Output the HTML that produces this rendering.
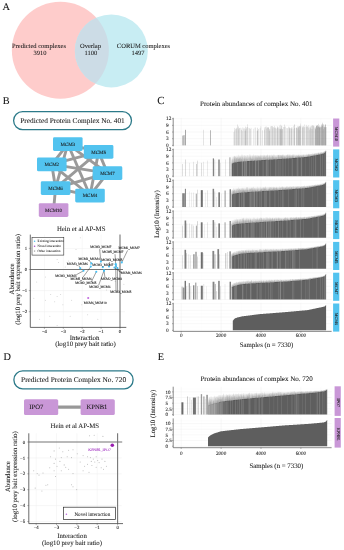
<!DOCTYPE html>
<html><head><meta charset="utf-8"><title>Figure</title>
<style>
html,body{margin:0;padding:0;background:#fff;}
body{width:344px;height:550px;overflow:hidden;position:relative;font-family:"Liberation Serif","Times New Roman",serif;color:#222;}
svg{position:absolute;left:0;top:0;}
text{font-family:"Liberation Serif","Times New Roman",serif;fill:#1c1c1c;stroke:#1c1c1c;stroke-width:0.07px;text-rendering:geometricPrecision;}
.pl{font-size:10.3px;fill:#111;}
.ax{font-size:6.8px;}
.tk{font-size:5.4px;fill:#2a2a2a;stroke:#2a2a2a;stroke-width:0.1px;}
.tt{font-size:7px;}
.nd{font-size:4.95px;fill:#1a1a1a;stroke:#1a1a1a;stroke-width:0.1px;}
.sl{font-size:3.3px;fill:#222;stroke:#222;stroke-width:0.1px;}
.st{font-size:4.2px;fill:#222;stroke:#222;stroke-width:0.1px;}
.lg{font-size:3.35px;stroke:#222;stroke-width:0.06px;}
.vn{font-size:6.5px;fill:#1a1a1a;}
</style></head><body>
<svg width="344" height="550" viewBox="0 0 344 550">
<rect width="344" height="550" fill="#ffffff"/>

<g id="venn">
<circle cx="60.35" cy="50.2" r="48.5" fill="#fecccb"/>
<circle cx="111.35" cy="50.9" r="36.5" fill="#c8edf3"/>
<clipPath id="cpA"><circle cx="60.35" cy="50.2" r="48.5"/></clipPath>
<circle cx="111.35" cy="50.9" r="36.5" fill="#ccdce6" clip-path="url(#cpA)"/>
<text class="pl" x="2.6" y="10.2">A</text>
<text class="vn" x="39" y="48.0" text-anchor="middle">Predicted complexes</text>
<text class="vn" x="40" y="54.7" text-anchor="middle">3910</text>
<text class="vn" x="90.5" y="48.0" text-anchor="middle">Overlap</text>
<text class="vn" x="90.8" y="54.7" text-anchor="middle">1100</text>
<text class="vn" x="143.5" y="48.0" text-anchor="middle">CORUM complexes</text>
<text class="vn" x="137.9" y="54.7" text-anchor="middle">1497</text>
</g>
<g id="panelB">
<text class="pl" x="2.7" y="103.8">B</text>
<rect x="13.6" y="111.6" width="117.9" height="18" rx="9" ry="9" fill="#fff" stroke="#2c7a89" stroke-width="1.3"/>
<text x="72.5" y="123" text-anchor="middle" style="font-size:7.3px">Predicted Protein Complex No. 401</text>
<g stroke="#9a9a9a" stroke-width="2.9" stroke-linecap="round">
<line x1="51.8" y1="164.4" x2="67.8" y2="144.05"/>
<line x1="51.8" y1="164.4" x2="90" y2="195.5"/>
<line x1="51.8" y1="164.4" x2="98.6" y2="151.85"/>
<line x1="51.8" y1="164.4" x2="55.55" y2="188.2"/>
<line x1="51.8" y1="164.4" x2="107.45" y2="173.15"/>
<line x1="67.8" y1="144.05" x2="90" y2="195.5"/>
<line x1="67.8" y1="144.05" x2="98.6" y2="151.85"/>
<line x1="67.8" y1="144.05" x2="55.55" y2="188.2"/>
<line x1="67.8" y1="144.05" x2="107.45" y2="173.15"/>
<line x1="90" y1="195.5" x2="98.6" y2="151.85"/>
<line x1="90" y1="195.5" x2="55.55" y2="188.2"/>
<line x1="90" y1="195.5" x2="107.45" y2="173.15"/>
<line x1="98.6" y1="151.85" x2="55.55" y2="188.2"/>
<line x1="98.6" y1="151.85" x2="107.45" y2="173.15"/>
<line x1="55.55" y1="188.2" x2="107.45" y2="173.15"/>
<line x1="55.55" y1="188.2" x2="53.55" y2="210.05"/>
</g>
<rect x="53.0" y="137.2" width="29.6" height="13.7" rx="1.4" fill="#52c3ef"/>
<text class="nd" x="67.8" y="145.8" text-anchor="middle">MCM3</text>
<rect x="83.8" y="145.0" width="29.6" height="13.7" rx="1.4" fill="#52c3ef"/>
<text class="nd" x="98.6" y="153.5" text-anchor="middle">MCM5</text>
<rect x="37.0" y="157.6" width="29.6" height="13.7" rx="1.4" fill="#52c3ef"/>
<text class="nd" x="51.8" y="166.1" text-anchor="middle">MCM2</text>
<rect x="92.7" y="166.3" width="29.6" height="13.7" rx="1.4" fill="#52c3ef"/>
<text class="nd" x="107.45" y="174.8" text-anchor="middle">MCM7</text>
<rect x="40.8" y="181.3" width="29.6" height="13.7" rx="1.4" fill="#52c3ef"/>
<text class="nd" x="55.55" y="189.9" text-anchor="middle">MCM6</text>
<rect x="75.2" y="188.7" width="29.6" height="13.7" rx="1.4" fill="#52c3ef"/>
<text class="nd" x="90" y="197.2" text-anchor="middle">MCM4</text>
<rect x="38.8" y="203.2" width="29.6" height="13.7" rx="1.4" fill="#c997d7"/>
<text class="nd" x="53.55" y="211.8" text-anchor="middle">MCM10</text>
<text class="tt" x="81.2" y="231" text-anchor="middle" style="font-size:6.8px">Hein et al AP-MS</text>
<rect x="30.3" y="234.6" width="94.7" height="92.79999999999998" fill="#fff"/>
<g stroke="#eeeeee" stroke-width="0.5">
<line x1="44.4" y1="234.6" x2="44.4" y2="327.4"/>
<line x1="63.3" y1="234.6" x2="63.3" y2="327.4"/>
<line x1="82.2" y1="234.6" x2="82.2" y2="327.4"/>
<line x1="101.1" y1="234.6" x2="101.1" y2="327.4"/>
<line x1="30.3" y1="248.4" x2="125" y2="248.4"/>
<line x1="30.3" y1="290.6" x2="125" y2="290.6"/>
<line x1="30.3" y1="311.7" x2="125" y2="311.7"/>
</g>
<g fill="#cfcfcf">
<circle cx="80.3" cy="237.8" r="0.5"/>
<circle cx="57.1" cy="259.6" r="0.5"/>
<circle cx="58.5" cy="262.5" r="0.5"/>
<circle cx="68.7" cy="261.1" r="0.5"/>
<circle cx="65.2" cy="266.9" r="0.5"/>
<circle cx="45.4" cy="277.1" r="0.5"/>
<circle cx="36.7" cy="282.0" r="0.5"/>
<circle cx="50.7" cy="294.5" r="0.5"/>
<circle cx="57.1" cy="296.5" r="0.5"/>
<circle cx="60.6" cy="294.5" r="0.5"/>
<circle cx="45.4" cy="300.3" r="0.5"/>
<circle cx="54.7" cy="301.8" r="0.5"/>
<circle cx="71.6" cy="300.3" r="0.5"/>
<circle cx="62.9" cy="304.7" r="0.5"/>
<circle cx="87.6" cy="314.8" r="0.5"/>
<circle cx="70.2" cy="316.3" r="0.5"/>
<circle cx="57.1" cy="325.6" r="0.5"/>
<circle cx="97.8" cy="319.2" r="0.5"/>
<circle cx="115.2" cy="281.4" r="0.5"/>
<circle cx="123.9" cy="284.3" r="0.5"/>
<circle cx="90.5" cy="264.6" r="0.5"/>
<circle cx="100.7" cy="250.0" r="0.5"/>
<circle cx="33.8" cy="298.3" r="0.5"/>
<circle cx="106.5" cy="290.1" r="0.5"/>
<circle cx="86.1" cy="282.9" r="0.5"/>
<circle cx="76.0" cy="249.4" r="0.5"/>
<circle cx="49.8" cy="316.3" r="0.5"/>
<circle cx="39.6" cy="319.2" r="0.5"/>
<circle cx="81.8" cy="304.7" r="0.5"/>
<circle cx="94.9" cy="301.8" r="0.5"/>
</g>
<line x1="30.3" y1="269.5" x2="123" y2="269.5" stroke="#757575" stroke-width="1.1"/>
<line x1="120.0" y1="234.6" x2="120.0" y2="327.4" stroke="#757575" stroke-width="1.1"/>
<path d="M30.3 234.6 L30.3 327.4 L126.3 327.4" fill="none" stroke="#444" stroke-width="0.8"/>
<g stroke="#444" stroke-width="0.4">
<line x1="44.4" y1="327.4" x2="44.4" y2="328.9"/>
<line x1="63.3" y1="327.4" x2="63.3" y2="328.9"/>
<line x1="82.2" y1="327.4" x2="82.2" y2="328.9"/>
<line x1="101.1" y1="327.4" x2="101.1" y2="328.9"/>
<line x1="120.0" y1="327.4" x2="120.0" y2="328.9"/>
<line x1="28.8" y1="248.4" x2="30.3" y2="248.4"/>
<line x1="28.8" y1="269.5" x2="30.3" y2="269.5"/>
<line x1="28.8" y1="290.6" x2="30.3" y2="290.6"/>
<line x1="28.8" y1="311.7" x2="30.3" y2="311.7"/>
</g>
<text class="tk" x="44.4" y="333.3" text-anchor="middle" style="font-size:4.7px">−4</text>
<text class="tk" x="63.3" y="333.3" text-anchor="middle" style="font-size:4.7px">−3</text>
<text class="tk" x="82.2" y="333.3" text-anchor="middle" style="font-size:4.7px">−2</text>
<text class="tk" x="101.1" y="333.3" text-anchor="middle" style="font-size:4.7px">−1</text>
<text class="tk" x="120.0" y="333.3" text-anchor="middle" style="font-size:4.7px">0</text>
<text class="tk" x="27.2" y="250.0" text-anchor="end" style="font-size:4.7px">1</text>
<text class="tk" x="27.2" y="271.1" text-anchor="end" style="font-size:4.7px">0</text>
<text class="tk" x="27.2" y="292.2" text-anchor="end" style="font-size:4.7px">−1</text>
<text class="tk" x="27.2" y="313.2" text-anchor="end" style="font-size:4.7px">−2</text>
<text class="ax" x="84.6" y="340.2" text-anchor="middle" style="font-size:6.9px">Interaction</text>
<text class="ax" x="85.5" y="346.2" text-anchor="middle" style="font-size:6.9px">(log10 prey bait ratio)</text>
<text class="ax" transform="translate(14.1,279.0) rotate(-90)" text-anchor="middle">Abundance</text>
<text class="ax" transform="translate(20.4,279.4) rotate(-90)" text-anchor="middle">(log10 prey bait expression ratio)</text>
<rect x="32" y="237.5" width="31.8" height="17.6" fill="#fff" stroke="#333" stroke-width="0.6"/>
<circle cx="34.6" cy="241.3" r="0.8" fill="#52c3ef"/>
<text class="lg" x="37.6" y="242.4">Existing interaction</text>
<circle cx="34.6" cy="246.2" r="0.8" fill="#a64ac9"/>
<text class="lg" x="37.6" y="247.3">Novel interaction</text>
<circle cx="34.6" cy="251.1" r="0.8" fill="#b0b0b0"/>
<text class="lg" x="37.6" y="252.2">Other interaction</text>
<g stroke="#2a2a2a" stroke-width="0.45">
<line x1="100.9" y1="261.6" x2="99.6" y2="249.2"/>
<line x1="121.8" y1="262.4" x2="127.6" y2="250.4"/>
<line x1="115.7" y1="264.3" x2="115.0" y2="254.2"/>
<line x1="91.3" y1="263.4" x2="89.5" y2="260.8"/>
<line x1="109.0" y1="266.5" x2="109.5" y2="262.0"/>
<line x1="80.3" y1="268.3" x2="78.9" y2="265.6"/>
<line x1="102.8" y1="267.2" x2="102.8" y2="266.6"/>
<line x1="114.5" y1="267.6" x2="120.6" y2="272.4"/>
<line x1="83.5" y1="270.8" x2="76.2" y2="274.8"/>
<line x1="90.8" y1="266.6" x2="82.5" y2="277.9"/>
<line x1="104.0" y1="270.6" x2="105.0" y2="278.0"/>
<line x1="96.3" y1="271.7" x2="91.2" y2="282.2"/>
<line x1="104.0" y1="270.6" x2="98.6" y2="285.4"/>
<line x1="115.7" y1="264.3" x2="116.0" y2="291.0"/>
<line x1="117.4" y1="268.0" x2="117.6" y2="291.0"/>
<line x1="116.0" y1="266.0" x2="120.6" y2="272.4"/>
</g>
<circle cx="100.9" cy="261.6" r="1.05" fill="#45c0f5"/>
<circle cx="121.8" cy="262.4" r="1.05" fill="#45c0f5"/>
<circle cx="115.7" cy="264.3" r="1.05" fill="#45c0f5"/>
<circle cx="91.3" cy="263.4" r="1.05" fill="#45c0f5"/>
<circle cx="109.0" cy="266.5" r="1.05" fill="#45c0f5"/>
<circle cx="80.3" cy="268.3" r="1.05" fill="#45c0f5"/>
<circle cx="102.8" cy="267.2" r="1.05" fill="#45c0f5"/>
<circle cx="114.5" cy="267.6" r="1.05" fill="#45c0f5"/>
<circle cx="83.5" cy="270.8" r="1.05" fill="#45c0f5"/>
<circle cx="90.8" cy="266.6" r="1.05" fill="#45c0f5"/>
<circle cx="104.0" cy="270.6" r="1.05" fill="#45c0f5"/>
<circle cx="96.3" cy="271.7" r="1.05" fill="#45c0f5"/>
<circle cx="104.0" cy="270.6" r="1.05" fill="#45c0f5"/>
<circle cx="115.7" cy="264.3" r="1.05" fill="#45c0f5"/>
<circle cx="117.4" cy="268.0" r="1.05" fill="#45c0f5"/>
<circle cx="116.0" cy="266.0" r="1.05" fill="#45c0f5"/>
<text class="sl" x="100.8" y="248.1" text-anchor="middle">MCM3_MCM7</text>
<text class="sl" x="129.1" y="249.4" text-anchor="middle">MCM6_MCM7</text>
<text class="sl" x="112.8" y="253.3" text-anchor="middle">MCM5_MCM7</text>
<text class="sl" x="89.1" y="260.0" text-anchor="middle">MCM3_MCM4</text>
<text class="sl" x="111.9" y="261.1" text-anchor="middle">MCM3_MCM5</text>
<text class="sl" x="77.4" y="264.8" text-anchor="middle">MCM3_MCM6</text>
<text class="sl" x="102.9" y="266.1" text-anchor="middle">MCM2_MCM7</text>
<text class="sl" x="131.3" y="274.1" text-anchor="middle">MCM4_MCM6</text>
<text class="sl" x="65.9" y="276.7" text-anchor="middle">MCM2_MCM3</text>
<text class="sl" x="81.1" y="280.1" text-anchor="middle">MCM5_MCM6</text>
<text class="sl" x="111.5" y="280.3" text-anchor="middle">MCM2_MCM4</text>
<text class="sl" x="85.8" y="284.4" text-anchor="middle">MCM2_MCM5</text>
<text class="sl" x="99.8" y="287.6" text-anchor="middle">MCM2_MCM6</text>
<text class="sl" x="120.9" y="293.4" text-anchor="middle">MCM4_MCM5</text>
<circle cx="88.2" cy="298" r="1.05" fill="#c36be0"/>
<text class="sl" x="95.2" y="303.6" text-anchor="middle">MCM6_MCM10</text>
</g>
<g id="panelC">
<text class="pl" x="157.3" y="104.3" style="font-size:11px">C</text>
<text class="tt" x="256.3" y="105.8" text-anchor="middle">Protein abundances of complex No. 401</text>
<rect x="173.2" y="117.8" width="158.40000000000003" height="28.5" fill="#fff"/>
<g stroke="#f8f8f8" stroke-width="0.3">
<line x1="173.2" y1="142.02" x2="331.6" y2="142.02"/>
<line x1="173.2" y1="135.36" x2="331.6" y2="135.36"/>
<line x1="173.2" y1="128.70" x2="331.6" y2="128.70"/>
<line x1="173.2" y1="122.04" x2="331.6" y2="122.04"/>
<line x1="201.15" y1="117.8" x2="201.15" y2="146.3"/>
<line x1="241.05" y1="117.8" x2="241.05" y2="146.3"/>
<line x1="280.95" y1="117.8" x2="280.95" y2="146.3"/>
<line x1="320.85" y1="117.8" x2="320.85" y2="146.3"/>
</g>
<g stroke="#f0f0f0" stroke-width="0.45">
<line x1="173.2" y1="145.35" x2="331.6" y2="145.35"/>
<line x1="173.2" y1="138.69" x2="331.6" y2="138.69"/>
<line x1="173.2" y1="132.03" x2="331.6" y2="132.03"/>
<line x1="173.2" y1="125.37" x2="331.6" y2="125.37"/>
<line x1="173.2" y1="118.71" x2="331.6" y2="118.71"/>
<line x1="181.20" y1="117.8" x2="181.20" y2="146.3"/>
<line x1="221.10" y1="117.8" x2="221.10" y2="146.3"/>
<line x1="261.00" y1="117.8" x2="261.00" y2="146.3"/>
<line x1="300.90" y1="117.8" x2="300.90" y2="146.3"/>
</g>
<g fill="#595959">
<rect x="182.40" y="135.58" width="1.00" height="9.77" opacity="0.55"/>
<rect x="183.60" y="135.14" width="0.90" height="10.21" opacity="0.60"/>
<rect x="185.00" y="129.81" width="0.70" height="15.54" opacity="0.75"/>
<rect x="203.10" y="129.81" width="0.40" height="15.54" opacity="0.40"/>
<rect x="210.00" y="130.25" width="0.60" height="15.10" opacity="0.70"/>
<rect x="233.80" y="132.03" width="0.30" height="13.32" opacity="0.46"/>
<rect x="234.40" y="127.89" width="0.30" height="17.46" opacity="0.42"/>
<rect x="234.70" y="130.44" width="0.30" height="14.91" opacity="0.30"/>
<rect x="235.00" y="129.13" width="0.30" height="16.22" opacity="0.37"/>
<rect x="235.90" y="128.36" width="0.30" height="16.99" opacity="0.45"/>
<rect x="236.20" y="129.34" width="0.30" height="16.01" opacity="0.30"/>
<rect x="236.80" y="127.68" width="0.30" height="17.67" opacity="0.52"/>
<rect x="237.10" y="124.55" width="0.30" height="20.80" opacity="0.54"/>
<rect x="238.00" y="126.47" width="0.30" height="18.88" opacity="0.54"/>
<rect x="238.60" y="129.31" width="0.30" height="16.04" opacity="0.39"/>
<rect x="238.90" y="128.18" width="0.30" height="17.17" opacity="0.38"/>
<rect x="239.50" y="128.07" width="0.30" height="17.28" opacity="0.47"/>
<rect x="240.10" y="127.78" width="0.30" height="17.57" opacity="0.38"/>
<rect x="241.00" y="129.95" width="0.30" height="15.40" opacity="0.54"/>
<rect x="241.30" y="128.44" width="0.30" height="16.91" opacity="0.30"/>
<rect x="242.50" y="131.19" width="0.30" height="14.16" opacity="0.31"/>
<rect x="242.80" y="127.48" width="0.30" height="17.87" opacity="0.49"/>
<rect x="243.70" y="128.63" width="0.30" height="16.72" opacity="0.39"/>
<rect x="244.60" y="128.37" width="0.30" height="16.98" opacity="0.51"/>
<rect x="244.90" y="130.91" width="0.30" height="14.44" opacity="0.54"/>
<rect x="245.20" y="129.40" width="0.30" height="15.95" opacity="0.53"/>
<rect x="245.50" y="126.65" width="0.30" height="18.70" opacity="0.53"/>
<rect x="246.10" y="128.67" width="0.30" height="16.68" opacity="0.32"/>
<rect x="246.40" y="127.47" width="0.30" height="17.88" opacity="0.47"/>
<rect x="247.00" y="124.23" width="0.30" height="21.12" opacity="0.43"/>
<rect x="247.60" y="126.98" width="0.30" height="18.37" opacity="0.45"/>
<rect x="248.80" y="127.90" width="0.30" height="17.45" opacity="0.42"/>
<rect x="249.40" y="128.40" width="0.30" height="16.95" opacity="0.48"/>
<rect x="250.60" y="128.93" width="0.30" height="16.42" opacity="0.51"/>
<rect x="250.90" y="127.84" width="0.30" height="17.51" opacity="0.41"/>
<rect x="253.30" y="128.77" width="0.30" height="16.58" opacity="0.39"/>
<rect x="254.80" y="127.59" width="0.30" height="17.76" opacity="0.32"/>
<rect x="255.10" y="127.47" width="0.30" height="17.88" opacity="0.39"/>
<rect x="256.90" y="130.84" width="0.30" height="14.51" opacity="0.48"/>
<rect x="257.20" y="130.45" width="0.30" height="14.90" opacity="0.47"/>
<rect x="257.50" y="127.76" width="0.30" height="17.59" opacity="0.54"/>
<rect x="258.40" y="129.00" width="0.30" height="16.35" opacity="0.47"/>
<rect x="259.90" y="128.23" width="0.30" height="17.12" opacity="0.46"/>
<rect x="260.80" y="126.28" width="0.30" height="19.07" opacity="0.47"/>
<rect x="262.30" y="130.28" width="0.30" height="15.07" opacity="0.51"/>
<rect x="264.10" y="127.43" width="0.30" height="17.92" opacity="0.47"/>
<rect x="264.40" y="129.65" width="0.30" height="15.70" opacity="0.46"/>
<rect x="265.60" y="126.92" width="0.30" height="18.43" opacity="0.46"/>
<rect x="265.90" y="126.43" width="0.30" height="18.92" opacity="0.47"/>
<rect x="266.50" y="128.74" width="0.30" height="16.61" opacity="0.31"/>
<rect x="266.80" y="127.53" width="0.30" height="17.82" opacity="0.38"/>
<rect x="267.10" y="127.57" width="0.30" height="17.78" opacity="0.42"/>
<rect x="267.40" y="127.33" width="0.30" height="18.02" opacity="0.45"/>
<rect x="268.00" y="127.64" width="0.30" height="17.71" opacity="0.40"/>
<rect x="268.30" y="127.70" width="0.30" height="17.65" opacity="0.40"/>
<rect x="268.60" y="126.98" width="0.30" height="18.37" opacity="0.31"/>
<rect x="269.20" y="128.87" width="0.30" height="16.48" opacity="0.44"/>
<rect x="269.50" y="130.82" width="0.30" height="14.53" opacity="0.50"/>
<rect x="269.80" y="129.40" width="0.30" height="15.95" opacity="0.50"/>
<rect x="270.40" y="126.40" width="0.30" height="18.95" opacity="0.44"/>
<rect x="271.60" y="126.07" width="0.30" height="19.28" opacity="0.52"/>
<rect x="271.90" y="126.12" width="0.30" height="19.23" opacity="0.45"/>
<rect x="272.20" y="126.39" width="0.30" height="18.96" opacity="0.46"/>
<rect x="272.80" y="128.49" width="0.30" height="16.86" opacity="0.37"/>
<rect x="273.40" y="127.10" width="0.30" height="18.25" opacity="0.54"/>
<rect x="274.30" y="125.83" width="0.30" height="19.52" opacity="0.40"/>
<rect x="274.60" y="127.70" width="0.30" height="17.65" opacity="0.55"/>
<rect x="275.20" y="128.21" width="0.30" height="17.14" opacity="0.46"/>
<rect x="275.50" y="127.36" width="0.30" height="17.99" opacity="0.37"/>
<rect x="276.40" y="128.57" width="0.30" height="16.78" opacity="0.53"/>
<rect x="277.00" y="127.66" width="0.30" height="17.69" opacity="0.37"/>
<rect x="277.30" y="126.22" width="0.30" height="19.13" opacity="0.45"/>
<rect x="277.60" y="127.49" width="0.30" height="17.86" opacity="0.46"/>
<rect x="278.50" y="127.31" width="0.30" height="18.04" opacity="0.43"/>
<rect x="278.80" y="128.59" width="0.30" height="16.76" opacity="0.37"/>
<rect x="279.40" y="128.89" width="0.30" height="16.46" opacity="0.45"/>
<rect x="279.70" y="125.52" width="0.30" height="19.83" opacity="0.36"/>
<rect x="280.00" y="124.73" width="0.30" height="20.62" opacity="0.44"/>
<rect x="280.30" y="128.85" width="0.30" height="16.50" opacity="0.49"/>
<rect x="280.60" y="129.34" width="0.30" height="16.01" opacity="0.46"/>
<rect x="280.90" y="128.35" width="0.30" height="17.00" opacity="0.53"/>
<rect x="281.20" y="129.50" width="0.30" height="15.85" opacity="0.35"/>
<rect x="281.50" y="125.53" width="0.30" height="19.82" opacity="0.51"/>
<rect x="281.80" y="126.14" width="0.30" height="19.21" opacity="0.41"/>
<rect x="282.10" y="129.19" width="0.30" height="16.16" opacity="0.50"/>
<rect x="282.70" y="129.07" width="0.30" height="16.28" opacity="0.42"/>
<rect x="283.00" y="127.01" width="0.30" height="18.34" opacity="0.34"/>
<rect x="283.90" y="126.90" width="0.30" height="18.45" opacity="0.50"/>
<rect x="284.50" y="124.57" width="0.30" height="20.78" opacity="0.48"/>
<rect x="285.70" y="126.63" width="0.30" height="18.72" opacity="0.46"/>
<rect x="286.60" y="128.01" width="0.30" height="17.34" opacity="0.37"/>
<rect x="287.20" y="128.28" width="0.30" height="17.07" opacity="0.34"/>
<rect x="287.80" y="128.08" width="0.30" height="17.27" opacity="0.33"/>
<rect x="288.10" y="126.67" width="0.30" height="18.68" opacity="0.44"/>
<rect x="289.00" y="126.87" width="0.30" height="18.48" opacity="0.41"/>
<rect x="289.30" y="128.43" width="0.30" height="16.92" opacity="0.53"/>
<rect x="289.60" y="128.06" width="0.30" height="17.29" opacity="0.31"/>
<rect x="290.20" y="128.22" width="0.30" height="17.13" opacity="0.53"/>
<rect x="291.10" y="128.29" width="0.30" height="17.06" opacity="0.44"/>
<rect x="291.40" y="127.01" width="0.30" height="18.34" opacity="0.33"/>
<rect x="291.70" y="128.75" width="0.30" height="16.60" opacity="0.39"/>
<rect x="292.30" y="127.48" width="0.30" height="17.87" opacity="0.32"/>
<rect x="292.90" y="129.03" width="0.30" height="16.32" opacity="0.33"/>
<rect x="293.50" y="125.78" width="0.30" height="19.57" opacity="0.38"/>
<rect x="294.10" y="128.10" width="0.30" height="17.25" opacity="0.48"/>
<rect x="294.40" y="124.86" width="0.30" height="20.49" opacity="0.47"/>
<rect x="294.70" y="124.04" width="0.30" height="21.31" opacity="0.33"/>
<rect x="295.90" y="127.85" width="0.30" height="17.50" opacity="0.36"/>
<rect x="296.20" y="127.84" width="0.30" height="17.51" opacity="0.45"/>
<rect x="296.50" y="127.46" width="0.30" height="17.89" opacity="0.51"/>
<rect x="297.40" y="126.34" width="0.30" height="19.01" opacity="0.51"/>
<rect x="297.70" y="128.42" width="0.30" height="16.93" opacity="0.49"/>
<rect x="298.00" y="127.87" width="0.30" height="17.48" opacity="0.32"/>
<rect x="298.30" y="126.70" width="0.30" height="18.65" opacity="0.52"/>
<rect x="298.60" y="126.43" width="0.30" height="18.92" opacity="0.49"/>
<rect x="298.90" y="129.79" width="0.30" height="15.56" opacity="0.45"/>
<rect x="299.20" y="126.24" width="0.30" height="19.11" opacity="0.42"/>
<rect x="299.50" y="126.31" width="0.30" height="19.04" opacity="0.39"/>
<rect x="299.80" y="126.08" width="0.30" height="19.27" opacity="0.52"/>
<rect x="300.10" y="126.80" width="0.30" height="18.55" opacity="0.34"/>
<rect x="300.40" y="125.60" width="0.30" height="19.75" opacity="0.36"/>
<rect x="300.70" y="123.54" width="0.30" height="21.81" opacity="0.39"/>
<rect x="301.90" y="126.07" width="0.30" height="19.28" opacity="0.54"/>
<rect x="302.20" y="127.30" width="0.30" height="18.05" opacity="0.47"/>
<rect x="302.80" y="127.74" width="0.30" height="17.61" opacity="0.35"/>
<rect x="303.10" y="126.62" width="0.30" height="18.73" opacity="0.40"/>
<rect x="303.70" y="126.09" width="0.30" height="19.26" opacity="0.38"/>
<rect x="304.00" y="127.15" width="0.30" height="18.20" opacity="0.48"/>
<rect x="304.30" y="124.36" width="0.30" height="20.99" opacity="0.36"/>
<rect x="305.50" y="126.46" width="0.30" height="18.89" opacity="0.32"/>
<rect x="306.10" y="126.63" width="0.30" height="18.72" opacity="0.31"/>
<rect x="306.40" y="124.85" width="0.30" height="20.50" opacity="0.39"/>
<rect x="306.70" y="126.70" width="0.30" height="18.65" opacity="0.32"/>
<rect x="307.30" y="126.13" width="0.30" height="19.22" opacity="0.36"/>
<rect x="307.60" y="126.75" width="0.30" height="18.60" opacity="0.40"/>
<rect x="307.90" y="126.60" width="0.30" height="18.75" opacity="0.38"/>
<rect x="308.20" y="125.07" width="0.30" height="20.28" opacity="0.31"/>
<rect x="308.80" y="127.99" width="0.30" height="17.36" opacity="0.43"/>
<rect x="309.10" y="126.60" width="0.30" height="18.75" opacity="0.38"/>
<rect x="309.40" y="129.65" width="0.30" height="15.70" opacity="0.45"/>
<rect x="310.00" y="127.34" width="0.30" height="18.01" opacity="0.30"/>
<rect x="310.30" y="128.36" width="0.30" height="16.99" opacity="0.39"/>
<rect x="310.60" y="126.32" width="0.30" height="19.03" opacity="0.48"/>
<rect x="311.20" y="129.02" width="0.30" height="16.33" opacity="0.36"/>
<rect x="311.50" y="125.60" width="0.30" height="19.75" opacity="0.38"/>
<rect x="311.80" y="126.07" width="0.30" height="19.28" opacity="0.38"/>
<rect x="312.10" y="129.08" width="0.30" height="16.27" opacity="0.32"/>
<rect x="312.40" y="125.11" width="0.30" height="20.24" opacity="0.44"/>
<rect x="312.70" y="125.65" width="0.30" height="19.70" opacity="0.32"/>
<rect x="313.30" y="126.03" width="0.30" height="19.32" opacity="0.39"/>
<rect x="313.60" y="125.27" width="0.30" height="20.08" opacity="0.41"/>
<rect x="313.90" y="126.36" width="0.30" height="18.99" opacity="0.52"/>
<rect x="314.80" y="128.20" width="0.30" height="17.15" opacity="0.41"/>
<rect x="315.10" y="128.36" width="0.30" height="16.99" opacity="0.68"/>
<rect x="315.40" y="129.32" width="0.30" height="16.03" opacity="0.57"/>
<rect x="315.70" y="126.90" width="0.30" height="18.45" opacity="0.52"/>
<rect x="316.00" y="125.81" width="0.30" height="19.54" opacity="0.57"/>
<rect x="316.30" y="126.43" width="0.30" height="18.92" opacity="0.69"/>
<rect x="316.60" y="125.80" width="0.30" height="19.55" opacity="0.51"/>
<rect x="316.90" y="125.37" width="0.30" height="19.98" opacity="0.71"/>
<rect x="317.20" y="125.30" width="0.30" height="20.05" opacity="0.65"/>
<rect x="317.50" y="127.52" width="0.30" height="17.83" opacity="0.58"/>
<rect x="317.80" y="125.68" width="0.30" height="19.67" opacity="0.65"/>
<rect x="318.10" y="126.36" width="0.30" height="18.99" opacity="0.63"/>
<rect x="318.40" y="126.90" width="0.30" height="18.45" opacity="0.68"/>
<rect x="318.70" y="123.87" width="0.30" height="21.48" opacity="0.53"/>
<rect x="319.00" y="127.21" width="0.30" height="18.14" opacity="0.73"/>
<rect x="319.30" y="127.66" width="0.30" height="17.69" opacity="0.69"/>
<rect x="319.60" y="125.60" width="0.30" height="19.75" opacity="0.63"/>
<rect x="319.90" y="126.77" width="0.30" height="18.58" opacity="0.70"/>
<rect x="320.20" y="126.59" width="0.30" height="18.76" opacity="0.51"/>
<rect x="320.80" y="127.65" width="0.30" height="17.70" opacity="0.72"/>
<rect x="321.10" y="126.95" width="0.30" height="18.40" opacity="0.55"/>
<rect x="321.40" y="125.61" width="0.30" height="19.74" opacity="0.59"/>
<rect x="321.70" y="124.39" width="0.30" height="20.96" opacity="0.56"/>
<rect x="322.00" y="126.11" width="0.30" height="19.24" opacity="0.71"/>
<rect x="322.30" y="122.71" width="0.30" height="22.64" opacity="0.65"/>
<rect x="322.60" y="124.44" width="0.30" height="20.91" opacity="0.62"/>
<rect x="322.90" y="124.00" width="0.30" height="21.35" opacity="0.54"/>
<rect x="323.20" y="126.75" width="0.30" height="18.60" opacity="0.55"/>
<rect x="323.50" y="129.15" width="0.30" height="16.20" opacity="0.58"/>
<rect x="323.80" y="124.79" width="0.30" height="20.56" opacity="0.70"/>
<rect x="324.10" y="127.62" width="0.30" height="17.73" opacity="0.50"/>
<rect x="324.40" y="126.88" width="0.30" height="18.47" opacity="0.60"/>
<rect x="324.70" y="126.56" width="0.30" height="18.79" opacity="0.51"/>
<rect x="325.00" y="127.29" width="0.30" height="18.06" opacity="0.68"/>
<rect x="325.30" y="124.96" width="0.30" height="20.39" opacity="0.75"/>
<rect x="325.60" y="124.08" width="0.30" height="21.27" opacity="0.67"/>
<rect x="325.90" y="127.06" width="0.30" height="18.29" opacity="0.70"/>
</g>
<line x1="173.2" y1="117.8" x2="173.2" y2="146.3" stroke="#3a3a3a" stroke-width="0.6"/>
<g stroke="#333" stroke-width="0.35">
<line x1="172.0" y1="145.35" x2="173.2" y2="145.35"/>
<line x1="172.0" y1="138.69" x2="173.2" y2="138.69"/>
<line x1="172.0" y1="132.03" x2="173.2" y2="132.03"/>
<line x1="172.0" y1="125.37" x2="173.2" y2="125.37"/>
<line x1="172.0" y1="118.71" x2="173.2" y2="118.71"/>
</g>
<text class="tk" x="166.1" y="147.10" style="font-size:5.3px">0</text>
<text class="tk" x="166.1" y="140.44" style="font-size:5.3px">3</text>
<text class="tk" x="166.1" y="133.78" style="font-size:5.3px">6</text>
<text class="tk" x="166.1" y="127.12" style="font-size:5.3px">9</text>
<text class="tk" x="166.1" y="120.46" style="font-size:5.3px">12</text>
<rect x="333.1" y="118.5" width="6.2" height="28.1" fill="#c997d7"/>
<text class="st" transform="translate(334.85,133.9) rotate(90)" text-anchor="middle">MCM10</text>
<rect x="173.2" y="148.7" width="158.40000000000003" height="28.5" fill="#fff"/>
<g stroke="#f8f8f8" stroke-width="0.3">
<line x1="173.2" y1="172.85" x2="331.6" y2="172.85"/>
<line x1="173.2" y1="166.19" x2="331.6" y2="166.19"/>
<line x1="173.2" y1="159.53" x2="331.6" y2="159.53"/>
<line x1="173.2" y1="152.87" x2="331.6" y2="152.87"/>
<line x1="201.15" y1="148.7" x2="201.15" y2="177.2"/>
<line x1="241.05" y1="148.7" x2="241.05" y2="177.2"/>
<line x1="280.95" y1="148.7" x2="280.95" y2="177.2"/>
<line x1="320.85" y1="148.7" x2="320.85" y2="177.2"/>
</g>
<g stroke="#f0f0f0" stroke-width="0.45">
<line x1="173.2" y1="176.18" x2="331.6" y2="176.18"/>
<line x1="173.2" y1="169.52" x2="331.6" y2="169.52"/>
<line x1="173.2" y1="162.86" x2="331.6" y2="162.86"/>
<line x1="173.2" y1="156.20" x2="331.6" y2="156.20"/>
<line x1="173.2" y1="149.54" x2="331.6" y2="149.54"/>
<line x1="181.20" y1="148.7" x2="181.20" y2="177.2"/>
<line x1="221.10" y1="148.7" x2="221.10" y2="177.2"/>
<line x1="261.00" y1="148.7" x2="261.00" y2="177.2"/>
<line x1="300.90" y1="148.7" x2="300.90" y2="177.2"/>
</g>
<g fill="#595959">
<rect x="182.30" y="163.97" width="0.50" height="12.21" opacity="0.38"/>
<rect x="185.20" y="159.53" width="0.50" height="16.65" opacity="0.45"/>
<rect x="189.50" y="162.86" width="0.40" height="13.32" opacity="0.30"/>
<rect x="193.00" y="161.75" width="0.40" height="14.43" opacity="0.34"/>
<rect x="196.00" y="163.97" width="0.60" height="12.21" opacity="0.45"/>
<rect x="197.30" y="160.64" width="0.50" height="15.54" opacity="0.38"/>
<rect x="201.30" y="162.86" width="0.50" height="13.32" opacity="0.38"/>
<rect x="203.50" y="161.75" width="0.40" height="14.43" opacity="0.30"/>
<rect x="207.30" y="160.64" width="0.40" height="15.54" opacity="0.30"/>
<rect x="212.80" y="158.42" width="1.20" height="17.76" opacity="0.74"/>
<rect x="214.60" y="159.53" width="0.50" height="16.65" opacity="0.38"/>
<rect x="218.30" y="159.53" width="1.40" height="16.65" opacity="0.78"/>
<rect x="220.50" y="162.86" width="0.40" height="13.32" opacity="0.30"/>
<rect x="225.00" y="159.53" width="0.40" height="16.65" opacity="0.38"/>
<rect x="229.60" y="157.31" width="0.70" height="18.87" opacity="0.83"/>
</g>
<path d="M231.60 176.18 L231.60 163.75 L232.10 163.51 L232.60 163.28 L233.10 163.04 L233.60 162.81 L234.10 162.57 L234.60 162.39 L235.10 162.33 L235.60 162.26 L236.10 162.19 L236.60 162.13 L237.10 162.06 L237.60 161.99 L238.10 161.92 L238.60 161.86 L239.10 161.79 L239.60 161.72 L240.10 161.66 L240.60 161.59 L241.10 161.52 L241.60 161.49 L242.10 161.45 L242.60 161.42 L243.10 161.38 L243.60 161.35 L244.10 161.31 L244.60 161.28 L245.10 161.24 L245.60 161.21 L246.10 161.17 L246.60 161.14 L247.10 161.10 L247.60 161.07 L248.10 161.03 L248.60 161.00 L249.10 160.96 L249.60 160.93 L250.10 160.89 L250.60 160.85 L251.10 160.82 L251.60 160.78 L252.10 160.75 L252.60 160.71 L253.10 160.68 L253.60 160.64 L254.10 160.61 L254.60 160.57 L255.10 160.54 L255.60 160.50 L256.10 160.47 L256.60 160.43 L257.10 160.40 L257.60 160.36 L258.10 160.33 L258.60 160.29 L259.10 160.26 L259.60 160.22 L260.10 160.19 L260.60 160.16 L261.10 160.13 L261.60 160.10 L262.10 160.07 L262.60 160.03 L263.10 160.00 L263.60 159.97 L264.10 159.94 L264.60 159.91 L265.10 159.88 L265.60 159.85 L266.10 159.82 L266.60 159.79 L267.10 159.76 L267.60 159.73 L268.10 159.70 L268.60 159.67 L269.10 159.64 L269.60 159.61 L270.10 159.58 L270.60 159.55 L271.10 159.52 L271.60 159.49 L272.10 159.46 L272.60 159.43 L273.10 159.40 L273.60 159.36 L274.10 159.33 L274.60 159.30 L275.10 159.27 L275.60 159.24 L276.10 159.21 L276.60 159.18 L277.10 159.15 L277.60 159.12 L278.10 159.09 L278.60 159.06 L279.10 159.03 L279.60 159.00 L280.10 158.97 L280.60 158.94 L281.10 158.91 L281.60 158.88 L282.10 158.85 L282.60 158.82 L283.10 158.79 L283.60 158.76 L284.10 158.73 L284.60 158.69 L285.10 158.66 L285.60 158.63 L286.10 158.59 L286.60 158.55 L287.10 158.51 L287.60 158.47 L288.10 158.43 L288.60 158.39 L289.10 158.34 L289.60 158.30 L290.10 158.26 L290.60 158.22 L291.10 158.18 L291.60 158.14 L292.10 158.10 L292.60 158.06 L293.10 158.02 L293.60 157.98 L294.10 157.94 L294.60 157.90 L295.10 157.85 L295.60 157.81 L296.10 157.77 L296.60 157.73 L297.10 157.69 L297.60 157.65 L298.10 157.61 L298.60 157.57 L299.10 157.53 L299.60 157.49 L300.10 157.45 L300.60 157.41 L301.10 157.36 L301.60 157.32 L302.10 157.28 L302.60 157.24 L303.10 157.20 L303.60 157.16 L304.10 157.12 L304.60 157.08 L305.10 157.04 L305.60 157.00 L306.10 156.96 L306.60 156.92 L307.10 156.87 L307.60 156.79 L308.10 156.69 L308.60 156.60 L309.10 156.50 L309.60 156.41 L310.10 156.31 L310.60 156.22 L311.10 156.12 L311.60 156.03 L312.10 155.93 L312.60 155.84 L313.10 155.74 L313.60 155.64 L314.10 155.55 L314.60 155.45 L315.10 155.36 L315.60 155.26 L316.10 155.17 L316.60 155.07 L317.10 154.98 L317.60 154.88 L318.10 154.79 L318.60 154.69 L319.10 154.59 L319.60 154.50 L320.10 154.40 L320.60 154.31 L321.10 154.21 L321.60 154.12 L322.10 154.02 L322.60 153.87 L323.10 153.69 L323.60 153.50 L324.10 153.31 L324.60 153.12 L325.10 152.50 L325.60 151.80 L326.10 151.09 L326.10 176.18 Z" fill="#616161"/>
<path d="M233.61 176.18v-14.04h0.20v14.04zM237.12 176.18v-14.79h0.25v14.79zM241.87 176.18v-15.36h0.20v15.36zM242.22 176.18v-15.39h0.40v15.39zM242.71 176.18v-15.43h0.40v15.43zM244.22 176.18v-15.53h0.30v15.53zM244.67 176.18v-15.57h0.30v15.57zM245.19 176.18v-15.60h0.30v15.60zM245.87 176.18v-15.64h0.20v15.64zM246.33 176.18v-15.67h0.40v15.67zM246.77 176.18v-15.71h0.20v15.71zM249.26 176.18v-15.89h0.40v15.89zM252.14 176.18v-16.10h0.20v16.10zM255.32 176.18v-16.31h0.30v16.31zM255.64 176.18v-16.34h0.40v16.34zM256.86 176.18v-16.41h0.25v16.41zM258.35 176.18v-16.52h0.40v16.52zM258.63 176.18v-16.55h0.25v16.55zM262.71 176.18v-16.81h0.20v16.81zM263.71 176.18v-16.87h0.30v16.87zM265.88 176.18v-16.99h0.40v16.99zM266.64 176.18v-17.06h0.30v17.06zM267.39 176.18v-17.09h0.40v17.09zM268.10 176.18v-17.15h0.30v17.15zM270.21 176.18v-17.27h0.30v17.27zM275.40 176.18v-17.57h0.40v17.57zM276.77 176.18v-17.66h0.20v17.66zM277.86 176.18v-17.72h0.40v17.72zM279.10 176.18v-17.82h0.20v17.82zM280.77 176.18v-17.91h0.30v17.91zM282.16 176.18v-18.00h0.25v18.00zM283.39 176.18v-18.06h0.20v18.06zM285.22 176.18v-18.18h0.25v18.18zM288.73 176.18v-18.46h0.20v18.46zM291.87 176.18v-18.71h0.25v18.71zM292.23 176.18v-18.75h0.25v18.75zM296.83 176.18v-19.11h0.25v19.11zM297.11 176.18v-19.15h0.40v19.15zM298.32 176.18v-19.24h0.20v19.24zM300.88 176.18v-19.44h0.30v19.44zM301.34 176.18v-19.48h0.25v19.48zM301.83 176.18v-19.52h0.25v19.52zM305.13 176.18v-19.81h0.20v19.81zM309.82 176.18v-20.44h0.20v20.44zM311.73 176.18v-20.82h0.25v20.82zM313.61 176.18v-21.20h0.25v21.20zM315.23 176.18v-21.49h0.30v21.49zM315.88 176.18v-21.58h0.20v21.58zM320.62 176.18v-22.54h0.40v22.54zM322.35 176.18v-22.82h0.30v22.82zM324.27 176.18v-23.54h0.20v23.54zM325.64 176.18v-25.05h0.20v25.05z" fill="#fff" opacity="0.32"/>
<path d="M231.6 164.0 L231.6 157.1 L232.1 156.9 L232.6 156.7 L233.1 156.5 L233.6 156.3 L234.1 156.0 L234.6 155.9 L235.1 155.9 L237.6 155.6 L240.6 155.4 L243.6 155.3 L246.6 155.3 L249.6 155.2 L252.6 155.2 L255.6 155.1 L258.6 155.1 L261.6 155.0 L264.6 155.0 L267.6 155.0 L270.6 154.9 L273.6 154.9 L276.6 154.9 L279.6 154.9 L282.6 154.9 L285.6 154.8 L288.6 154.7 L291.6 154.7 L294.6 154.6 L297.6 154.5 L300.6 154.4 L303.6 154.3 L306.6 154.2 L309.6 153.9 L312.6 153.5 L315.6 153.0 L318.6 152.6 L321.6 152.2 L323.1 151.9 L323.6 151.7 L324.1 151.5 L324.6 151.4 L325.1 150.8 L325.6 150.1 L326.1 149.4 L326.1 151.4 L325.6 152.1 L325.1 152.8 L324.6 153.4 L324.1 153.6 L323.6 153.8 L323.1 154.0 L321.6 154.4 L318.6 155.0 L315.6 155.6 L312.6 156.1 L309.6 156.7 L306.6 157.2 L303.6 157.5 L300.6 157.7 L297.6 158.0 L294.6 158.2 L291.6 158.4 L288.6 158.7 L285.6 158.9 L282.6 159.1 L279.6 159.3 L276.6 159.5 L273.6 159.7 L270.6 159.8 L267.6 160.0 L264.6 160.2 L261.6 160.4 L258.6 160.6 L255.6 160.8 L252.6 161.0 L249.6 161.2 L246.6 161.4 L243.6 161.6 L240.6 161.9 L237.6 162.3 L235.1 162.6 L234.6 162.7 L234.1 162.9 L233.6 163.1 L233.1 163.3 L232.6 163.6 L232.1 163.8 L231.6 164.0Z" fill="#616161" opacity="0.075"/>
<path d="M231.6 164.0 L231.6 158.2 L232.1 158.0 L232.6 157.8 L233.1 157.6 L233.6 157.3 L234.1 157.1 L234.6 157.0 L235.1 156.9 L237.6 156.7 L240.6 156.4 L243.6 156.3 L246.6 156.2 L249.6 156.2 L252.6 156.1 L255.6 156.0 L258.6 155.9 L261.6 155.9 L264.6 155.8 L267.6 155.8 L270.6 155.7 L273.6 155.7 L276.6 155.6 L279.6 155.6 L282.6 155.5 L285.6 155.5 L288.6 155.3 L291.6 155.2 L294.6 155.1 L297.6 155.0 L300.6 154.9 L303.6 154.8 L306.6 154.7 L309.6 154.3 L312.6 153.9 L315.6 153.4 L318.6 153.0 L321.6 152.5 L323.1 152.2 L323.6 152.0 L324.1 151.8 L324.6 151.7 L325.1 151.1 L325.6 150.4 L326.1 149.7 L326.1 151.4 L325.6 152.1 L325.1 152.8 L324.6 153.4 L324.1 153.6 L323.6 153.8 L323.1 154.0 L321.6 154.4 L318.6 155.0 L315.6 155.6 L312.6 156.1 L309.6 156.7 L306.6 157.2 L303.6 157.5 L300.6 157.7 L297.6 158.0 L294.6 158.2 L291.6 158.4 L288.6 158.7 L285.6 158.9 L282.6 159.1 L279.6 159.3 L276.6 159.5 L273.6 159.7 L270.6 159.8 L267.6 160.0 L264.6 160.2 L261.6 160.4 L258.6 160.6 L255.6 160.8 L252.6 161.0 L249.6 161.2 L246.6 161.4 L243.6 161.6 L240.6 161.9 L237.6 162.3 L235.1 162.6 L234.6 162.7 L234.1 162.9 L233.6 163.1 L233.1 163.3 L232.6 163.6 L232.1 163.8 L231.6 164.0Z" fill="#616161" opacity="0.075"/>
<path d="M231.6 164.0 L231.6 159.3 L232.1 159.1 L232.6 158.9 L233.1 158.7 L233.6 158.4 L234.1 158.2 L234.6 158.1 L235.1 158.0 L237.6 157.8 L240.6 157.5 L243.6 157.3 L246.6 157.2 L249.6 157.1 L252.6 157.0 L255.6 156.9 L258.6 156.8 L261.6 156.7 L264.6 156.6 L267.6 156.6 L270.6 156.5 L273.6 156.4 L276.6 156.3 L279.6 156.3 L282.6 156.2 L285.6 156.1 L288.6 156.0 L291.6 155.8 L294.6 155.7 L297.6 155.5 L300.6 155.4 L303.6 155.3 L306.6 155.1 L309.6 154.7 L312.6 154.2 L315.6 153.8 L318.6 153.3 L321.6 152.8 L323.1 152.5 L323.6 152.3 L324.1 152.1 L324.6 152.0 L325.1 151.4 L325.6 150.7 L326.1 150.0 L326.1 151.4 L325.6 152.1 L325.1 152.8 L324.6 153.4 L324.1 153.6 L323.6 153.8 L323.1 154.0 L321.6 154.4 L318.6 155.0 L315.6 155.6 L312.6 156.1 L309.6 156.7 L306.6 157.2 L303.6 157.5 L300.6 157.7 L297.6 158.0 L294.6 158.2 L291.6 158.4 L288.6 158.7 L285.6 158.9 L282.6 159.1 L279.6 159.3 L276.6 159.5 L273.6 159.7 L270.6 159.8 L267.6 160.0 L264.6 160.2 L261.6 160.4 L258.6 160.6 L255.6 160.8 L252.6 161.0 L249.6 161.2 L246.6 161.4 L243.6 161.6 L240.6 161.9 L237.6 162.3 L235.1 162.6 L234.6 162.7 L234.1 162.9 L233.6 163.1 L233.1 163.3 L232.6 163.6 L232.1 163.8 L231.6 164.0Z" fill="#616161" opacity="0.075"/>
<path d="M231.6 164.0 L231.6 160.4 L232.1 160.2 L232.6 160.0 L233.1 159.8 L233.6 159.5 L234.1 159.3 L234.6 159.1 L235.1 159.1 L237.6 158.8 L240.6 158.5 L243.6 158.3 L246.6 158.2 L249.6 158.1 L252.6 157.9 L255.6 157.8 L258.6 157.7 L261.6 157.6 L264.6 157.5 L267.6 157.4 L270.6 157.2 L273.6 157.1 L276.6 157.0 L279.6 156.9 L282.6 156.8 L285.6 156.7 L288.6 156.6 L291.6 156.4 L294.6 156.2 L297.6 156.1 L300.6 155.9 L303.6 155.7 L306.6 155.6 L309.6 155.1 L312.6 154.6 L315.6 154.2 L318.6 153.7 L321.6 153.2 L323.1 152.8 L323.6 152.6 L324.1 152.4 L324.6 152.3 L325.1 151.6 L325.6 151.0 L326.1 150.3 L326.1 151.4 L325.6 152.1 L325.1 152.8 L324.6 153.4 L324.1 153.6 L323.6 153.8 L323.1 154.0 L321.6 154.4 L318.6 155.0 L315.6 155.6 L312.6 156.1 L309.6 156.7 L306.6 157.2 L303.6 157.5 L300.6 157.7 L297.6 158.0 L294.6 158.2 L291.6 158.4 L288.6 158.7 L285.6 158.9 L282.6 159.1 L279.6 159.3 L276.6 159.5 L273.6 159.7 L270.6 159.8 L267.6 160.0 L264.6 160.2 L261.6 160.4 L258.6 160.6 L255.6 160.8 L252.6 161.0 L249.6 161.2 L246.6 161.4 L243.6 161.6 L240.6 161.9 L237.6 162.3 L235.1 162.6 L234.6 162.7 L234.1 162.9 L233.6 163.1 L233.1 163.3 L232.6 163.6 L232.1 163.8 L231.6 164.0Z" fill="#616161" opacity="0.075"/>
<path d="M231.6 164.0 L231.6 161.5 L232.1 161.3 L232.6 161.1 L233.1 160.8 L233.6 160.6 L234.1 160.4 L234.6 160.2 L235.1 160.2 L237.6 159.9 L240.6 159.5 L243.6 159.3 L246.6 159.2 L249.6 159.0 L252.6 158.9 L255.6 158.7 L258.6 158.5 L261.6 158.4 L264.6 158.3 L267.6 158.1 L270.6 158.0 L273.6 157.9 L276.6 157.8 L279.6 157.6 L282.6 157.5 L285.6 157.4 L288.6 157.2 L291.6 157.0 L294.6 156.8 L297.6 156.6 L300.6 156.4 L303.6 156.2 L306.6 156.0 L309.6 155.6 L312.6 155.0 L315.6 154.5 L318.6 154.0 L321.6 153.5 L323.1 153.1 L323.6 152.9 L324.1 152.7 L324.6 152.5 L325.1 151.9 L325.6 151.2 L326.1 150.5 L326.1 151.4 L325.6 152.1 L325.1 152.8 L324.6 153.4 L324.1 153.6 L323.6 153.8 L323.1 154.0 L321.6 154.4 L318.6 155.0 L315.6 155.6 L312.6 156.1 L309.6 156.7 L306.6 157.2 L303.6 157.5 L300.6 157.7 L297.6 158.0 L294.6 158.2 L291.6 158.4 L288.6 158.7 L285.6 158.9 L282.6 159.1 L279.6 159.3 L276.6 159.5 L273.6 159.7 L270.6 159.8 L267.6 160.0 L264.6 160.2 L261.6 160.4 L258.6 160.6 L255.6 160.8 L252.6 161.0 L249.6 161.2 L246.6 161.4 L243.6 161.6 L240.6 161.9 L237.6 162.3 L235.1 162.6 L234.6 162.7 L234.1 162.9 L233.6 163.1 L233.1 163.3 L232.6 163.6 L232.1 163.8 L231.6 164.0Z" fill="#616161" opacity="0.075"/>
<path d="M231.6 164.0 L231.6 162.6 L232.1 162.4 L232.6 162.2 L233.1 161.9 L233.6 161.7 L234.1 161.5 L234.6 161.3 L235.1 161.2 L237.6 160.9 L240.6 160.6 L243.6 160.3 L246.6 160.2 L249.6 160.0 L252.6 159.8 L255.6 159.6 L258.6 159.4 L261.6 159.2 L264.6 159.1 L267.6 158.9 L270.6 158.8 L273.6 158.6 L276.6 158.5 L279.6 158.3 L282.6 158.2 L285.6 158.0 L288.6 157.8 L291.6 157.6 L294.6 157.3 L297.6 157.1 L300.6 156.9 L303.6 156.7 L306.6 156.5 L309.6 156.0 L312.6 155.4 L315.6 154.9 L318.6 154.3 L321.6 153.8 L323.1 153.4 L323.6 153.2 L324.1 153.0 L324.6 152.8 L325.1 152.2 L325.6 151.5 L326.1 150.8 L326.1 151.4 L325.6 152.1 L325.1 152.8 L324.6 153.4 L324.1 153.6 L323.6 153.8 L323.1 154.0 L321.6 154.4 L318.6 155.0 L315.6 155.6 L312.6 156.1 L309.6 156.7 L306.6 157.2 L303.6 157.5 L300.6 157.7 L297.6 158.0 L294.6 158.2 L291.6 158.4 L288.6 158.7 L285.6 158.9 L282.6 159.1 L279.6 159.3 L276.6 159.5 L273.6 159.7 L270.6 159.8 L267.6 160.0 L264.6 160.2 L261.6 160.4 L258.6 160.6 L255.6 160.8 L252.6 161.0 L249.6 161.2 L246.6 161.4 L243.6 161.6 L240.6 161.9 L237.6 162.3 L235.1 162.6 L234.6 162.7 L234.1 162.9 L233.6 163.1 L233.1 163.3 L232.6 163.6 L232.1 163.8 L231.6 164.0Z" fill="#616161" opacity="0.075"/>
<path d="M231.60 163.95v-3.87h0.25v3.87zM232.10 163.71v-4.51h0.25v4.51zM233.85 163.01v-5.89h0.25v5.89zM234.10 162.77v-7.10h0.25v7.10zM234.35 162.77v-6.82h0.25v6.82zM234.60 162.59v-4.94h0.25v4.94zM234.85 162.59v-3.67h0.25v3.67zM235.35 162.53v-5.77h0.25v5.77zM235.60 162.46v-5.61h0.25v5.61zM235.85 162.46v-2.19h0.25v2.19zM236.10 162.39v-3.96h0.25v3.96zM236.35 162.39v-4.13h0.25v4.13zM236.60 162.33v-4.68h0.25v4.68zM236.85 162.33v-5.78h0.25v5.78zM237.10 162.26v-5.01h0.25v5.01zM237.60 162.19v-3.32h0.25v3.32zM237.85 162.19v-4.67h0.25v4.67zM238.10 162.12v-7.46h0.25v7.46zM238.35 162.12v-3.15h0.25v3.15zM238.60 162.06v-3.30h0.25v3.30zM238.85 162.06v-3.27h0.25v3.27zM239.10 161.99v-3.38h0.25v3.38zM239.35 161.99v-4.36h0.25v4.36zM239.60 161.92v-5.32h0.25v5.32zM239.85 161.92v-3.32h0.25v3.32zM240.10 161.86v-4.09h0.25v4.09zM240.60 161.79v-5.17h0.25v5.17zM240.85 161.79v-4.42h0.25v4.42zM241.10 161.72v-2.72h0.25v2.72zM241.35 161.72v-2.60h0.25v2.60zM241.60 161.69v-7.10h0.25v7.10zM242.35 161.65v-4.64h0.25v4.64zM242.60 161.62v-7.15h0.25v7.15zM243.60 161.55v-2.91h0.25v2.91zM244.10 161.51v-2.65h0.25v2.65zM244.35 161.51v-6.34h0.25v6.34zM244.60 161.48v-4.10h0.25v4.10zM244.85 161.48v-2.21h0.25v2.21zM245.10 161.44v-5.29h0.25v5.29zM245.85 161.41v-3.02h0.25v3.02zM246.10 161.37v-2.53h0.25v2.53zM246.35 161.37v-4.37h0.25v4.37zM247.10 161.30v-2.22h0.25v2.22zM247.35 161.30v-6.42h0.25v6.42zM248.35 161.23v-3.56h0.25v3.56zM249.60 161.13v-6.77h0.25v6.77zM249.85 161.13v-3.79h0.25v3.79zM250.35 161.09v-6.62h0.25v6.62zM250.60 161.05v-4.81h0.25v4.81zM250.85 161.05v-3.07h0.25v3.07zM251.10 161.02v-2.07h0.25v2.07zM251.35 161.02v-2.40h0.25v2.40zM251.85 160.98v-2.12h0.25v2.12zM252.10 160.95v-4.82h0.25v4.82zM252.35 160.95v-2.17h0.25v2.17zM252.85 160.91v-5.73h0.25v5.73zM253.35 160.88v-6.71h0.25v6.71zM253.85 160.84v-2.38h0.25v2.38zM254.35 160.81v-5.00h0.25v5.00zM255.10 160.74v-4.56h0.25v4.56zM255.60 160.70v-5.44h0.25v5.44zM255.85 160.70v-2.64h0.25v2.64zM256.35 160.67v-3.55h0.25v3.55zM256.60 160.63v-4.88h0.25v4.88zM257.10 160.60v-3.52h0.25v3.52zM257.35 160.60v-5.19h0.25v5.19zM257.60 160.56v-2.51h0.25v2.51zM258.10 160.53v-4.86h0.25v4.86zM258.60 160.49v-4.61h0.25v4.61zM258.85 160.49v-3.59h0.25v3.59zM259.35 160.46v-4.32h0.25v4.32zM259.60 160.42v-3.86h0.25v3.86zM259.85 160.42v-2.35h0.25v2.35zM260.35 160.39v-3.54h0.25v3.54zM260.60 160.36v-5.62h0.25v5.62zM260.85 160.36v-4.13h0.25v4.13zM261.10 160.33v-1.84h0.25v1.84zM261.60 160.30v-2.65h0.25v2.65zM261.85 160.30v-4.99h0.25v4.99zM262.60 160.23v-1.76h0.25v1.76zM262.85 160.23v-2.12h0.25v2.12zM263.10 160.20v-3.14h0.25v3.14zM263.60 160.17v-3.95h0.25v3.95zM263.85 160.17v-5.67h0.25v5.67zM264.10 160.14v-2.73h0.25v2.73zM264.35 160.14v-4.95h0.25v4.95zM264.85 160.11v-4.21h0.25v4.21zM265.10 160.08v-3.37h0.25v3.37zM265.35 160.08v-2.89h0.25v2.89zM266.10 160.02v-4.58h0.25v4.58zM266.85 159.99v-4.19h0.25v4.19zM267.10 159.96v-1.86h0.25v1.86zM267.35 159.96v-5.19h0.25v5.19zM267.60 159.93v-5.47h0.25v5.47zM268.60 159.87v-2.79h0.25v2.79zM268.85 159.87v-2.21h0.25v2.21zM269.35 159.84v-3.54h0.25v3.54zM269.60 159.81v-4.65h0.25v4.65zM269.85 159.81v-5.20h0.25v5.20zM270.10 159.78v-1.59h0.25v1.59zM270.35 159.78v-3.12h0.25v3.12zM271.35 159.72v-5.15h0.25v5.15zM271.60 159.69v-2.38h0.25v2.38zM272.10 159.66v-4.11h0.25v4.11zM272.35 159.66v-3.06h0.25v3.06zM272.60 159.63v-3.65h0.25v3.65zM272.85 159.63v-4.83h0.25v4.83zM273.35 159.60v-2.94h0.25v2.94zM273.60 159.56v-5.36h0.25v5.36zM273.85 159.56v-2.03h0.25v2.03zM274.10 159.53v-4.93h0.25v4.93zM274.60 159.50v-1.56h0.25v1.56zM275.35 159.47v-2.67h0.25v2.67zM275.60 159.44v-1.73h0.25v1.73zM275.85 159.44v-1.94h0.25v1.94zM276.35 159.41v-1.81h0.25v1.81zM276.60 159.38v-2.20h0.25v2.20zM276.85 159.38v-1.96h0.25v1.96zM277.10 159.35v-4.52h0.25v4.52zM278.10 159.29v-4.35h0.25v4.35zM278.35 159.29v-4.76h0.25v4.76zM278.60 159.26v-4.38h0.25v4.38zM278.85 159.26v-3.96h0.25v3.96zM279.35 159.23v-3.86h0.25v3.86zM279.60 159.20v-1.50h0.25v1.50zM279.85 159.20v-5.00h0.25v5.00zM280.35 159.17v-3.78h0.25v3.78zM280.60 159.14v-4.23h0.25v4.23zM280.85 159.14v-1.82h0.25v1.82zM281.10 159.11v-3.73h0.25v3.73zM281.35 159.11v-3.89h0.25v3.89zM281.60 159.08v-2.75h0.25v2.75zM281.85 159.08v-4.55h0.25v4.55zM282.10 159.05v-4.46h0.25v4.46zM282.35 159.05v-2.38h0.25v2.38zM282.60 159.02v-3.73h0.25v3.73zM282.85 159.02v-4.44h0.25v4.44zM283.35 158.99v-4.41h0.25v4.41zM283.85 158.96v-2.49h0.25v2.49zM284.10 158.93v-3.01h0.25v3.01zM284.35 158.93v-1.38h0.25v1.38zM284.60 158.89v-1.55h0.25v1.55zM284.85 158.89v-3.86h0.25v3.86zM285.10 158.86v-1.49h0.25v1.49zM285.35 158.86v-2.11h0.25v2.11zM286.35 158.79v-3.75h0.25v3.75zM286.85 158.75v-3.77h0.25v3.77zM287.10 158.71v-4.20h0.25v4.20zM287.35 158.71v-4.12h0.25v4.12zM287.60 158.67v-1.45h0.25v1.45zM287.85 158.67v-4.13h0.25v4.13zM288.60 158.59v-3.04h0.25v3.04zM288.85 158.59v-4.45h0.25v4.45zM289.10 158.54v-4.05h0.25v4.05zM289.35 158.54v-2.93h0.25v2.93zM289.85 158.50v-2.31h0.25v2.31zM290.35 158.46v-2.32h0.25v2.32zM290.60 158.42v-3.93h0.25v3.93zM290.85 158.42v-1.43h0.25v1.43zM291.35 158.38v-2.53h0.25v2.53zM291.85 158.34v-3.22h0.25v3.22zM292.10 158.30v-2.82h0.25v2.82zM292.35 158.30v-1.92h0.25v1.92zM292.60 158.26v-3.89h0.25v3.89zM292.85 158.26v-2.53h0.25v2.53zM293.35 158.22v-3.83h0.25v3.83zM293.60 158.18v-1.58h0.25v1.58zM293.85 158.18v-4.00h0.25v4.00zM295.10 158.05v-2.16h0.25v2.16zM295.35 158.05v-1.36h0.25v1.36zM296.35 157.97v-2.65h0.25v2.65zM296.60 157.93v-1.22h0.25v1.22zM296.85 157.93v-1.76h0.25v1.76zM297.35 157.89v-1.59h0.25v1.59zM297.60 157.85v-1.74h0.25v1.74zM297.85 157.85v-2.40h0.25v2.40zM298.10 157.81v-2.49h0.25v2.49zM298.35 157.81v-2.19h0.25v2.19zM298.60 157.77v-1.18h0.25v1.18zM298.85 157.77v-3.93h0.25v3.93zM299.10 157.73v-1.25h0.25v1.25zM299.35 157.73v-1.64h0.25v1.64zM299.60 157.69v-1.80h0.25v1.80zM299.85 157.69v-1.29h0.25v1.29zM300.10 157.65v-2.08h0.25v2.08zM300.85 157.61v-2.33h0.25v2.33zM301.10 157.56v-1.39h0.25v1.39zM301.35 157.56v-1.10h0.25v1.10zM301.60 157.52v-1.68h0.25v1.68zM302.35 157.48v-2.20h0.25v2.20zM302.85 157.44v-1.38h0.25v1.38zM303.35 157.40v-2.67h0.25v2.67zM303.60 157.36v-2.58h0.25v2.58zM304.35 157.32v-1.17h0.25v1.17zM305.10 157.24v-1.04h0.25v1.04zM305.85 157.20v-1.34h0.25v1.34zM306.10 157.16v-3.44h0.25v3.44zM306.85 157.12v-1.02h0.25v1.02zM307.10 157.07v-2.68h0.25v2.68zM307.60 156.99v-1.14h0.25v1.14zM307.85 156.99v-2.31h0.25v2.31zM308.10 156.89v-3.02h0.25v3.02zM308.35 156.89v-3.10h0.25v3.10zM308.60 156.80v-1.54h0.25v1.54zM308.85 156.80v-2.66h0.25v2.66zM309.35 156.70v-1.33h0.25v1.33zM309.60 156.61v-2.78h0.25v2.78zM309.85 156.61v-1.82h0.25v1.82zM310.60 156.42v-2.50h0.25v2.50zM310.85 156.42v-1.25h0.25v1.25zM311.10 156.32v-1.04h0.25v1.04zM311.35 156.32v-2.30h0.25v2.30zM312.10 156.13v-2.88h0.25v2.88zM312.85 156.04v-0.92h0.25v0.92zM313.10 155.94v-0.91h0.25v0.91zM313.35 155.94v-1.81h0.25v1.81zM313.60 155.84v-1.28h0.25v1.28zM314.10 155.75v-1.92h0.25v1.92zM314.35 155.75v-2.16h0.25v2.16zM314.60 155.65v-1.13h0.25v1.13zM314.85 155.65v-1.85h0.25v1.85zM315.60 155.46v-2.00h0.25v2.00zM316.10 155.37v-1.01h0.25v1.01zM316.35 155.37v-1.05h0.25v1.05zM316.60 155.27v-1.89h0.25v1.89zM316.85 155.27v-1.85h0.25v1.85zM317.35 155.18v-1.26h0.25v1.26zM317.85 155.08v-1.79h0.25v1.79zM318.10 154.99v-1.90h0.25v1.90zM318.35 154.99v-1.88h0.25v1.88zM318.60 154.89v-2.54h0.25v2.54zM318.85 154.89v-0.83h0.25v0.83zM319.85 154.70v-1.31h0.25v1.31zM320.10 154.60v-2.24h0.25v2.24zM320.35 154.60v-1.23h0.25v1.23zM320.85 154.51v-1.75h0.25v1.75zM321.10 154.41v-1.69h0.25v1.69zM321.35 154.41v-2.32h0.25v2.32zM321.85 154.32v-0.98h0.25v0.98zM322.10 154.22v-1.08h0.25v1.08zM322.35 154.22v-1.07h0.25v1.07zM322.60 154.07v-1.12h0.25v1.12zM323.35 153.89v-2.27h0.25v2.27zM323.60 153.70v-1.20h0.25v1.20zM323.85 153.70v-0.79h0.25v0.79zM324.10 153.51v-2.28h0.25v2.28zM324.35 153.51v-2.10h0.25v2.10zM324.60 153.32v-2.17h0.25v2.17zM325.10 152.70v-1.18h0.25v1.18zM325.35 152.70v-0.91h0.25v0.91zM325.60 152.00v-0.97h0.25v0.97zM325.85 152.00v-0.87h0.25v0.87z" fill="#616161" opacity="0.26"/>
<line x1="173.2" y1="148.7" x2="173.2" y2="177.2" stroke="#3a3a3a" stroke-width="0.6"/>
<g stroke="#333" stroke-width="0.35">
<line x1="172.0" y1="176.18" x2="173.2" y2="176.18"/>
<line x1="172.0" y1="169.52" x2="173.2" y2="169.52"/>
<line x1="172.0" y1="162.86" x2="173.2" y2="162.86"/>
<line x1="172.0" y1="156.20" x2="173.2" y2="156.20"/>
<line x1="172.0" y1="149.54" x2="173.2" y2="149.54"/>
</g>
<text class="tk" x="166.1" y="177.93" style="font-size:5.3px">0</text>
<text class="tk" x="166.1" y="171.27" style="font-size:5.3px">3</text>
<text class="tk" x="166.1" y="164.61" style="font-size:5.3px">6</text>
<text class="tk" x="166.1" y="157.95" style="font-size:5.3px">9</text>
<text class="tk" x="166.1" y="151.29" style="font-size:5.3px">12</text>
<rect x="333.1" y="149.4" width="6.2" height="28.1" fill="#52c3ef"/>
<text class="st" transform="translate(334.85,164.7) rotate(90)" text-anchor="middle">MCM2</text>
<rect x="173.2" y="179.5" width="158.40000000000003" height="28.5" fill="#fff"/>
<g stroke="#f8f8f8" stroke-width="0.3">
<line x1="173.2" y1="203.68" x2="331.6" y2="203.68"/>
<line x1="173.2" y1="197.02" x2="331.6" y2="197.02"/>
<line x1="173.2" y1="190.36" x2="331.6" y2="190.36"/>
<line x1="173.2" y1="183.70" x2="331.6" y2="183.70"/>
<line x1="201.15" y1="179.5" x2="201.15" y2="208.0"/>
<line x1="241.05" y1="179.5" x2="241.05" y2="208.0"/>
<line x1="280.95" y1="179.5" x2="280.95" y2="208.0"/>
<line x1="320.85" y1="179.5" x2="320.85" y2="208.0"/>
</g>
<g stroke="#f0f0f0" stroke-width="0.45">
<line x1="173.2" y1="207.01" x2="331.6" y2="207.01"/>
<line x1="173.2" y1="200.35" x2="331.6" y2="200.35"/>
<line x1="173.2" y1="193.69" x2="331.6" y2="193.69"/>
<line x1="173.2" y1="187.03" x2="331.6" y2="187.03"/>
<line x1="173.2" y1="180.37" x2="331.6" y2="180.37"/>
<line x1="181.20" y1="179.5" x2="181.20" y2="208.0"/>
<line x1="221.10" y1="179.5" x2="221.10" y2="208.0"/>
<line x1="261.00" y1="179.5" x2="261.00" y2="208.0"/>
<line x1="300.90" y1="179.5" x2="300.90" y2="208.0"/>
</g>
<g fill="#595959">
<rect x="182.20" y="193.25" width="2.60" height="13.76" opacity="0.74"/>
<rect x="184.90" y="188.81" width="1.00" height="18.20" opacity="0.78"/>
<rect x="189.00" y="191.47" width="0.40" height="15.54" opacity="0.26"/>
<rect x="191.00" y="192.58" width="0.40" height="14.43" opacity="0.26"/>
<rect x="193.00" y="192.58" width="0.40" height="14.43" opacity="0.30"/>
<rect x="195.80" y="193.69" width="1.00" height="13.32" opacity="0.55"/>
<rect x="197.20" y="189.69" width="0.50" height="17.32" opacity="0.38"/>
<rect x="200.80" y="190.14" width="2.00" height="16.87" opacity="0.87"/>
<rect x="205.00" y="192.58" width="0.40" height="14.43" opacity="0.22"/>
<rect x="207.20" y="190.36" width="0.50" height="16.65" opacity="0.30"/>
<rect x="212.60" y="188.81" width="1.50" height="18.20" opacity="0.74"/>
<rect x="214.60" y="191.47" width="0.50" height="15.54" opacity="0.38"/>
<rect x="216.40" y="197.02" width="0.40" height="9.99" opacity="0.30"/>
<rect x="218.30" y="192.36" width="1.70" height="14.65" opacity="0.78"/>
<rect x="221.50" y="193.69" width="0.40" height="13.32" opacity="0.22"/>
<rect x="224.60" y="190.58" width="1.00" height="16.43" opacity="0.64"/>
<rect x="229.60" y="189.25" width="1.30" height="17.76" opacity="0.83"/>
</g>
<path d="M231.60 207.01 L231.60 194.80 L232.10 194.57 L232.60 194.33 L233.10 194.10 L233.60 193.86 L234.10 193.63 L234.60 193.45 L235.10 193.38 L235.60 193.31 L236.10 193.24 L236.60 193.18 L237.10 193.11 L237.60 193.04 L238.10 192.98 L238.60 192.91 L239.10 192.84 L239.60 192.77 L240.10 192.71 L240.60 192.64 L241.10 192.58 L241.60 192.54 L242.10 192.51 L242.60 192.47 L243.10 192.44 L243.60 192.40 L244.10 192.37 L244.60 192.33 L245.10 192.29 L245.60 192.26 L246.10 192.22 L246.60 192.19 L247.10 192.15 L247.60 192.12 L248.10 192.08 L248.60 192.05 L249.10 192.01 L249.60 191.98 L250.10 191.94 L250.60 191.91 L251.10 191.87 L251.60 191.84 L252.10 191.80 L252.60 191.77 L253.10 191.73 L253.60 191.70 L254.10 191.66 L254.60 191.63 L255.10 191.59 L255.60 191.55 L256.10 191.52 L256.60 191.48 L257.10 191.45 L257.60 191.41 L258.10 191.38 L258.60 191.34 L259.10 191.31 L259.60 191.27 L260.10 191.24 L260.60 191.21 L261.10 191.18 L261.60 191.15 L262.10 191.12 L262.60 191.09 L263.10 191.06 L263.60 191.03 L264.10 191.00 L264.60 190.96 L265.10 190.93 L265.60 190.90 L266.10 190.87 L266.60 190.84 L267.10 190.81 L267.60 190.78 L268.10 190.75 L268.60 190.72 L269.10 190.69 L269.60 190.66 L270.10 190.63 L270.60 190.60 L271.10 190.57 L271.60 190.54 L272.10 190.51 L272.60 190.48 L273.10 190.45 L273.60 190.42 L274.10 190.39 L274.60 190.36 L275.10 190.33 L275.60 190.29 L276.10 190.26 L276.60 190.23 L277.10 190.20 L277.60 190.17 L278.10 190.14 L278.60 190.11 L279.10 190.08 L279.60 190.05 L280.10 190.02 L280.60 189.99 L281.10 189.96 L281.60 189.93 L282.10 189.90 L282.60 189.87 L283.10 189.84 L283.60 189.81 L284.10 189.78 L284.60 189.75 L285.10 189.72 L285.60 189.68 L286.10 189.64 L286.60 189.60 L287.10 189.56 L287.60 189.52 L288.10 189.48 L288.60 189.44 L289.10 189.40 L289.60 189.36 L290.10 189.32 L290.60 189.27 L291.10 189.23 L291.60 189.19 L292.10 189.15 L292.60 189.11 L293.10 189.07 L293.60 189.03 L294.10 188.99 L294.60 188.95 L295.10 188.91 L295.60 188.87 L296.10 188.82 L296.60 188.78 L297.10 188.74 L297.60 188.70 L298.10 188.66 L298.60 188.62 L299.10 188.58 L299.60 188.54 L300.10 188.50 L300.60 188.46 L301.10 188.42 L301.60 188.38 L302.10 188.33 L302.60 188.29 L303.10 188.25 L303.60 188.21 L304.10 188.17 L304.60 188.13 L305.10 188.09 L305.60 188.05 L306.10 188.01 L306.60 187.97 L307.10 187.93 L307.60 187.84 L308.10 187.75 L308.60 187.65 L309.10 187.56 L309.60 187.46 L310.10 187.36 L310.60 187.27 L311.10 187.17 L311.60 187.08 L312.10 186.98 L312.60 186.89 L313.10 186.79 L313.60 186.70 L314.10 186.60 L314.60 186.51 L315.10 186.41 L315.60 186.31 L316.10 186.22 L316.60 186.12 L317.10 186.03 L317.60 185.93 L318.10 185.84 L318.60 185.74 L319.10 185.65 L319.60 185.55 L320.10 185.46 L320.60 185.36 L321.10 185.26 L321.60 185.17 L322.10 185.07 L322.60 184.93 L323.10 184.74 L323.60 184.55 L324.10 184.36 L324.60 184.18 L325.10 183.56 L325.60 182.85 L326.10 182.15 L326.10 207.01 Z" fill="#616161"/>
<path d="M231.88 207.01v-12.88h0.25v12.88zM233.68 207.01v-13.82h0.20v13.82zM234.76 207.01v-14.23h0.40v14.23zM238.89 207.01v-14.77h0.25v14.77zM239.30 207.01v-14.83h0.40v14.83zM241.31 207.01v-15.10h0.40v15.10zM242.34 207.01v-15.17h0.20v15.17zM243.23 207.01v-15.24h0.40v15.24zM243.83 207.01v-15.28h0.20v15.28zM244.26 207.01v-15.31h0.40v15.31zM249.10 207.01v-15.66h0.30v15.66zM250.18 207.01v-15.73h0.30v15.73zM250.73 207.01v-15.77h0.25v15.77zM251.37 207.01v-15.80h0.40v15.80zM252.16 207.01v-15.87h0.30v15.87zM253.17 207.01v-15.95h0.25v15.95zM253.88 207.01v-15.98h0.25v15.98zM254.40 207.01v-16.02h0.25v16.02zM254.68 207.01v-16.05h0.40v16.05zM256.13 207.01v-16.16h0.20v16.16zM256.76 207.01v-16.19h0.25v16.19zM257.61 207.01v-16.26h0.25v16.26zM259.35 207.01v-16.37h0.30v16.37zM260.60 207.01v-16.47h0.20v16.47zM261.14 207.01v-16.50h0.40v16.50zM264.23 207.01v-16.68h0.40v16.68zM265.63 207.01v-16.77h0.40v16.77zM266.63 207.01v-16.83h0.40v16.83zM269.26 207.01v-16.99h0.40v16.99zM270.11 207.01v-17.05h0.20v17.05zM274.36 207.01v-17.29h0.25v17.29zM275.28 207.01v-17.35h0.20v17.35zM278.62 207.01v-17.56h0.25v17.56zM280.81 207.01v-17.69h0.25v17.69zM282.27 207.01v-17.78h0.40v17.78zM283.74 207.01v-17.87h0.30v17.87zM288.30 207.01v-18.20h0.30v18.20zM294.83 207.01v-18.73h0.25v18.73zM295.63 207.01v-18.81h0.20v18.81zM296.33 207.01v-18.85h0.40v18.85zM298.72 207.01v-19.06h0.25v19.06zM301.18 207.01v-19.26h0.30v19.26zM302.83 207.01v-19.38h0.20v19.38zM303.71 207.01v-19.46h0.40v19.46zM312.81 207.01v-20.79h0.20v20.79zM317.80 207.01v-21.74h0.25v21.74zM325.80 207.01v-24.83h0.30v24.83z" fill="#fff" opacity="0.32"/>
<path d="M231.6 195.1 L231.6 189.7 L232.1 189.5 L232.6 189.3 L233.1 189.1 L233.6 188.8 L234.1 188.6 L234.6 188.5 L235.1 188.4 L237.6 188.2 L240.6 187.9 L243.6 187.8 L246.6 187.7 L249.6 187.6 L252.6 187.5 L255.6 187.4 L258.6 187.3 L261.6 187.3 L264.6 187.2 L267.6 187.1 L270.6 187.1 L273.6 187.0 L276.6 187.0 L279.6 186.9 L282.6 186.8 L285.6 186.8 L288.6 186.6 L291.6 186.5 L294.6 186.4 L297.6 186.3 L300.6 186.1 L303.6 186.0 L306.6 185.9 L309.6 185.5 L312.6 185.1 L315.6 184.6 L318.6 184.2 L321.6 183.7 L323.1 183.3 L323.6 183.2 L324.1 183.0 L324.6 182.8 L325.1 182.2 L325.6 181.6 L326.1 180.9 L326.1 182.4 L325.6 183.2 L325.1 183.9 L324.6 184.5 L324.1 184.7 L323.6 184.9 L323.1 185.0 L321.6 185.5 L318.6 186.0 L315.6 186.6 L312.6 187.2 L309.6 187.8 L306.6 188.3 L303.6 188.5 L300.6 188.8 L297.6 189.0 L294.6 189.2 L291.6 189.5 L288.6 189.7 L285.6 190.0 L282.6 190.2 L279.6 190.4 L276.6 190.5 L273.6 190.7 L270.6 190.9 L267.6 191.1 L264.6 191.3 L261.6 191.4 L258.6 191.6 L255.6 191.9 L252.6 192.1 L249.6 192.3 L246.6 192.5 L243.6 192.7 L240.6 192.9 L237.6 193.3 L235.1 193.7 L234.6 193.7 L234.1 193.9 L233.6 194.2 L233.1 194.4 L232.6 194.6 L232.1 194.9 L231.6 195.1Z" fill="#616161" opacity="0.075"/>
<path d="M231.6 195.1 L231.6 190.5 L232.1 190.3 L232.6 190.1 L233.1 189.9 L233.6 189.7 L234.1 189.5 L234.6 189.3 L235.1 189.2 L237.6 189.0 L240.6 188.7 L243.6 188.6 L246.6 188.4 L249.6 188.3 L252.6 188.2 L255.6 188.1 L258.6 188.0 L261.6 187.9 L264.6 187.8 L267.6 187.7 L270.6 187.7 L273.6 187.6 L276.6 187.5 L279.6 187.4 L282.6 187.3 L285.6 187.3 L288.6 187.1 L291.6 187.0 L294.6 186.8 L297.6 186.7 L300.6 186.5 L303.6 186.4 L306.6 186.2 L309.6 185.8 L312.6 185.4 L315.6 184.9 L318.6 184.4 L321.6 184.0 L323.1 183.6 L323.6 183.4 L324.1 183.2 L324.6 183.1 L325.1 182.5 L325.6 181.8 L326.1 181.1 L326.1 182.4 L325.6 183.2 L325.1 183.9 L324.6 184.5 L324.1 184.7 L323.6 184.9 L323.1 185.0 L321.6 185.5 L318.6 186.0 L315.6 186.6 L312.6 187.2 L309.6 187.8 L306.6 188.3 L303.6 188.5 L300.6 188.8 L297.6 189.0 L294.6 189.2 L291.6 189.5 L288.6 189.7 L285.6 190.0 L282.6 190.2 L279.6 190.4 L276.6 190.5 L273.6 190.7 L270.6 190.9 L267.6 191.1 L264.6 191.3 L261.6 191.4 L258.6 191.6 L255.6 191.9 L252.6 192.1 L249.6 192.3 L246.6 192.5 L243.6 192.7 L240.6 192.9 L237.6 193.3 L235.1 193.7 L234.6 193.7 L234.1 193.9 L233.6 194.2 L233.1 194.4 L232.6 194.6 L232.1 194.9 L231.6 195.1Z" fill="#616161" opacity="0.075"/>
<path d="M231.6 195.1 L231.6 191.4 L232.1 191.2 L232.6 191.0 L233.1 190.7 L233.6 190.5 L234.1 190.3 L234.6 190.1 L235.1 190.1 L237.6 189.8 L240.6 189.5 L243.6 189.3 L246.6 189.2 L249.6 189.1 L252.6 188.9 L255.6 188.8 L258.6 188.7 L261.6 188.6 L264.6 188.5 L267.6 188.4 L270.6 188.2 L273.6 188.1 L276.6 188.0 L279.6 187.9 L282.6 187.8 L285.6 187.7 L288.6 187.6 L291.6 187.4 L294.6 187.2 L297.6 187.1 L300.6 186.9 L303.6 186.8 L306.6 186.6 L309.6 186.2 L312.6 185.7 L315.6 185.2 L318.6 184.7 L321.6 184.2 L323.1 183.8 L323.6 183.6 L324.1 183.5 L324.6 183.3 L325.1 182.7 L325.6 182.0 L326.1 181.3 L326.1 182.4 L325.6 183.2 L325.1 183.9 L324.6 184.5 L324.1 184.7 L323.6 184.9 L323.1 185.0 L321.6 185.5 L318.6 186.0 L315.6 186.6 L312.6 187.2 L309.6 187.8 L306.6 188.3 L303.6 188.5 L300.6 188.8 L297.6 189.0 L294.6 189.2 L291.6 189.5 L288.6 189.7 L285.6 190.0 L282.6 190.2 L279.6 190.4 L276.6 190.5 L273.6 190.7 L270.6 190.9 L267.6 191.1 L264.6 191.3 L261.6 191.4 L258.6 191.6 L255.6 191.9 L252.6 192.1 L249.6 192.3 L246.6 192.5 L243.6 192.7 L240.6 192.9 L237.6 193.3 L235.1 193.7 L234.6 193.7 L234.1 193.9 L233.6 194.2 L233.1 194.4 L232.6 194.6 L232.1 194.9 L231.6 195.1Z" fill="#616161" opacity="0.075"/>
<path d="M231.6 195.1 L231.6 192.2 L232.1 192.0 L232.6 191.8 L233.1 191.6 L233.6 191.3 L234.1 191.1 L234.6 191.0 L235.1 190.9 L237.6 190.6 L240.6 190.3 L243.6 190.1 L246.6 189.9 L249.6 189.8 L252.6 189.6 L255.6 189.5 L258.6 189.3 L261.6 189.2 L264.6 189.1 L267.6 189.0 L270.6 188.8 L273.6 188.7 L276.6 188.6 L279.6 188.5 L282.6 188.3 L285.6 188.2 L288.6 188.0 L291.6 187.9 L294.6 187.7 L297.6 187.5 L300.6 187.3 L303.6 187.1 L306.6 186.9 L309.6 186.5 L312.6 186.0 L315.6 185.5 L318.6 185.0 L321.6 184.4 L323.1 184.0 L323.6 183.9 L324.1 183.7 L324.6 183.5 L325.1 182.9 L325.6 182.2 L326.1 181.5 L326.1 182.4 L325.6 183.2 L325.1 183.9 L324.6 184.5 L324.1 184.7 L323.6 184.9 L323.1 185.0 L321.6 185.5 L318.6 186.0 L315.6 186.6 L312.6 187.2 L309.6 187.8 L306.6 188.3 L303.6 188.5 L300.6 188.8 L297.6 189.0 L294.6 189.2 L291.6 189.5 L288.6 189.7 L285.6 190.0 L282.6 190.2 L279.6 190.4 L276.6 190.5 L273.6 190.7 L270.6 190.9 L267.6 191.1 L264.6 191.3 L261.6 191.4 L258.6 191.6 L255.6 191.9 L252.6 192.1 L249.6 192.3 L246.6 192.5 L243.6 192.7 L240.6 192.9 L237.6 193.3 L235.1 193.7 L234.6 193.7 L234.1 193.9 L233.6 194.2 L233.1 194.4 L232.6 194.6 L232.1 194.9 L231.6 195.1Z" fill="#616161" opacity="0.075"/>
<path d="M231.6 195.1 L231.6 193.1 L232.1 192.9 L232.6 192.6 L233.1 192.4 L233.6 192.2 L234.1 192.0 L234.6 191.8 L235.1 191.7 L237.6 191.4 L240.6 191.1 L243.6 190.9 L246.6 190.7 L249.6 190.5 L252.6 190.3 L255.6 190.2 L258.6 190.0 L261.6 189.9 L264.6 189.7 L267.6 189.6 L270.6 189.4 L273.6 189.3 L276.6 189.1 L279.6 189.0 L282.6 188.9 L285.6 188.7 L288.6 188.5 L291.6 188.3 L294.6 188.1 L297.6 187.9 L300.6 187.7 L303.6 187.5 L306.6 187.3 L309.6 186.8 L312.6 186.3 L315.6 185.7 L318.6 185.2 L321.6 184.7 L323.1 184.3 L323.6 184.1 L324.1 183.9 L324.6 183.7 L325.1 183.1 L325.6 182.4 L326.1 181.7 L326.1 182.4 L325.6 183.2 L325.1 183.9 L324.6 184.5 L324.1 184.7 L323.6 184.9 L323.1 185.0 L321.6 185.5 L318.6 186.0 L315.6 186.6 L312.6 187.2 L309.6 187.8 L306.6 188.3 L303.6 188.5 L300.6 188.8 L297.6 189.0 L294.6 189.2 L291.6 189.5 L288.6 189.7 L285.6 190.0 L282.6 190.2 L279.6 190.4 L276.6 190.5 L273.6 190.7 L270.6 190.9 L267.6 191.1 L264.6 191.3 L261.6 191.4 L258.6 191.6 L255.6 191.9 L252.6 192.1 L249.6 192.3 L246.6 192.5 L243.6 192.7 L240.6 192.9 L237.6 193.3 L235.1 193.7 L234.6 193.7 L234.1 193.9 L233.6 194.2 L233.1 194.4 L232.6 194.6 L232.1 194.9 L231.6 195.1Z" fill="#616161" opacity="0.075"/>
<path d="M231.6 195.1 L231.6 193.9 L232.1 193.7 L232.6 193.5 L233.1 193.3 L233.6 193.0 L234.1 192.8 L234.6 192.6 L235.1 192.6 L237.6 192.2 L240.6 191.9 L243.6 191.6 L246.6 191.4 L249.6 191.2 L252.6 191.1 L255.6 190.9 L258.6 190.7 L261.6 190.5 L264.6 190.3 L267.6 190.2 L270.6 190.0 L273.6 189.8 L276.6 189.7 L279.6 189.5 L282.6 189.4 L285.6 189.2 L288.6 189.0 L291.6 188.7 L294.6 188.5 L297.6 188.3 L300.6 188.1 L303.6 187.8 L306.6 187.6 L309.6 187.1 L312.6 186.6 L315.6 186.0 L318.6 185.5 L321.6 184.9 L323.1 184.5 L323.6 184.3 L324.1 184.1 L324.6 184.0 L325.1 183.3 L325.6 182.6 L326.1 181.9 L326.1 182.4 L325.6 183.2 L325.1 183.9 L324.6 184.5 L324.1 184.7 L323.6 184.9 L323.1 185.0 L321.6 185.5 L318.6 186.0 L315.6 186.6 L312.6 187.2 L309.6 187.8 L306.6 188.3 L303.6 188.5 L300.6 188.8 L297.6 189.0 L294.6 189.2 L291.6 189.5 L288.6 189.7 L285.6 190.0 L282.6 190.2 L279.6 190.4 L276.6 190.5 L273.6 190.7 L270.6 190.9 L267.6 191.1 L264.6 191.3 L261.6 191.4 L258.6 191.6 L255.6 191.9 L252.6 192.1 L249.6 192.3 L246.6 192.5 L243.6 192.7 L240.6 192.9 L237.6 193.3 L235.1 193.7 L234.6 193.7 L234.1 193.9 L233.6 194.2 L233.1 194.4 L232.6 194.6 L232.1 194.9 L231.6 195.1Z" fill="#616161" opacity="0.075"/>
<path d="M231.60 195.00v-3.90h0.25v3.90zM231.85 195.00v-2.54h0.25v2.54zM232.60 194.53v-4.06h0.25v4.06zM232.85 194.53v-4.17h0.25v4.17zM233.10 194.30v-6.18h0.25v6.18zM233.35 194.30v-3.19h0.25v3.19zM233.60 194.06v-2.96h0.25v2.96zM233.85 194.06v-3.91h0.25v3.91zM234.35 193.83v-3.66h0.25v3.66zM234.60 193.65v-3.74h0.25v3.74zM234.85 193.65v-3.89h0.25v3.89zM235.60 193.51v-2.82h0.25v2.82zM236.10 193.44v-4.71h0.25v4.71zM236.35 193.44v-2.97h0.25v2.97zM236.85 193.38v-2.27h0.25v2.27zM237.10 193.31v-4.41h0.25v4.41zM237.85 193.24v-4.88h0.25v4.88zM238.10 193.18v-5.92h0.25v5.92zM238.60 193.11v-3.12h0.25v3.12zM238.85 193.11v-2.56h0.25v2.56zM239.35 193.04v-3.90h0.25v3.90zM239.60 192.97v-3.87h0.25v3.87zM239.85 192.97v-4.10h0.25v4.10zM240.10 192.91v-2.96h0.25v2.96zM240.60 192.84v-2.86h0.25v2.86zM241.35 192.78v-4.22h0.25v4.22zM241.60 192.74v-3.28h0.25v3.28zM241.85 192.74v-2.60h0.25v2.60zM242.10 192.71v-4.51h0.25v4.51zM242.35 192.71v-2.99h0.25v2.99zM242.60 192.67v-1.64h0.25v1.64zM242.85 192.67v-5.04h0.25v5.04zM243.10 192.64v-2.08h0.25v2.08zM243.35 192.64v-3.44h0.25v3.44zM243.60 192.60v-2.56h0.25v2.56zM243.85 192.60v-3.92h0.25v3.92zM244.10 192.57v-2.59h0.25v2.59zM244.35 192.57v-1.86h0.25v1.86zM244.60 192.53v-1.70h0.25v1.70zM244.85 192.53v-1.91h0.25v1.91zM245.35 192.49v-3.23h0.25v3.23zM245.60 192.46v-2.59h0.25v2.59zM246.10 192.42v-5.53h0.25v5.53zM246.60 192.39v-4.99h0.25v4.99zM246.85 192.39v-2.27h0.25v2.27zM247.10 192.35v-5.08h0.25v5.08zM247.35 192.35v-2.11h0.25v2.11zM247.60 192.32v-5.32h0.25v5.32zM247.85 192.32v-1.88h0.25v1.88zM248.35 192.28v-1.61h0.25v1.61zM248.85 192.25v-2.21h0.25v2.21zM249.10 192.21v-1.65h0.25v1.65zM249.35 192.21v-3.90h0.25v3.90zM249.85 192.18v-3.23h0.25v3.23zM250.10 192.14v-3.42h0.25v3.42zM250.35 192.14v-3.37h0.25v3.37zM250.60 192.11v-1.69h0.25v1.69zM251.10 192.07v-4.56h0.25v4.56zM251.60 192.04v-3.52h0.25v3.52zM251.85 192.04v-3.93h0.25v3.93zM252.10 192.00v-1.71h0.25v1.71zM252.35 192.00v-3.95h0.25v3.95zM252.60 191.97v-2.18h0.25v2.18zM252.85 191.97v-4.99h0.25v4.99zM253.10 191.93v-1.97h0.25v1.97zM253.35 191.93v-5.17h0.25v5.17zM254.10 191.86v-2.56h0.25v2.56zM254.35 191.86v-3.76h0.25v3.76zM254.85 191.83v-1.93h0.25v1.93zM255.35 191.79v-2.69h0.25v2.69zM255.60 191.75v-1.74h0.25v1.74zM255.85 191.75v-2.09h0.25v2.09zM256.85 191.68v-2.41h0.25v2.41zM257.10 191.65v-4.98h0.25v4.98zM257.35 191.65v-1.83h0.25v1.83zM257.60 191.61v-1.77h0.25v1.77zM258.60 191.54v-2.96h0.25v2.96zM259.85 191.47v-1.51h0.25v1.51zM260.10 191.44v-1.99h0.25v1.99zM260.35 191.44v-2.02h0.25v2.02zM260.60 191.41v-4.67h0.25v4.67zM260.85 191.41v-1.90h0.25v1.90zM261.10 191.38v-2.70h0.25v2.70zM261.35 191.38v-2.67h0.25v2.67zM261.60 191.35v-1.97h0.25v1.97zM261.85 191.35v-2.32h0.25v2.32zM262.10 191.32v-3.58h0.25v3.58zM262.35 191.32v-1.40h0.25v1.40zM262.85 191.29v-2.31h0.25v2.31zM263.10 191.26v-1.35h0.25v1.35zM263.35 191.26v-4.32h0.25v4.32zM263.60 191.23v-3.45h0.25v3.45zM263.85 191.23v-3.12h0.25v3.12zM264.10 191.20v-3.85h0.25v3.85zM264.35 191.20v-2.71h0.25v2.71zM264.60 191.16v-2.90h0.25v2.90zM264.85 191.16v-2.06h0.25v2.06zM265.10 191.13v-2.65h0.25v2.65zM265.35 191.13v-4.70h0.25v4.70zM265.60 191.10v-4.46h0.25v4.46zM266.60 191.04v-2.86h0.25v2.86zM268.10 190.95v-1.67h0.25v1.67zM268.60 190.92v-1.51h0.25v1.51zM268.85 190.92v-3.14h0.25v3.14zM269.10 190.89v-3.40h0.25v3.40zM269.35 190.89v-1.86h0.25v1.86zM269.60 190.86v-2.18h0.25v2.18zM269.85 190.86v-4.12h0.25v4.12zM270.10 190.83v-3.65h0.25v3.65zM270.35 190.83v-1.39h0.25v1.39zM270.85 190.80v-3.59h0.25v3.59zM271.60 190.74v-2.39h0.25v2.39zM271.85 190.74v-4.08h0.25v4.08zM272.10 190.71v-1.83h0.25v1.83zM272.60 190.68v-1.52h0.25v1.52zM272.85 190.68v-1.32h0.25v1.32zM273.10 190.65v-3.79h0.25v3.79zM273.35 190.65v-2.80h0.25v2.80zM273.60 190.62v-2.66h0.25v2.66zM273.85 190.62v-1.54h0.25v1.54zM274.10 190.59v-2.44h0.25v2.44zM274.60 190.56v-3.61h0.25v3.61zM274.85 190.56v-1.92h0.25v1.92zM275.35 190.53v-2.60h0.25v2.60zM275.85 190.49v-2.13h0.25v2.13zM276.10 190.46v-3.70h0.25v3.70zM276.35 190.46v-2.52h0.25v2.52zM276.60 190.43v-2.93h0.25v2.93zM277.35 190.40v-1.42h0.25v1.42zM277.60 190.37v-1.68h0.25v1.68zM277.85 190.37v-2.21h0.25v2.21zM278.60 190.31v-1.20h0.25v1.20zM279.10 190.28v-1.94h0.25v1.94zM279.60 190.25v-3.93h0.25v3.93zM280.10 190.22v-1.99h0.25v1.99zM280.35 190.22v-2.59h0.25v2.59zM280.60 190.19v-2.78h0.25v2.78zM281.10 190.16v-2.90h0.25v2.90zM281.85 190.13v-3.62h0.25v3.62zM282.10 190.10v-1.19h0.25v1.19zM282.35 190.10v-3.83h0.25v3.83zM282.60 190.07v-2.88h0.25v2.88zM282.85 190.07v-2.62h0.25v2.62zM283.10 190.04v-2.21h0.25v2.21zM283.85 190.01v-2.83h0.25v2.83zM284.10 189.98v-1.32h0.25v1.32zM284.60 189.95v-1.97h0.25v1.97zM284.85 189.95v-1.49h0.25v1.49zM285.10 189.92v-3.00h0.25v3.00zM285.35 189.92v-1.96h0.25v1.96zM285.60 189.88v-1.86h0.25v1.86zM285.85 189.88v-1.69h0.25v1.69zM286.10 189.84v-3.55h0.25v3.55zM286.35 189.84v-1.26h0.25v1.26zM286.60 189.80v-3.06h0.25v3.06zM287.10 189.76v-3.43h0.25v3.43zM287.60 189.72v-1.78h0.25v1.78zM287.85 189.72v-2.22h0.25v2.22zM288.10 189.68v-2.44h0.25v2.44zM288.35 189.68v-1.46h0.25v1.46zM288.60 189.64v-1.78h0.25v1.78zM289.10 189.60v-2.26h0.25v2.26zM289.60 189.56v-2.01h0.25v2.01zM289.85 189.56v-3.46h0.25v3.46zM290.35 189.52v-2.14h0.25v2.14zM290.85 189.47v-3.35h0.25v3.35zM291.10 189.43v-1.44h0.25v1.44zM291.35 189.43v-2.30h0.25v2.30zM291.60 189.39v-2.44h0.25v2.44zM291.85 189.39v-2.75h0.25v2.75zM292.10 189.35v-2.85h0.25v2.85zM293.35 189.27v-3.32h0.25v3.32zM293.60 189.23v-1.34h0.25v1.34zM293.85 189.23v-2.87h0.25v2.87zM294.60 189.15v-1.13h0.25v1.13zM295.10 189.11v-1.10h0.25v1.10zM295.60 189.07v-1.43h0.25v1.43zM295.85 189.07v-3.10h0.25v3.10zM296.10 189.02v-1.37h0.25v1.37zM296.35 189.02v-1.50h0.25v1.50zM296.60 188.98v-1.67h0.25v1.67zM296.85 188.98v-2.47h0.25v2.47zM297.10 188.94v-2.46h0.25v2.46zM297.85 188.90v-3.00h0.25v3.00zM298.85 188.82v-2.71h0.25v2.71zM300.10 188.70v-1.65h0.25v1.65zM300.35 188.70v-1.78h0.25v1.78zM300.60 188.66v-1.54h0.25v1.54zM301.10 188.62v-2.26h0.25v2.26zM301.85 188.58v-1.73h0.25v1.73zM302.10 188.53v-2.27h0.25v2.27zM302.60 188.49v-1.12h0.25v1.12zM303.10 188.45v-2.39h0.25v2.39zM303.60 188.41v-2.17h0.25v2.17zM304.10 188.37v-2.78h0.25v2.78zM304.60 188.33v-2.50h0.25v2.50zM304.85 188.33v-1.16h0.25v1.16zM305.35 188.29v-1.03h0.25v1.03zM305.60 188.25v-1.75h0.25v1.75zM305.85 188.25v-1.59h0.25v1.59zM306.10 188.21v-2.60h0.25v2.60zM306.85 188.17v-1.76h0.25v1.76zM307.10 188.13v-2.64h0.25v2.64zM307.35 188.13v-1.78h0.25v1.78zM307.60 188.04v-1.61h0.25v1.61zM308.35 187.95v-1.59h0.25v1.59zM308.85 187.85v-2.57h0.25v2.57zM309.10 187.76v-1.49h0.25v1.49zM309.35 187.76v-1.76h0.25v1.76zM309.60 187.66v-1.47h0.25v1.47zM309.85 187.66v-2.28h0.25v2.28zM310.10 187.56v-1.92h0.25v1.92zM310.35 187.56v-0.99h0.25v0.99zM310.60 187.47v-1.08h0.25v1.08zM311.10 187.37v-1.02h0.25v1.02zM311.35 187.37v-2.10h0.25v2.10zM311.60 187.28v-0.77h0.25v0.77zM312.10 187.18v-1.82h0.25v1.82zM312.35 187.18v-1.61h0.25v1.61zM312.85 187.09v-1.94h0.25v1.94zM313.10 186.99v-1.51h0.25v1.51zM313.35 186.99v-0.74h0.25v0.74zM313.85 186.90v-0.79h0.25v0.79zM314.35 186.80v-1.70h0.25v1.70zM314.60 186.71v-1.69h0.25v1.69zM314.85 186.71v-1.59h0.25v1.59zM315.10 186.61v-1.18h0.25v1.18zM315.35 186.61v-2.17h0.25v2.17zM315.85 186.51v-1.57h0.25v1.57zM316.35 186.42v-0.99h0.25v0.99zM316.60 186.32v-1.40h0.25v1.40zM316.85 186.32v-0.73h0.25v0.73zM317.10 186.23v-2.09h0.25v2.09zM317.35 186.23v-0.99h0.25v0.99zM317.60 186.13v-0.78h0.25v0.78zM317.85 186.13v-1.05h0.25v1.05zM318.10 186.04v-0.97h0.25v0.97zM318.60 185.94v-0.89h0.25v0.89zM319.85 185.75v-0.69h0.25v0.69zM320.10 185.66v-1.10h0.25v1.10zM320.60 185.56v-1.21h0.25v1.21zM321.10 185.46v-0.65h0.25v0.65zM321.60 185.37v-1.69h0.25v1.69zM322.10 185.27v-1.84h0.25v1.84zM323.10 184.94v-0.93h0.25v0.93zM323.35 184.94v-1.78h0.25v1.78zM323.60 184.75v-0.76h0.25v0.76zM323.85 184.75v-0.90h0.25v0.90zM324.10 184.56v-1.26h0.25v1.26zM324.35 184.56v-1.36h0.25v1.36zM324.60 184.38v-1.52h0.25v1.52zM324.85 184.38v-0.74h0.25v0.74zM325.10 183.76v-0.81h0.25v0.81zM325.60 183.05v-1.04h0.25v1.04z" fill="#616161" opacity="0.26"/>
<line x1="173.2" y1="179.5" x2="173.2" y2="208.0" stroke="#3a3a3a" stroke-width="0.6"/>
<g stroke="#333" stroke-width="0.35">
<line x1="172.0" y1="207.01" x2="173.2" y2="207.01"/>
<line x1="172.0" y1="200.35" x2="173.2" y2="200.35"/>
<line x1="172.0" y1="193.69" x2="173.2" y2="193.69"/>
<line x1="172.0" y1="187.03" x2="173.2" y2="187.03"/>
<line x1="172.0" y1="180.37" x2="173.2" y2="180.37"/>
</g>
<text class="tk" x="166.1" y="208.76" style="font-size:5.3px">0</text>
<text class="tk" x="166.1" y="202.10" style="font-size:5.3px">3</text>
<text class="tk" x="166.1" y="195.44" style="font-size:5.3px">6</text>
<text class="tk" x="166.1" y="188.78" style="font-size:5.3px">9</text>
<text class="tk" x="166.1" y="182.12" style="font-size:5.3px">12</text>
<rect x="333.1" y="180.2" width="6.2" height="28.1" fill="#52c3ef"/>
<text class="st" transform="translate(334.85,195.6) rotate(90)" text-anchor="middle">MCM3</text>
<rect x="173.2" y="210.3" width="158.40000000000003" height="28.5" fill="#fff"/>
<g stroke="#f8f8f8" stroke-width="0.3">
<line x1="173.2" y1="234.51" x2="331.6" y2="234.51"/>
<line x1="173.2" y1="227.85" x2="331.6" y2="227.85"/>
<line x1="173.2" y1="221.19" x2="331.6" y2="221.19"/>
<line x1="173.2" y1="214.53" x2="331.6" y2="214.53"/>
<line x1="201.15" y1="210.3" x2="201.15" y2="238.8"/>
<line x1="241.05" y1="210.3" x2="241.05" y2="238.8"/>
<line x1="280.95" y1="210.3" x2="280.95" y2="238.8"/>
<line x1="320.85" y1="210.3" x2="320.85" y2="238.8"/>
</g>
<g stroke="#f0f0f0" stroke-width="0.45">
<line x1="173.2" y1="237.84" x2="331.6" y2="237.84"/>
<line x1="173.2" y1="231.18" x2="331.6" y2="231.18"/>
<line x1="173.2" y1="224.52" x2="331.6" y2="224.52"/>
<line x1="173.2" y1="217.86" x2="331.6" y2="217.86"/>
<line x1="173.2" y1="211.20" x2="331.6" y2="211.20"/>
<line x1="181.20" y1="210.3" x2="181.20" y2="238.8"/>
<line x1="221.10" y1="210.3" x2="221.10" y2="238.8"/>
<line x1="261.00" y1="210.3" x2="261.00" y2="238.8"/>
<line x1="300.90" y1="210.3" x2="300.90" y2="238.8"/>
</g>
<g fill="#595959">
<rect x="182.30" y="225.63" width="0.60" height="12.21" opacity="0.38"/>
<rect x="184.60" y="220.52" width="1.60" height="17.32" opacity="0.78"/>
<rect x="186.60" y="223.41" width="0.50" height="14.43" opacity="0.38"/>
<rect x="189.20" y="223.41" width="0.50" height="14.43" opacity="0.30"/>
<rect x="191.60" y="224.52" width="0.60" height="13.32" opacity="0.38"/>
<rect x="193.20" y="225.63" width="0.50" height="12.21" opacity="0.34"/>
<rect x="195.90" y="225.63" width="1.00" height="12.21" opacity="0.55"/>
<rect x="197.30" y="221.19" width="0.60" height="16.65" opacity="0.41"/>
<rect x="200.80" y="222.30" width="1.80" height="15.54" opacity="0.83"/>
<rect x="204.50" y="224.52" width="0.40" height="13.32" opacity="0.22"/>
<rect x="207.30" y="222.30" width="0.50" height="15.54" opacity="0.30"/>
<rect x="212.60" y="220.08" width="1.50" height="17.76" opacity="0.74"/>
<rect x="214.60" y="222.30" width="0.60" height="15.54" opacity="0.41"/>
<rect x="216.20" y="226.74" width="0.40" height="11.10" opacity="0.30"/>
<rect x="218.30" y="223.41" width="1.70" height="14.43" opacity="0.78"/>
<rect x="224.60" y="222.30" width="0.90" height="15.54" opacity="0.64"/>
<rect x="229.60" y="220.97" width="1.20" height="16.87" opacity="0.83"/>
</g>
<path d="M231.60 237.84 L231.60 225.63 L232.10 225.40 L232.60 225.16 L233.10 224.93 L233.60 224.69 L234.10 224.46 L234.60 224.28 L235.10 224.21 L235.60 224.14 L236.10 224.07 L236.60 224.01 L237.10 223.94 L237.60 223.87 L238.10 223.81 L238.60 223.74 L239.10 223.67 L239.60 223.60 L240.10 223.54 L240.60 223.47 L241.10 223.41 L241.60 223.37 L242.10 223.34 L242.60 223.30 L243.10 223.27 L243.60 223.23 L244.10 223.20 L244.60 223.16 L245.10 223.12 L245.60 223.09 L246.10 223.05 L246.60 223.02 L247.10 222.98 L247.60 222.95 L248.10 222.91 L248.60 222.88 L249.10 222.84 L249.60 222.81 L250.10 222.77 L250.60 222.74 L251.10 222.70 L251.60 222.67 L252.10 222.63 L252.60 222.60 L253.10 222.56 L253.60 222.53 L254.10 222.49 L254.60 222.46 L255.10 222.42 L255.60 222.38 L256.10 222.35 L256.60 222.31 L257.10 222.28 L257.60 222.24 L258.10 222.21 L258.60 222.17 L259.10 222.14 L259.60 222.10 L260.10 222.07 L260.60 222.04 L261.10 222.01 L261.60 221.98 L262.10 221.95 L262.60 221.92 L263.10 221.89 L263.60 221.86 L264.10 221.83 L264.60 221.79 L265.10 221.76 L265.60 221.73 L266.10 221.70 L266.60 221.67 L267.10 221.64 L267.60 221.61 L268.10 221.58 L268.60 221.55 L269.10 221.52 L269.60 221.49 L270.10 221.46 L270.60 221.43 L271.10 221.40 L271.60 221.37 L272.10 221.34 L272.60 221.31 L273.10 221.28 L273.60 221.25 L274.10 221.22 L274.60 221.19 L275.10 221.16 L275.60 221.12 L276.10 221.09 L276.60 221.06 L277.10 221.03 L277.60 221.00 L278.10 220.97 L278.60 220.94 L279.10 220.91 L279.60 220.88 L280.10 220.85 L280.60 220.82 L281.10 220.79 L281.60 220.76 L282.10 220.73 L282.60 220.70 L283.10 220.67 L283.60 220.64 L284.10 220.61 L284.60 220.58 L285.10 220.55 L285.60 220.51 L286.10 220.47 L286.60 220.43 L287.10 220.39 L287.60 220.35 L288.10 220.31 L288.60 220.27 L289.10 220.23 L289.60 220.19 L290.10 220.15 L290.60 220.10 L291.10 220.06 L291.60 220.02 L292.10 219.98 L292.60 219.94 L293.10 219.90 L293.60 219.86 L294.10 219.82 L294.60 219.78 L295.10 219.74 L295.60 219.70 L296.10 219.65 L296.60 219.61 L297.10 219.57 L297.60 219.53 L298.10 219.49 L298.60 219.45 L299.10 219.41 L299.60 219.37 L300.10 219.33 L300.60 219.29 L301.10 219.25 L301.60 219.21 L302.10 219.16 L302.60 219.12 L303.10 219.08 L303.60 219.04 L304.10 219.00 L304.60 218.96 L305.10 218.92 L305.60 218.88 L306.10 218.84 L306.60 218.80 L307.10 218.76 L307.60 218.67 L308.10 218.58 L308.60 218.48 L309.10 218.39 L309.60 218.29 L310.10 218.19 L310.60 218.10 L311.10 218.00 L311.60 217.91 L312.10 217.81 L312.60 217.72 L313.10 217.62 L313.60 217.53 L314.10 217.43 L314.60 217.34 L315.10 217.24 L315.60 217.14 L316.10 217.05 L316.60 216.95 L317.10 216.86 L317.60 216.76 L318.10 216.67 L318.60 216.57 L319.10 216.48 L319.60 216.38 L320.10 216.29 L320.60 216.19 L321.10 216.09 L321.60 216.00 L322.10 215.90 L322.60 215.76 L323.10 215.57 L323.60 215.38 L324.10 215.19 L324.60 215.01 L325.10 214.39 L325.60 213.68 L326.10 212.98 L326.10 237.84 Z" fill="#616161"/>
<path d="M231.71 237.84v-12.88h0.40v12.88zM233.76 237.84v-13.82h0.30v13.82zM235.31 237.84v-14.30h0.25v14.30zM236.14 237.84v-14.43h0.20v14.43zM239.83 237.84v-14.90h0.25v14.90zM241.24 237.84v-15.10h0.25v15.10zM241.71 237.84v-15.13h0.25v15.13zM243.86 237.84v-15.28h0.40v15.28zM244.27 237.84v-15.31h0.20v15.31zM245.12 237.84v-15.38h0.40v15.38zM246.85 237.84v-15.49h0.30v15.49zM248.15 237.84v-15.59h0.40v15.59zM250.75 237.84v-15.77h0.40v15.77zM251.11 237.84v-15.80h0.20v15.80zM251.83 237.84v-15.84h0.40v15.84zM252.81 237.84v-15.91h0.25v15.91zM253.38 237.84v-15.95h0.30v15.95zM253.90 237.84v-15.98h0.40v15.98zM256.85 237.84v-16.19h0.20v16.19zM259.73 237.84v-16.40h0.30v16.40zM260.83 237.84v-16.47h0.40v16.47zM261.28 237.84v-16.50h0.20v16.50zM262.27 237.84v-16.56h0.25v16.56zM263.82 237.84v-16.65h0.20v16.65zM264.40 237.84v-16.68h0.30v16.68zM266.13 237.84v-16.80h0.40v16.80zM266.69 237.84v-16.83h0.30v16.83zM267.88 237.84v-16.89h0.20v16.89zM268.65 237.84v-16.95h0.30v16.95zM269.18 237.84v-16.99h0.30v16.99zM270.37 237.84v-17.05h0.40v17.05zM270.74 237.84v-17.08h0.20v17.08zM271.23 237.84v-17.11h0.20v17.11zM272.85 237.84v-17.20h0.20v17.20zM273.21 237.84v-17.23h0.20v17.23zM275.19 237.84v-17.35h0.25v17.35zM278.38 237.84v-17.53h0.30v17.53zM278.62 237.84v-17.56h0.30v17.56zM280.14 237.84v-17.66h0.20v17.66zM282.68 237.84v-17.81h0.40v17.81zM286.14 237.84v-18.03h0.25v18.03zM287.19 237.84v-18.12h0.25v18.12zM289.89 237.84v-18.32h0.40v18.32zM293.67 237.84v-18.65h0.20v18.65zM294.76 237.84v-18.73h0.30v18.73zM295.26 237.84v-18.77h0.25v18.77zM295.72 237.84v-18.81h0.20v18.81zM296.16 237.84v-18.85h0.20v18.85zM300.35 237.84v-19.18h0.40v19.18zM303.67 237.84v-19.46h0.25v19.46zM312.85 237.84v-20.79h0.20v20.79zM317.23 237.84v-21.65h0.20v21.65zM318.30 237.84v-21.84h0.40v21.84z" fill="#fff" opacity="0.32"/>
<path d="M231.6 225.9 L231.6 220.5 L232.1 220.3 L232.6 220.1 L233.1 219.9 L233.6 219.7 L234.1 219.5 L234.6 219.3 L235.1 219.2 L237.6 219.0 L240.6 218.7 L243.6 218.6 L246.6 218.5 L249.6 218.4 L252.6 218.3 L255.6 218.3 L258.6 218.2 L261.6 218.1 L264.6 218.0 L267.6 218.0 L270.6 217.9 L273.6 217.8 L276.6 217.8 L279.6 217.7 L282.6 217.7 L285.6 217.6 L288.6 217.5 L291.6 217.3 L294.6 217.2 L297.6 217.1 L300.6 217.0 L303.6 216.9 L306.6 216.7 L309.6 216.3 L312.6 215.9 L315.6 215.4 L318.6 215.0 L321.6 214.5 L323.1 214.2 L323.6 214.0 L324.1 213.8 L324.6 213.7 L325.1 213.1 L325.6 212.4 L326.1 211.7 L326.1 213.3 L325.6 214.0 L325.1 214.7 L324.6 215.3 L324.1 215.5 L323.6 215.7 L323.1 215.9 L321.6 216.3 L318.6 216.9 L315.6 217.4 L312.6 218.0 L309.6 218.6 L306.6 219.1 L303.6 219.3 L300.6 219.6 L297.6 219.8 L294.6 220.1 L291.6 220.3 L288.6 220.6 L285.6 220.8 L282.6 221.0 L279.6 221.2 L276.6 221.4 L273.6 221.5 L270.6 221.7 L267.6 221.9 L264.6 222.1 L261.6 222.3 L258.6 222.5 L255.6 222.7 L252.6 222.9 L249.6 223.1 L246.6 223.3 L243.6 223.5 L240.6 223.8 L237.6 224.2 L235.1 224.5 L234.6 224.6 L234.1 224.8 L233.6 225.0 L233.1 225.2 L232.6 225.5 L232.1 225.7 L231.6 225.9Z" fill="#616161" opacity="0.075"/>
<path d="M231.6 225.9 L231.6 221.4 L232.1 221.2 L232.6 220.9 L233.1 220.7 L233.6 220.5 L234.1 220.3 L234.6 220.1 L235.1 220.1 L237.6 219.8 L240.6 219.5 L243.6 219.4 L246.6 219.3 L249.6 219.2 L252.6 219.1 L255.6 218.9 L258.6 218.8 L261.6 218.7 L264.6 218.7 L267.6 218.6 L270.6 218.5 L273.6 218.4 L276.6 218.3 L279.6 218.2 L282.6 218.2 L285.6 218.1 L288.6 217.9 L291.6 217.8 L294.6 217.7 L297.6 217.5 L300.6 217.4 L303.6 217.2 L306.6 217.1 L309.6 216.7 L312.6 216.2 L315.6 215.7 L318.6 215.3 L321.6 214.8 L323.1 214.4 L323.6 214.2 L324.1 214.1 L324.6 213.9 L325.1 213.3 L325.6 212.6 L326.1 211.9 L326.1 213.3 L325.6 214.0 L325.1 214.7 L324.6 215.3 L324.1 215.5 L323.6 215.7 L323.1 215.9 L321.6 216.3 L318.6 216.9 L315.6 217.4 L312.6 218.0 L309.6 218.6 L306.6 219.1 L303.6 219.3 L300.6 219.6 L297.6 219.8 L294.6 220.1 L291.6 220.3 L288.6 220.6 L285.6 220.8 L282.6 221.0 L279.6 221.2 L276.6 221.4 L273.6 221.5 L270.6 221.7 L267.6 221.9 L264.6 222.1 L261.6 222.3 L258.6 222.5 L255.6 222.7 L252.6 222.9 L249.6 223.1 L246.6 223.3 L243.6 223.5 L240.6 223.8 L237.6 224.2 L235.1 224.5 L234.6 224.6 L234.1 224.8 L233.6 225.0 L233.1 225.2 L232.6 225.5 L232.1 225.7 L231.6 225.9Z" fill="#616161" opacity="0.075"/>
<path d="M231.6 225.9 L231.6 222.2 L232.1 222.0 L232.6 221.8 L233.1 221.6 L233.6 221.3 L234.1 221.1 L234.6 221.0 L235.1 220.9 L237.6 220.6 L240.6 220.3 L243.6 220.2 L246.6 220.0 L249.6 219.9 L252.6 219.8 L255.6 219.6 L258.6 219.5 L261.6 219.4 L264.6 219.3 L267.6 219.2 L270.6 219.1 L273.6 219.0 L276.6 218.9 L279.6 218.8 L282.6 218.7 L285.6 218.6 L288.6 218.4 L291.6 218.2 L294.6 218.1 L297.6 217.9 L300.6 217.7 L303.6 217.6 L306.6 217.4 L309.6 217.0 L312.6 216.5 L315.6 216.0 L318.6 215.5 L321.6 215.0 L323.1 214.6 L323.6 214.5 L324.1 214.3 L324.6 214.1 L325.1 213.5 L325.6 212.8 L326.1 212.1 L326.1 213.3 L325.6 214.0 L325.1 214.7 L324.6 215.3 L324.1 215.5 L323.6 215.7 L323.1 215.9 L321.6 216.3 L318.6 216.9 L315.6 217.4 L312.6 218.0 L309.6 218.6 L306.6 219.1 L303.6 219.3 L300.6 219.6 L297.6 219.8 L294.6 220.1 L291.6 220.3 L288.6 220.6 L285.6 220.8 L282.6 221.0 L279.6 221.2 L276.6 221.4 L273.6 221.5 L270.6 221.7 L267.6 221.9 L264.6 222.1 L261.6 222.3 L258.6 222.5 L255.6 222.7 L252.6 222.9 L249.6 223.1 L246.6 223.3 L243.6 223.5 L240.6 223.8 L237.6 224.2 L235.1 224.5 L234.6 224.6 L234.1 224.8 L233.6 225.0 L233.1 225.2 L232.6 225.5 L232.1 225.7 L231.6 225.9Z" fill="#616161" opacity="0.075"/>
<path d="M231.6 225.9 L231.6 223.1 L232.1 222.9 L232.6 222.6 L233.1 222.4 L233.6 222.2 L234.1 222.0 L234.6 221.8 L235.1 221.7 L237.6 221.4 L240.6 221.1 L243.6 220.9 L246.6 220.8 L249.6 220.6 L252.6 220.5 L255.6 220.3 L258.6 220.2 L261.6 220.0 L264.6 219.9 L267.6 219.8 L270.6 219.7 L273.6 219.5 L276.6 219.4 L279.6 219.3 L282.6 219.2 L285.6 219.1 L288.6 218.9 L291.6 218.7 L294.6 218.5 L297.6 218.3 L300.6 218.1 L303.6 217.9 L306.6 217.8 L309.6 217.3 L312.6 216.8 L315.6 216.3 L318.6 215.8 L321.6 215.3 L323.1 214.9 L323.6 214.7 L324.1 214.5 L324.6 214.3 L325.1 213.7 L325.6 213.0 L326.1 212.3 L326.1 213.3 L325.6 214.0 L325.1 214.7 L324.6 215.3 L324.1 215.5 L323.6 215.7 L323.1 215.9 L321.6 216.3 L318.6 216.9 L315.6 217.4 L312.6 218.0 L309.6 218.6 L306.6 219.1 L303.6 219.3 L300.6 219.6 L297.6 219.8 L294.6 220.1 L291.6 220.3 L288.6 220.6 L285.6 220.8 L282.6 221.0 L279.6 221.2 L276.6 221.4 L273.6 221.5 L270.6 221.7 L267.6 221.9 L264.6 222.1 L261.6 222.3 L258.6 222.5 L255.6 222.7 L252.6 222.9 L249.6 223.1 L246.6 223.3 L243.6 223.5 L240.6 223.8 L237.6 224.2 L235.1 224.5 L234.6 224.6 L234.1 224.8 L233.6 225.0 L233.1 225.2 L232.6 225.5 L232.1 225.7 L231.6 225.9Z" fill="#616161" opacity="0.075"/>
<path d="M231.6 225.9 L231.6 223.9 L232.1 223.7 L232.6 223.5 L233.1 223.2 L233.6 223.0 L234.1 222.8 L234.6 222.6 L235.1 222.6 L237.6 222.3 L240.6 221.9 L243.6 221.7 L246.6 221.5 L249.6 221.3 L252.6 221.2 L255.6 221.0 L258.6 220.8 L261.6 220.7 L264.6 220.5 L267.6 220.4 L270.6 220.3 L273.6 220.1 L276.6 220.0 L279.6 219.8 L282.6 219.7 L285.6 219.5 L288.6 219.3 L291.6 219.1 L294.6 218.9 L297.6 218.7 L300.6 218.5 L303.6 218.3 L306.6 218.1 L309.6 217.6 L312.6 217.1 L315.6 216.6 L318.6 216.0 L321.6 215.5 L323.1 215.1 L323.6 214.9 L324.1 214.7 L324.6 214.6 L325.1 213.9 L325.6 213.2 L326.1 212.6 L326.1 213.3 L325.6 214.0 L325.1 214.7 L324.6 215.3 L324.1 215.5 L323.6 215.7 L323.1 215.9 L321.6 216.3 L318.6 216.9 L315.6 217.4 L312.6 218.0 L309.6 218.6 L306.6 219.1 L303.6 219.3 L300.6 219.6 L297.6 219.8 L294.6 220.1 L291.6 220.3 L288.6 220.6 L285.6 220.8 L282.6 221.0 L279.6 221.2 L276.6 221.4 L273.6 221.5 L270.6 221.7 L267.6 221.9 L264.6 222.1 L261.6 222.3 L258.6 222.5 L255.6 222.7 L252.6 222.9 L249.6 223.1 L246.6 223.3 L243.6 223.5 L240.6 223.8 L237.6 224.2 L235.1 224.5 L234.6 224.6 L234.1 224.8 L233.6 225.0 L233.1 225.2 L232.6 225.5 L232.1 225.7 L231.6 225.9Z" fill="#616161" opacity="0.075"/>
<path d="M231.6 225.9 L231.6 224.8 L232.1 224.5 L232.6 224.3 L233.1 224.1 L233.6 223.9 L234.1 223.6 L234.6 223.4 L235.1 223.4 L237.6 223.1 L240.6 222.7 L243.6 222.5 L246.6 222.3 L249.6 222.1 L252.6 221.9 L255.6 221.7 L258.6 221.5 L261.6 221.3 L264.6 221.2 L267.6 221.0 L270.6 220.8 L273.6 220.7 L276.6 220.5 L279.6 220.4 L282.6 220.2 L285.6 220.0 L288.6 219.8 L291.6 219.6 L294.6 219.4 L297.6 219.1 L300.6 218.9 L303.6 218.7 L306.6 218.5 L309.6 218.0 L312.6 217.4 L315.6 216.9 L318.6 216.3 L321.6 215.8 L323.1 215.3 L323.6 215.2 L324.1 215.0 L324.6 214.8 L325.1 214.2 L325.6 213.5 L326.1 212.8 L326.1 213.3 L325.6 214.0 L325.1 214.7 L324.6 215.3 L324.1 215.5 L323.6 215.7 L323.1 215.9 L321.6 216.3 L318.6 216.9 L315.6 217.4 L312.6 218.0 L309.6 218.6 L306.6 219.1 L303.6 219.3 L300.6 219.6 L297.6 219.8 L294.6 220.1 L291.6 220.3 L288.6 220.6 L285.6 220.8 L282.6 221.0 L279.6 221.2 L276.6 221.4 L273.6 221.5 L270.6 221.7 L267.6 221.9 L264.6 222.1 L261.6 222.3 L258.6 222.5 L255.6 222.7 L252.6 222.9 L249.6 223.1 L246.6 223.3 L243.6 223.5 L240.6 223.8 L237.6 224.2 L235.1 224.5 L234.6 224.6 L234.1 224.8 L233.6 225.0 L233.1 225.2 L232.6 225.5 L232.1 225.7 L231.6 225.9Z" fill="#616161" opacity="0.075"/>
<path d="M231.60 225.83v-2.11h0.25v2.11zM231.85 225.83v-2.11h0.25v2.11zM232.60 225.36v-1.76h0.25v1.76zM233.10 225.13v-2.48h0.25v2.48zM233.35 225.13v-2.32h0.25v2.32zM234.35 224.66v-3.33h0.25v3.33zM235.10 224.41v-2.69h0.25v2.69zM235.60 224.34v-4.54h0.25v4.54zM236.10 224.27v-2.18h0.25v2.18zM236.35 224.27v-1.75h0.25v1.75zM236.60 224.21v-5.68h0.25v5.68zM236.85 224.21v-3.34h0.25v3.34zM237.10 224.14v-4.68h0.25v4.68zM237.35 224.14v-4.48h0.25v4.48zM237.60 224.07v-2.99h0.25v2.99zM237.85 224.07v-2.13h0.25v2.13zM238.85 223.94v-2.60h0.25v2.60zM239.10 223.87v-1.73h0.25v1.73zM239.35 223.87v-3.25h0.25v3.25zM239.60 223.80v-1.87h0.25v1.87zM239.85 223.80v-4.92h0.25v4.92zM240.60 223.67v-4.66h0.25v4.66zM240.85 223.67v-1.74h0.25v1.74zM241.35 223.61v-2.46h0.25v2.46zM241.85 223.57v-4.88h0.25v4.88zM242.10 223.54v-4.24h0.25v4.24zM242.35 223.54v-4.95h0.25v4.95zM242.85 223.50v-5.38h0.25v5.38zM243.10 223.47v-3.39h0.25v3.39zM243.35 223.47v-5.66h0.25v5.66zM243.60 223.43v-4.72h0.25v4.72zM243.85 223.43v-5.18h0.25v5.18zM244.10 223.40v-3.28h0.25v3.28zM244.60 223.36v-1.88h0.25v1.88zM245.10 223.32v-3.24h0.25v3.24zM245.35 223.32v-4.74h0.25v4.74zM245.60 223.29v-2.45h0.25v2.45zM245.85 223.29v-2.50h0.25v2.50zM246.35 223.25v-5.49h0.25v5.49zM246.60 223.22v-4.56h0.25v4.56zM246.85 223.22v-2.45h0.25v2.45zM247.10 223.18v-5.25h0.25v5.25zM247.85 223.15v-3.45h0.25v3.45zM248.10 223.11v-4.49h0.25v4.49zM248.35 223.11v-1.84h0.25v1.84zM248.60 223.08v-4.31h0.25v4.31zM248.85 223.08v-3.12h0.25v3.12zM249.35 223.04v-1.66h0.25v1.66zM249.85 223.01v-5.14h0.25v5.14zM250.10 222.97v-2.63h0.25v2.63zM250.35 222.97v-3.83h0.25v3.83zM250.60 222.94v-4.35h0.25v4.35zM250.85 222.94v-3.24h0.25v3.24zM251.35 222.90v-1.71h0.25v1.71zM251.85 222.87v-1.56h0.25v1.56zM252.10 222.83v-1.94h0.25v1.94zM252.35 222.83v-2.15h0.25v2.15zM252.60 222.80v-3.52h0.25v3.52zM253.10 222.76v-5.15h0.25v5.15zM254.60 222.66v-5.03h0.25v5.03zM255.10 222.62v-3.28h0.25v3.28zM255.60 222.58v-1.67h0.25v1.67zM255.85 222.58v-3.66h0.25v3.66zM256.10 222.55v-2.00h0.25v2.00zM256.60 222.51v-2.18h0.25v2.18zM256.85 222.51v-3.92h0.25v3.92zM257.35 222.48v-4.99h0.25v4.99zM257.60 222.44v-3.19h0.25v3.19zM258.10 222.41v-1.92h0.25v1.92zM258.60 222.37v-2.66h0.25v2.66zM258.85 222.37v-1.86h0.25v1.86zM259.10 222.34v-2.99h0.25v2.99zM259.35 222.34v-3.86h0.25v3.86zM259.85 222.30v-4.22h0.25v4.22zM260.35 222.27v-1.44h0.25v1.44zM260.60 222.24v-4.80h0.25v4.80zM260.85 222.24v-4.82h0.25v4.82zM261.10 222.21v-4.30h0.25v4.30zM261.35 222.21v-4.56h0.25v4.56zM261.60 222.18v-2.82h0.25v2.82zM262.10 222.15v-1.51h0.25v1.51zM262.35 222.15v-3.16h0.25v3.16zM262.85 222.12v-2.08h0.25v2.08zM263.35 222.09v-2.33h0.25v2.33zM263.60 222.06v-3.50h0.25v3.50zM263.85 222.06v-4.21h0.25v4.21zM264.35 222.03v-3.45h0.25v3.45zM264.60 221.99v-1.59h0.25v1.59zM265.10 221.96v-2.08h0.25v2.08zM265.35 221.96v-2.40h0.25v2.40zM265.60 221.93v-1.42h0.25v1.42zM265.85 221.93v-4.56h0.25v4.56zM266.10 221.90v-2.14h0.25v2.14zM266.35 221.90v-4.58h0.25v4.58zM267.10 221.84v-4.55h0.25v4.55zM267.60 221.81v-3.21h0.25v3.21zM267.85 221.81v-1.56h0.25v1.56zM268.10 221.78v-2.61h0.25v2.61zM268.60 221.75v-3.48h0.25v3.48zM269.10 221.72v-2.93h0.25v2.93zM269.35 221.72v-4.43h0.25v4.43zM269.60 221.69v-1.34h0.25v1.34zM269.85 221.69v-1.55h0.25v1.55zM270.10 221.66v-1.39h0.25v1.39zM270.35 221.66v-2.96h0.25v2.96zM270.60 221.63v-4.21h0.25v4.21zM270.85 221.63v-3.37h0.25v3.37zM271.10 221.60v-2.69h0.25v2.69zM271.35 221.60v-1.28h0.25v1.28zM271.85 221.57v-2.24h0.25v2.24zM272.10 221.54v-3.75h0.25v3.75zM272.35 221.54v-3.30h0.25v3.30zM272.60 221.51v-3.67h0.25v3.67zM273.10 221.48v-2.37h0.25v2.37zM273.35 221.48v-1.35h0.25v1.35zM274.10 221.42v-3.43h0.25v3.43zM274.35 221.42v-2.80h0.25v2.80zM274.60 221.39v-2.56h0.25v2.56zM275.35 221.36v-3.77h0.25v3.77zM276.10 221.29v-2.22h0.25v2.22zM276.35 221.29v-2.73h0.25v2.73zM276.60 221.26v-3.78h0.25v3.78zM277.10 221.23v-1.69h0.25v1.69zM277.85 221.20v-3.36h0.25v3.36zM278.10 221.17v-3.95h0.25v3.95zM278.60 221.14v-2.56h0.25v2.56zM278.85 221.14v-2.96h0.25v2.96zM279.10 221.11v-1.30h0.25v1.30zM279.35 221.11v-3.28h0.25v3.28zM279.85 221.08v-1.15h0.25v1.15zM280.10 221.05v-2.67h0.25v2.67zM281.10 220.99v-2.36h0.25v2.36zM281.35 220.99v-1.41h0.25v1.41zM281.60 220.96v-1.71h0.25v1.71zM283.10 220.87v-1.83h0.25v1.83zM283.35 220.87v-1.99h0.25v1.99zM283.60 220.84v-1.55h0.25v1.55zM283.85 220.84v-1.46h0.25v1.46zM284.10 220.81v-3.03h0.25v3.03zM284.35 220.81v-1.22h0.25v1.22zM284.60 220.78v-2.62h0.25v2.62zM284.85 220.78v-2.36h0.25v2.36zM285.10 220.75v-3.57h0.25v3.57zM285.35 220.75v-3.56h0.25v3.56zM285.85 220.71v-2.73h0.25v2.73zM286.35 220.67v-2.87h0.25v2.87zM287.10 220.59v-3.24h0.25v3.24zM287.35 220.59v-1.54h0.25v1.54zM287.60 220.55v-2.33h0.25v2.33zM287.85 220.55v-1.45h0.25v1.45zM288.60 220.47v-1.20h0.25v1.20zM290.10 220.35v-1.83h0.25v1.83zM290.35 220.35v-2.13h0.25v2.13zM290.60 220.30v-2.92h0.25v2.92zM290.85 220.30v-3.06h0.25v3.06zM291.10 220.26v-3.05h0.25v3.05zM291.60 220.22v-1.57h0.25v1.57zM291.85 220.22v-1.44h0.25v1.44zM292.10 220.18v-1.36h0.25v1.36zM292.60 220.14v-2.14h0.25v2.14zM293.35 220.10v-1.29h0.25v1.29zM293.60 220.06v-2.83h0.25v2.83zM293.85 220.06v-1.87h0.25v1.87zM294.35 220.02v-2.17h0.25v2.17zM294.60 219.98v-1.65h0.25v1.65zM294.85 219.98v-1.62h0.25v1.62zM295.35 219.94v-2.56h0.25v2.56zM295.60 219.90v-1.91h0.25v1.91zM295.85 219.90v-3.02h0.25v3.02zM296.10 219.85v-3.12h0.25v3.12zM296.60 219.81v-2.47h0.25v2.47zM296.85 219.81v-2.07h0.25v2.07zM297.85 219.73v-1.59h0.25v1.59zM298.10 219.69v-1.68h0.25v1.68zM298.35 219.69v-2.38h0.25v2.38zM298.60 219.65v-2.12h0.25v2.12zM299.10 219.61v-1.11h0.25v1.11zM299.35 219.61v-1.86h0.25v1.86zM299.85 219.57v-1.16h0.25v1.16zM300.10 219.53v-1.26h0.25v1.26zM300.60 219.49v-2.68h0.25v2.68zM300.85 219.49v-2.14h0.25v2.14zM301.10 219.45v-1.07h0.25v1.07zM301.35 219.45v-1.37h0.25v1.37zM301.60 219.41v-0.90h0.25v0.90zM302.10 219.36v-1.64h0.25v1.64zM302.35 219.36v-1.46h0.25v1.46zM302.85 219.32v-1.39h0.25v1.39zM303.35 219.28v-2.04h0.25v2.04zM303.60 219.24v-1.49h0.25v1.49zM304.10 219.20v-1.85h0.25v1.85zM304.35 219.20v-2.73h0.25v2.73zM304.60 219.16v-1.68h0.25v1.68zM306.35 219.04v-1.77h0.25v1.77zM306.60 219.00v-1.70h0.25v1.70zM307.10 218.96v-2.05h0.25v2.05zM307.35 218.96v-0.83h0.25v0.83zM308.10 218.78v-0.82h0.25v0.82zM308.35 218.78v-1.57h0.25v1.57zM308.60 218.68v-1.17h0.25v1.17zM308.85 218.68v-2.48h0.25v2.48zM309.10 218.59v-1.58h0.25v1.58zM309.35 218.59v-1.91h0.25v1.91zM310.60 218.30v-1.67h0.25v1.67zM311.60 218.11v-2.18h0.25v2.18zM311.85 218.11v-2.06h0.25v2.06zM312.35 218.01v-1.07h0.25v1.07zM312.60 217.92v-1.47h0.25v1.47zM313.10 217.82v-1.03h0.25v1.03zM313.35 217.82v-0.99h0.25v0.99zM313.60 217.73v-0.92h0.25v0.92zM314.10 217.63v-2.08h0.25v2.08zM314.35 217.63v-0.99h0.25v0.99zM314.60 217.54v-1.10h0.25v1.10zM314.85 217.54v-1.03h0.25v1.03zM315.35 217.44v-0.74h0.25v0.74zM316.35 217.25v-1.31h0.25v1.31zM316.85 217.15v-1.66h0.25v1.66zM317.85 216.96v-1.50h0.25v1.50zM318.10 216.87v-0.90h0.25v0.90zM318.35 216.87v-1.94h0.25v1.94zM318.60 216.77v-0.76h0.25v0.76zM319.10 216.68v-0.71h0.25v0.71zM319.35 216.68v-1.58h0.25v1.58zM320.35 216.49v-1.76h0.25v1.76zM320.60 216.39v-1.05h0.25v1.05zM321.10 216.29v-0.80h0.25v0.80zM321.60 216.20v-0.90h0.25v0.90zM321.85 216.20v-1.42h0.25v1.42zM322.10 216.10v-0.67h0.25v0.67zM322.35 216.10v-1.39h0.25v1.39zM323.60 215.58v-1.80h0.25v1.80zM323.85 215.58v-1.03h0.25v1.03zM324.10 215.39v-1.73h0.25v1.73zM324.35 215.39v-1.07h0.25v1.07zM324.60 215.21v-0.67h0.25v0.67zM324.85 215.21v-1.38h0.25v1.38zM325.10 214.59v-1.18h0.25v1.18zM325.35 214.59v-1.23h0.25v1.23zM325.60 213.88v-1.58h0.25v1.58zM325.85 213.88v-1.01h0.25v1.01z" fill="#616161" opacity="0.26"/>
<line x1="173.2" y1="210.3" x2="173.2" y2="238.8" stroke="#3a3a3a" stroke-width="0.6"/>
<g stroke="#333" stroke-width="0.35">
<line x1="172.0" y1="237.84" x2="173.2" y2="237.84"/>
<line x1="172.0" y1="231.18" x2="173.2" y2="231.18"/>
<line x1="172.0" y1="224.52" x2="173.2" y2="224.52"/>
<line x1="172.0" y1="217.86" x2="173.2" y2="217.86"/>
<line x1="172.0" y1="211.20" x2="173.2" y2="211.20"/>
</g>
<text class="tk" x="166.1" y="239.59" style="font-size:5.3px">0</text>
<text class="tk" x="166.1" y="232.93" style="font-size:5.3px">3</text>
<text class="tk" x="166.1" y="226.27" style="font-size:5.3px">6</text>
<text class="tk" x="166.1" y="219.61" style="font-size:5.3px">9</text>
<text class="tk" x="166.1" y="212.95" style="font-size:5.3px">12</text>
<rect x="333.1" y="211.0" width="6.2" height="28.1" fill="#52c3ef"/>
<text class="st" transform="translate(334.85,226.4) rotate(90)" text-anchor="middle">MCM4</text>
<rect x="173.2" y="241.2" width="158.40000000000003" height="28.5" fill="#fff"/>
<g stroke="#f8f8f8" stroke-width="0.3">
<line x1="173.2" y1="265.34" x2="331.6" y2="265.34"/>
<line x1="173.2" y1="258.68" x2="331.6" y2="258.68"/>
<line x1="173.2" y1="252.02" x2="331.6" y2="252.02"/>
<line x1="173.2" y1="245.36" x2="331.6" y2="245.36"/>
<line x1="201.15" y1="241.2" x2="201.15" y2="269.7"/>
<line x1="241.05" y1="241.2" x2="241.05" y2="269.7"/>
<line x1="280.95" y1="241.2" x2="280.95" y2="269.7"/>
<line x1="320.85" y1="241.2" x2="320.85" y2="269.7"/>
</g>
<g stroke="#f0f0f0" stroke-width="0.45">
<line x1="173.2" y1="268.67" x2="331.6" y2="268.67"/>
<line x1="173.2" y1="262.01" x2="331.6" y2="262.01"/>
<line x1="173.2" y1="255.35" x2="331.6" y2="255.35"/>
<line x1="173.2" y1="248.69" x2="331.6" y2="248.69"/>
<line x1="173.2" y1="242.03" x2="331.6" y2="242.03"/>
<line x1="181.20" y1="241.2" x2="181.20" y2="269.7"/>
<line x1="221.10" y1="241.2" x2="221.10" y2="269.7"/>
<line x1="261.00" y1="241.2" x2="261.00" y2="269.7"/>
<line x1="300.90" y1="241.2" x2="300.90" y2="269.7"/>
</g>
<g fill="#595959">
<rect x="182.20" y="255.35" width="0.60" height="13.32" opacity="0.30"/>
<rect x="184.50" y="249.80" width="1.60" height="18.87" opacity="0.78"/>
<rect x="186.40" y="253.13" width="0.60" height="15.54" opacity="0.45"/>
<rect x="188.60" y="254.24" width="0.50" height="14.43" opacity="0.30"/>
<rect x="190.00" y="255.35" width="0.50" height="13.32" opacity="0.30"/>
<rect x="193.20" y="254.24" width="1.40" height="14.43" opacity="0.64"/>
<rect x="195.40" y="251.80" width="1.20" height="16.87" opacity="0.69"/>
<rect x="197.20" y="256.46" width="0.60" height="12.21" opacity="0.38"/>
<rect x="200.80" y="252.24" width="2.00" height="16.43" opacity="0.87"/>
<rect x="203.40" y="253.13" width="0.40" height="15.54" opacity="0.30"/>
<rect x="212.40" y="250.91" width="1.80" height="17.76" opacity="0.74"/>
<rect x="214.60" y="254.24" width="0.80" height="14.43" opacity="0.55"/>
<rect x="217.40" y="249.13" width="1.70" height="19.54" opacity="0.78"/>
<rect x="219.40" y="254.24" width="0.50" height="14.43" opacity="0.38"/>
<rect x="225.40" y="253.13" width="0.80" height="15.54" opacity="0.46"/>
<rect x="227.30" y="252.02" width="0.50" height="16.65" opacity="0.34"/>
<rect x="229.40" y="251.35" width="1.40" height="17.32" opacity="0.74"/>
</g>
<path d="M231.60 268.67 L231.60 256.68 L232.10 256.45 L232.60 256.21 L233.10 255.98 L233.60 255.74 L234.10 255.51 L234.60 255.31 L235.10 255.17 L235.60 255.04 L236.10 254.90 L236.60 254.77 L237.10 254.63 L237.60 254.50 L238.10 254.37 L238.60 254.23 L239.10 254.10 L239.60 253.96 L240.10 253.83 L240.60 253.69 L241.10 253.57 L241.60 253.53 L242.10 253.49 L242.60 253.45 L243.10 253.41 L243.60 253.36 L244.10 253.32 L244.60 253.28 L245.10 253.24 L245.60 253.20 L246.10 253.16 L246.60 253.12 L247.10 253.08 L247.60 253.04 L248.10 252.99 L248.60 252.95 L249.10 252.91 L249.60 252.87 L250.10 252.83 L250.60 252.79 L251.10 252.77 L251.60 252.74 L252.10 252.71 L252.60 252.69 L253.10 252.66 L253.60 252.63 L254.10 252.61 L254.60 252.58 L255.10 252.55 L255.60 252.53 L256.10 252.50 L256.60 252.47 L257.10 252.45 L257.60 252.42 L258.10 252.40 L258.60 252.37 L259.10 252.34 L259.60 252.32 L260.10 252.29 L260.60 252.26 L261.10 252.24 L261.60 252.21 L262.10 252.18 L262.60 252.16 L263.10 252.13 L263.60 252.10 L264.10 252.08 L264.60 252.05 L265.10 252.03 L265.60 252.00 L266.10 251.97 L266.60 251.95 L267.10 251.92 L267.60 251.89 L268.10 251.87 L268.60 251.84 L269.10 251.81 L269.60 251.79 L270.10 251.76 L270.60 251.73 L271.10 251.70 L271.60 251.68 L272.10 251.65 L272.60 251.62 L273.10 251.59 L273.60 251.57 L274.10 251.54 L274.60 251.51 L275.10 251.48 L275.60 251.46 L276.10 251.43 L276.60 251.40 L277.10 251.37 L277.60 251.34 L278.10 251.32 L278.60 251.29 L279.10 251.26 L279.60 251.23 L280.10 251.21 L280.60 251.18 L281.10 251.15 L281.60 251.12 L282.10 251.10 L282.60 251.07 L283.10 251.04 L283.60 251.01 L284.10 250.99 L284.60 250.96 L285.10 250.93 L285.60 250.90 L286.10 250.86 L286.60 250.82 L287.10 250.78 L287.60 250.74 L288.10 250.69 L288.60 250.65 L289.10 250.61 L289.60 250.57 L290.10 250.53 L290.60 250.49 L291.10 250.45 L291.60 250.41 L292.10 250.37 L292.60 250.33 L293.10 250.29 L293.60 250.25 L294.10 250.20 L294.60 250.16 L295.10 250.12 L295.60 250.08 L296.10 250.04 L296.60 250.00 L297.10 249.96 L297.60 249.92 L298.10 249.88 L298.60 249.84 L299.10 249.80 L299.60 249.76 L300.10 249.71 L300.60 249.67 L301.10 249.63 L301.60 249.59 L302.10 249.55 L302.60 249.51 L303.10 249.47 L303.60 249.43 L304.10 249.39 L304.60 249.35 L305.10 249.31 L305.60 249.26 L306.10 249.22 L306.60 249.18 L307.10 249.14 L307.60 249.06 L308.10 248.98 L308.60 248.89 L309.10 248.80 L309.60 248.71 L310.10 248.62 L310.60 248.53 L311.10 248.45 L311.60 248.36 L312.10 248.27 L312.60 248.18 L313.10 248.09 L313.60 248.01 L314.10 247.92 L314.60 247.83 L315.10 247.74 L315.60 247.65 L316.10 247.57 L316.60 247.48 L317.10 247.39 L317.60 247.30 L318.10 247.21 L318.60 247.13 L319.10 247.04 L319.60 246.95 L320.10 246.86 L320.60 246.77 L321.10 246.68 L321.60 246.60 L322.10 246.51 L322.60 246.36 L323.10 246.18 L323.60 245.99 L324.10 245.80 L324.60 245.61 L325.10 244.99 L325.60 244.29 L326.10 243.58 L326.10 268.67 Z" fill="#616161"/>
<path d="M232.61 268.67v-13.12h0.25v13.12zM234.30 268.67v-13.83h0.30v13.83zM235.15 268.67v-14.16h0.20v14.16zM238.17 268.67v-14.97h0.20v14.97zM238.81 268.67v-15.10h0.20v15.10zM240.32 268.67v-15.51h0.25v15.51zM241.72 268.67v-15.81h0.30v15.81zM243.11 268.67v-15.93h0.20v15.93zM244.14 268.67v-16.01h0.40v16.01zM246.12 268.67v-16.18h0.40v16.18zM248.11 268.67v-16.34h0.20v16.34zM250.23 268.67v-16.51h0.20v16.51zM251.30 268.67v-16.57h0.20v16.57zM254.84 268.67v-16.76h0.40v16.76zM255.80 268.67v-16.81h0.30v16.81zM256.26 268.67v-16.84h0.30v16.84zM259.35 268.67v-16.99h0.25v16.99zM261.85 268.67v-17.13h0.25v17.13zM263.34 268.67v-17.21h0.40v17.21zM266.29 268.67v-17.36h0.40v17.36zM267.39 268.67v-17.42h0.25v17.42zM267.84 268.67v-17.44h0.40v17.44zM268.12 268.67v-17.47h0.25v17.47zM269.13 268.67v-17.52h0.20v17.52zM271.17 268.67v-17.63h0.25v17.63zM272.27 268.67v-17.69h0.40v17.69zM276.83 268.67v-17.94h0.25v17.94zM277.23 268.67v-17.96h0.25v17.96zM277.62 268.67v-17.99h0.30v17.99zM279.62 268.67v-18.10h0.30v18.10zM280.14 268.67v-18.13h0.40v18.13zM285.38 268.67v-18.41h0.25v18.41zM285.75 268.67v-18.44h0.40v18.44zM287.87 268.67v-18.60h0.30v18.60zM290.13 268.67v-18.80h0.20v18.80zM292.26 268.67v-18.97h0.40v18.97zM292.63 268.67v-19.01h0.20v19.01zM293.18 268.67v-19.05h0.40v19.05zM294.18 268.67v-19.13h0.20v19.13zM294.86 268.67v-19.17h0.30v19.17zM299.31 268.67v-19.54h0.40v19.54zM312.25 268.67v-21.07h0.20v21.07zM316.79 268.67v-21.86h0.30v21.86zM317.62 268.67v-22.03h0.20v22.03z" fill="#fff" opacity="0.32"/>
<path d="M231.6 257.0 L231.6 252.9 L232.1 252.7 L232.6 252.5 L233.1 252.2 L233.6 252.0 L234.1 251.8 L234.6 251.6 L235.1 251.5 L237.6 250.9 L240.6 250.2 L243.6 249.9 L246.6 249.8 L249.6 249.6 L252.6 249.5 L255.6 249.5 L258.6 249.4 L261.6 249.3 L264.6 249.3 L267.6 249.2 L270.6 249.1 L273.6 249.0 L276.6 249.0 L279.6 248.9 L282.6 248.8 L285.6 248.7 L288.6 248.6 L291.6 248.4 L294.6 248.3 L297.6 248.1 L300.6 248.0 L303.6 247.8 L306.6 247.7 L309.6 247.3 L312.6 246.8 L315.6 246.4 L318.6 246.0 L321.6 245.5 L323.1 245.1 L323.6 245.0 L324.1 244.8 L324.6 244.6 L325.1 244.0 L325.6 243.3 L326.1 242.6 L326.1 243.9 L325.6 244.6 L325.1 245.3 L324.6 245.9 L324.1 246.1 L323.6 246.3 L323.1 246.5 L321.6 246.9 L318.6 247.4 L315.6 248.0 L312.6 248.5 L309.6 249.0 L306.6 249.5 L303.6 249.7 L300.6 250.0 L297.6 250.2 L294.6 250.5 L291.6 250.7 L288.6 251.0 L285.6 251.2 L282.6 251.4 L279.6 251.5 L276.6 251.7 L273.6 251.9 L270.6 252.0 L267.6 252.2 L264.6 252.4 L261.6 252.5 L258.6 252.7 L255.6 252.8 L252.6 253.0 L249.6 253.2 L246.6 253.4 L243.6 253.7 L240.6 254.0 L237.6 254.8 L235.1 255.5 L234.6 255.6 L234.1 255.8 L233.6 256.0 L233.1 256.3 L232.6 256.5 L232.1 256.7 L231.6 257.0Z" fill="#616161" opacity="0.075"/>
<path d="M231.6 257.0 L231.6 253.5 L232.1 253.3 L232.6 253.1 L233.1 252.9 L233.6 252.6 L234.1 252.4 L234.6 252.2 L235.1 252.1 L237.6 251.5 L240.6 250.8 L243.6 250.5 L246.6 250.3 L249.6 250.2 L252.6 250.1 L255.6 250.0 L258.6 249.9 L261.6 249.8 L264.6 249.7 L267.6 249.6 L270.6 249.6 L273.6 249.5 L276.6 249.4 L279.6 249.3 L282.6 249.2 L285.6 249.1 L288.6 248.9 L291.6 248.8 L294.6 248.6 L297.6 248.4 L300.6 248.3 L303.6 248.1 L306.6 247.9 L309.6 247.5 L312.6 247.1 L315.6 246.6 L318.6 246.2 L321.6 245.7 L323.1 245.3 L323.6 245.1 L324.1 245.0 L324.6 244.8 L325.1 244.2 L325.6 243.5 L326.1 242.8 L326.1 243.9 L325.6 244.6 L325.1 245.3 L324.6 245.9 L324.1 246.1 L323.6 246.3 L323.1 246.5 L321.6 246.9 L318.6 247.4 L315.6 248.0 L312.6 248.5 L309.6 249.0 L306.6 249.5 L303.6 249.7 L300.6 250.0 L297.6 250.2 L294.6 250.5 L291.6 250.7 L288.6 251.0 L285.6 251.2 L282.6 251.4 L279.6 251.5 L276.6 251.7 L273.6 251.9 L270.6 252.0 L267.6 252.2 L264.6 252.4 L261.6 252.5 L258.6 252.7 L255.6 252.8 L252.6 253.0 L249.6 253.2 L246.6 253.4 L243.6 253.7 L240.6 254.0 L237.6 254.8 L235.1 255.5 L234.6 255.6 L234.1 255.8 L233.6 256.0 L233.1 256.3 L232.6 256.5 L232.1 256.7 L231.6 257.0Z" fill="#616161" opacity="0.075"/>
<path d="M231.6 257.0 L231.6 254.2 L232.1 253.9 L232.6 253.7 L233.1 253.5 L233.6 253.3 L234.1 253.0 L234.6 252.8 L235.1 252.7 L237.6 252.1 L240.6 251.4 L243.6 251.1 L246.6 250.9 L249.6 250.7 L252.6 250.6 L255.6 250.5 L258.6 250.4 L261.6 250.3 L264.6 250.2 L267.6 250.1 L270.6 250.0 L273.6 249.9 L276.6 249.8 L279.6 249.7 L282.6 249.6 L285.6 249.5 L288.6 249.3 L291.6 249.1 L294.6 248.9 L297.6 248.7 L300.6 248.5 L303.6 248.3 L306.6 248.2 L309.6 247.8 L312.6 247.3 L315.6 246.8 L318.6 246.3 L321.6 245.9 L323.1 245.5 L323.6 245.3 L324.1 245.1 L324.6 245.0 L325.1 244.3 L325.6 243.6 L326.1 243.0 L326.1 243.9 L325.6 244.6 L325.1 245.3 L324.6 245.9 L324.1 246.1 L323.6 246.3 L323.1 246.5 L321.6 246.9 L318.6 247.4 L315.6 248.0 L312.6 248.5 L309.6 249.0 L306.6 249.5 L303.6 249.7 L300.6 250.0 L297.6 250.2 L294.6 250.5 L291.6 250.7 L288.6 251.0 L285.6 251.2 L282.6 251.4 L279.6 251.5 L276.6 251.7 L273.6 251.9 L270.6 252.0 L267.6 252.2 L264.6 252.4 L261.6 252.5 L258.6 252.7 L255.6 252.8 L252.6 253.0 L249.6 253.2 L246.6 253.4 L243.6 253.7 L240.6 254.0 L237.6 254.8 L235.1 255.5 L234.6 255.6 L234.1 255.8 L233.6 256.0 L233.1 256.3 L232.6 256.5 L232.1 256.7 L231.6 257.0Z" fill="#616161" opacity="0.075"/>
<path d="M231.6 257.0 L231.6 254.8 L232.1 254.6 L232.6 254.3 L233.1 254.1 L233.6 253.9 L234.1 253.7 L234.6 253.5 L235.1 253.3 L237.6 252.7 L240.6 251.9 L243.6 251.7 L246.6 251.5 L249.6 251.3 L252.6 251.1 L255.6 251.0 L258.6 250.9 L261.6 250.8 L264.6 250.7 L267.6 250.5 L270.6 250.4 L273.6 250.3 L276.6 250.2 L279.6 250.1 L282.6 249.9 L285.6 249.8 L288.6 249.6 L291.6 249.4 L294.6 249.2 L297.6 249.0 L300.6 248.8 L303.6 248.6 L306.6 248.4 L309.6 248.0 L312.6 247.5 L315.6 247.0 L318.6 246.5 L321.6 246.1 L323.1 245.7 L323.6 245.5 L324.1 245.3 L324.6 245.1 L325.1 244.5 L325.6 243.8 L326.1 243.1 L326.1 243.9 L325.6 244.6 L325.1 245.3 L324.6 245.9 L324.1 246.1 L323.6 246.3 L323.1 246.5 L321.6 246.9 L318.6 247.4 L315.6 248.0 L312.6 248.5 L309.6 249.0 L306.6 249.5 L303.6 249.7 L300.6 250.0 L297.6 250.2 L294.6 250.5 L291.6 250.7 L288.6 251.0 L285.6 251.2 L282.6 251.4 L279.6 251.5 L276.6 251.7 L273.6 251.9 L270.6 252.0 L267.6 252.2 L264.6 252.4 L261.6 252.5 L258.6 252.7 L255.6 252.8 L252.6 253.0 L249.6 253.2 L246.6 253.4 L243.6 253.7 L240.6 254.0 L237.6 254.8 L235.1 255.5 L234.6 255.6 L234.1 255.8 L233.6 256.0 L233.1 256.3 L232.6 256.5 L232.1 256.7 L231.6 257.0Z" fill="#616161" opacity="0.075"/>
<path d="M231.6 257.0 L231.6 255.4 L232.1 255.2 L232.6 255.0 L233.1 254.7 L233.6 254.5 L234.1 254.3 L234.6 254.1 L235.1 253.9 L237.6 253.3 L240.6 252.5 L243.6 252.2 L246.6 252.0 L249.6 251.8 L252.6 251.6 L255.6 251.5 L258.6 251.4 L261.6 251.3 L264.6 251.1 L267.6 251.0 L270.6 250.9 L273.6 250.7 L276.6 250.6 L279.6 250.5 L282.6 250.3 L285.6 250.2 L288.6 250.0 L291.6 249.7 L294.6 249.5 L297.6 249.3 L300.6 249.1 L303.6 248.9 L306.6 248.7 L309.6 248.2 L312.6 247.7 L315.6 247.2 L318.6 246.7 L321.6 246.2 L323.1 245.8 L323.6 245.6 L324.1 245.5 L324.6 245.3 L325.1 244.7 L325.6 244.0 L326.1 243.3 L326.1 243.9 L325.6 244.6 L325.1 245.3 L324.6 245.9 L324.1 246.1 L323.6 246.3 L323.1 246.5 L321.6 246.9 L318.6 247.4 L315.6 248.0 L312.6 248.5 L309.6 249.0 L306.6 249.5 L303.6 249.7 L300.6 250.0 L297.6 250.2 L294.6 250.5 L291.6 250.7 L288.6 251.0 L285.6 251.2 L282.6 251.4 L279.6 251.5 L276.6 251.7 L273.6 251.9 L270.6 252.0 L267.6 252.2 L264.6 252.4 L261.6 252.5 L258.6 252.7 L255.6 252.8 L252.6 253.0 L249.6 253.2 L246.6 253.4 L243.6 253.7 L240.6 254.0 L237.6 254.8 L235.1 255.5 L234.6 255.6 L234.1 255.8 L233.6 256.0 L233.1 256.3 L232.6 256.5 L232.1 256.7 L231.6 257.0Z" fill="#616161" opacity="0.075"/>
<path d="M231.6 257.0 L231.6 256.1 L232.1 255.8 L232.6 255.6 L233.1 255.4 L233.6 255.1 L234.1 254.9 L234.6 254.7 L235.1 254.6 L237.6 253.9 L240.6 253.1 L243.6 252.8 L246.6 252.6 L249.6 252.3 L252.6 252.2 L255.6 252.0 L258.6 251.9 L261.6 251.7 L264.6 251.6 L267.6 251.4 L270.6 251.3 L273.6 251.1 L276.6 251.0 L279.6 250.8 L282.6 250.7 L285.6 250.5 L288.6 250.3 L291.6 250.1 L294.6 249.8 L297.6 249.6 L300.6 249.4 L303.6 249.2 L306.6 248.9 L309.6 248.5 L312.6 248.0 L315.6 247.4 L318.6 246.9 L321.6 246.4 L323.1 246.0 L323.6 245.8 L324.1 245.6 L324.6 245.4 L325.1 244.8 L325.6 244.1 L326.1 243.4 L326.1 243.9 L325.6 244.6 L325.1 245.3 L324.6 245.9 L324.1 246.1 L323.6 246.3 L323.1 246.5 L321.6 246.9 L318.6 247.4 L315.6 248.0 L312.6 248.5 L309.6 249.0 L306.6 249.5 L303.6 249.7 L300.6 250.0 L297.6 250.2 L294.6 250.5 L291.6 250.7 L288.6 251.0 L285.6 251.2 L282.6 251.4 L279.6 251.5 L276.6 251.7 L273.6 251.9 L270.6 252.0 L267.6 252.2 L264.6 252.4 L261.6 252.5 L258.6 252.7 L255.6 252.8 L252.6 253.0 L249.6 253.2 L246.6 253.4 L243.6 253.7 L240.6 254.0 L237.6 254.8 L235.1 255.5 L234.6 255.6 L234.1 255.8 L233.6 256.0 L233.1 256.3 L232.6 256.5 L232.1 256.7 L231.6 257.0Z" fill="#616161" opacity="0.075"/>
<path d="M231.60 256.88v-2.68h0.25v2.68zM231.85 256.88v-2.93h0.25v2.93zM232.10 256.65v-1.60h0.25v1.60zM232.35 256.65v-2.09h0.25v2.09zM232.60 256.41v-3.46h0.25v3.46zM232.85 256.41v-2.13h0.25v2.13zM233.10 256.18v-3.38h0.25v3.38zM233.35 256.18v-3.31h0.25v3.31zM233.60 255.94v-2.59h0.25v2.59zM233.85 255.94v-2.44h0.25v2.44zM234.10 255.71v-3.42h0.25v3.42zM234.85 255.51v-2.06h0.25v2.06zM235.60 255.24v-1.62h0.25v1.62zM235.85 255.24v-2.33h0.25v2.33zM236.10 255.10v-4.22h0.25v4.22zM236.35 255.10v-1.40h0.25v1.40zM236.60 254.97v-1.36h0.25v1.36zM236.85 254.97v-1.29h0.25v1.29zM237.60 254.70v-1.86h0.25v1.86zM237.85 254.70v-4.05h0.25v4.05zM238.10 254.57v-1.78h0.25v1.78zM238.35 254.57v-3.42h0.25v3.42zM238.60 254.43v-3.66h0.25v3.66zM239.10 254.30v-1.84h0.25v1.84zM239.35 254.30v-3.89h0.25v3.89zM239.60 254.16v-2.60h0.25v2.60zM240.10 254.03v-2.75h0.25v2.75zM240.60 253.89v-2.60h0.25v2.60zM241.10 253.77v-3.80h0.25v3.80zM241.35 253.77v-1.54h0.25v1.54zM241.85 253.73v-1.64h0.25v1.64zM242.10 253.69v-2.59h0.25v2.59zM242.60 253.65v-3.63h0.25v3.63zM242.85 253.65v-1.38h0.25v1.38zM243.10 253.61v-3.58h0.25v3.58zM243.35 253.61v-2.72h0.25v2.72zM243.60 253.56v-1.99h0.25v1.99zM243.85 253.56v-1.49h0.25v1.49zM244.35 253.52v-1.35h0.25v1.35zM244.60 253.48v-1.69h0.25v1.69zM245.10 253.44v-2.88h0.25v2.88zM245.35 253.44v-2.81h0.25v2.81zM245.60 253.40v-3.13h0.25v3.13zM245.85 253.40v-3.12h0.25v3.12zM246.10 253.36v-1.21h0.25v1.21zM246.35 253.36v-1.63h0.25v1.63zM246.60 253.32v-2.84h0.25v2.84zM246.85 253.32v-3.79h0.25v3.79zM247.35 253.28v-1.89h0.25v1.89zM247.85 253.24v-3.10h0.25v3.10zM248.10 253.19v-2.52h0.25v2.52zM248.35 253.19v-2.01h0.25v2.01zM248.60 253.15v-3.67h0.25v3.67zM248.85 253.15v-2.15h0.25v2.15zM249.85 253.07v-3.38h0.25v3.38zM250.10 253.03v-2.32h0.25v2.32zM250.35 253.03v-2.01h0.25v2.01zM250.60 252.99v-2.31h0.25v2.31zM251.10 252.97v-1.49h0.25v1.49zM251.35 252.97v-2.50h0.25v2.50zM251.85 252.94v-1.66h0.25v1.66zM252.10 252.91v-3.98h0.25v3.98zM252.35 252.91v-2.68h0.25v2.68zM253.10 252.86v-1.26h0.25v1.26zM253.35 252.86v-2.56h0.25v2.56zM253.85 252.83v-3.35h0.25v3.35zM255.10 252.75v-1.30h0.25v1.30zM255.35 252.75v-2.84h0.25v2.84zM255.85 252.73v-2.61h0.25v2.61zM256.10 252.70v-2.63h0.25v2.63zM256.60 252.67v-2.31h0.25v2.31zM256.85 252.67v-2.10h0.25v2.10zM257.10 252.65v-2.93h0.25v2.93zM257.60 252.62v-1.41h0.25v1.41zM257.85 252.62v-1.68h0.25v1.68zM258.35 252.60v-1.17h0.25v1.17zM259.10 252.54v-1.69h0.25v1.69zM259.35 252.54v-3.10h0.25v3.10zM259.60 252.52v-3.44h0.25v3.44zM260.10 252.49v-3.46h0.25v3.46zM260.35 252.49v-1.10h0.25v1.10zM260.60 252.46v-3.36h0.25v3.36zM260.85 252.46v-1.40h0.25v1.40zM261.60 252.41v-3.01h0.25v3.01zM261.85 252.41v-2.11h0.25v2.11zM262.35 252.38v-1.54h0.25v1.54zM263.10 252.33v-3.34h0.25v3.34zM263.35 252.33v-2.38h0.25v2.38zM264.10 252.28v-2.73h0.25v2.73zM264.35 252.28v-2.35h0.25v2.35zM264.60 252.25v-2.30h0.25v2.30zM264.85 252.25v-1.22h0.25v1.22zM265.10 252.23v-3.12h0.25v3.12zM265.35 252.23v-2.73h0.25v2.73zM265.60 252.20v-2.71h0.25v2.71zM265.85 252.20v-3.47h0.25v3.47zM266.10 252.17v-1.89h0.25v1.89zM266.35 252.17v-2.65h0.25v2.65zM266.60 252.15v-1.51h0.25v1.51zM266.85 252.15v-3.10h0.25v3.10zM267.10 252.12v-2.27h0.25v2.27zM267.35 252.12v-1.01h0.25v1.01zM267.85 252.09v-3.39h0.25v3.39zM268.10 252.07v-2.24h0.25v2.24zM268.60 252.04v-1.22h0.25v1.22zM269.10 252.01v-1.77h0.25v1.77zM269.60 251.99v-2.48h0.25v2.48zM269.85 251.99v-1.26h0.25v1.26zM270.10 251.96v-2.75h0.25v2.75zM270.60 251.93v-2.56h0.25v2.56zM271.10 251.90v-2.48h0.25v2.48zM271.35 251.90v-2.56h0.25v2.56zM271.60 251.88v-1.46h0.25v1.46zM272.10 251.85v-2.41h0.25v2.41zM272.60 251.82v-1.50h0.25v1.50zM273.35 251.79v-2.48h0.25v2.48zM273.60 251.77v-2.90h0.25v2.90zM273.85 251.77v-0.96h0.25v0.96zM274.10 251.74v-1.93h0.25v1.93zM274.35 251.74v-1.44h0.25v1.44zM275.10 251.68v-0.96h0.25v0.96zM275.35 251.68v-2.53h0.25v2.53zM275.60 251.66v-1.45h0.25v1.45zM276.35 251.63v-2.61h0.25v2.61zM276.60 251.60v-2.59h0.25v2.59zM276.85 251.60v-1.61h0.25v1.61zM277.35 251.57v-1.04h0.25v1.04zM277.60 251.54v-1.71h0.25v1.71zM277.85 251.54v-1.11h0.25v1.11zM278.10 251.52v-1.37h0.25v1.37zM278.35 251.52v-2.37h0.25v2.37zM278.85 251.49v-1.06h0.25v1.06zM279.60 251.43v-1.19h0.25v1.19zM280.10 251.41v-1.86h0.25v1.86zM280.60 251.38v-1.46h0.25v1.46zM280.85 251.38v-2.21h0.25v2.21zM281.60 251.32v-1.36h0.25v1.36zM282.10 251.30v-0.98h0.25v0.98zM282.35 251.30v-1.80h0.25v1.80zM282.60 251.27v-2.84h0.25v2.84zM282.85 251.27v-2.15h0.25v2.15zM283.10 251.24v-1.03h0.25v1.03zM284.35 251.19v-1.13h0.25v1.13zM284.60 251.16v-1.95h0.25v1.95zM284.85 251.16v-1.05h0.25v1.05zM285.10 251.13v-2.47h0.25v2.47zM285.35 251.13v-2.07h0.25v2.07zM285.60 251.10v-0.88h0.25v0.88zM285.85 251.10v-0.96h0.25v0.96zM286.35 251.06v-2.40h0.25v2.40zM287.60 250.94v-1.61h0.25v1.61zM288.10 250.89v-1.78h0.25v1.78zM288.35 250.89v-1.14h0.25v1.14zM288.60 250.85v-2.30h0.25v2.30zM288.85 250.85v-0.93h0.25v0.93zM289.10 250.81v-2.30h0.25v2.30zM290.10 250.73v-1.25h0.25v1.25zM290.60 250.69v-2.27h0.25v2.27zM290.85 250.69v-1.49h0.25v1.49zM291.10 250.65v-1.96h0.25v1.96zM291.35 250.65v-1.40h0.25v1.40zM291.60 250.61v-2.10h0.25v2.10zM292.10 250.57v-0.84h0.25v0.84zM292.60 250.53v-0.81h0.25v0.81zM293.10 250.49v-1.12h0.25v1.12zM293.35 250.49v-1.01h0.25v1.01zM293.60 250.45v-0.94h0.25v0.94zM293.85 250.45v-2.20h0.25v2.20zM294.10 250.40v-0.96h0.25v0.96zM295.10 250.32v-1.31h0.25v1.31zM295.35 250.32v-2.23h0.25v2.23zM295.60 250.28v-1.12h0.25v1.12zM295.85 250.28v-0.88h0.25v0.88zM296.10 250.24v-1.12h0.25v1.12zM296.85 250.20v-1.42h0.25v1.42zM297.85 250.12v-0.83h0.25v0.83zM298.10 250.08v-2.16h0.25v2.16zM298.60 250.04v-2.30h0.25v2.30zM298.85 250.04v-1.17h0.25v1.17zM299.60 249.96v-1.40h0.25v1.40zM299.85 249.96v-1.42h0.25v1.42zM300.10 249.91v-2.00h0.25v2.00zM300.35 249.91v-0.82h0.25v0.82zM300.60 249.87v-1.31h0.25v1.31zM300.85 249.87v-0.71h0.25v0.71zM301.10 249.83v-0.74h0.25v0.74zM301.35 249.83v-1.48h0.25v1.48zM301.85 249.79v-2.13h0.25v2.13zM302.35 249.75v-1.83h0.25v1.83zM302.60 249.71v-1.33h0.25v1.33zM303.10 249.67v-1.20h0.25v1.20zM303.35 249.67v-1.09h0.25v1.09zM303.60 249.63v-0.81h0.25v0.81zM303.85 249.63v-1.11h0.25v1.11zM304.10 249.59v-1.18h0.25v1.18zM305.35 249.51v-1.11h0.25v1.11zM305.85 249.46v-0.86h0.25v0.86zM306.10 249.42v-1.45h0.25v1.45zM306.60 249.38v-1.63h0.25v1.63zM306.85 249.38v-1.27h0.25v1.27zM307.10 249.34v-1.88h0.25v1.88zM307.35 249.34v-1.05h0.25v1.05zM308.10 249.18v-1.74h0.25v1.74zM308.60 249.09v-0.93h0.25v0.93zM308.85 249.09v-0.87h0.25v0.87zM309.35 249.00v-0.74h0.25v0.74zM309.60 248.91v-0.79h0.25v0.79zM309.85 248.91v-1.24h0.25v1.24zM310.10 248.82v-1.16h0.25v1.16zM310.35 248.82v-0.66h0.25v0.66zM311.10 248.65v-1.52h0.25v1.52zM311.35 248.65v-0.75h0.25v0.75zM311.85 248.56v-1.10h0.25v1.10zM312.10 248.47v-0.88h0.25v0.88zM312.35 248.47v-0.67h0.25v0.67zM313.60 248.21v-0.66h0.25v0.66zM313.85 248.21v-1.11h0.25v1.11zM314.10 248.12v-0.92h0.25v0.92zM314.35 248.12v-0.96h0.25v0.96zM314.60 248.03v-1.15h0.25v1.15zM314.85 248.03v-0.93h0.25v0.93zM315.10 247.94v-0.98h0.25v0.98zM315.35 247.94v-1.09h0.25v1.09zM315.60 247.85v-0.72h0.25v0.72zM316.10 247.77v-0.66h0.25v0.66zM316.60 247.68v-1.01h0.25v1.01zM316.85 247.68v-1.22h0.25v1.22zM317.10 247.59v-1.03h0.25v1.03zM317.35 247.59v-1.05h0.25v1.05zM317.60 247.50v-0.75h0.25v0.75zM317.85 247.50v-1.21h0.25v1.21zM318.10 247.41v-1.10h0.25v1.10zM318.60 247.33v-1.58h0.25v1.58zM319.35 247.24v-0.55h0.25v0.55zM319.60 247.15v-0.98h0.25v0.98zM320.10 247.06v-1.24h0.25v1.24zM320.35 247.06v-0.54h0.25v0.54zM320.60 246.97v-1.25h0.25v1.25zM321.10 246.88v-1.07h0.25v1.07zM321.60 246.80v-1.08h0.25v1.08zM321.85 246.80v-0.66h0.25v0.66zM322.35 246.71v-0.90h0.25v0.90zM322.60 246.56v-1.02h0.25v1.02zM323.10 246.38v-1.17h0.25v1.17zM323.35 246.38v-1.16h0.25v1.16zM324.10 246.00v-0.86h0.25v0.86zM324.35 246.00v-0.90h0.25v0.90zM324.60 245.81v-0.66h0.25v0.66zM324.85 245.81v-0.78h0.25v0.78zM325.10 245.19v-0.52h0.25v0.52zM325.35 245.19v-0.51h0.25v0.51zM325.85 244.49v-0.74h0.25v0.74z" fill="#616161" opacity="0.26"/>
<line x1="173.2" y1="241.2" x2="173.2" y2="269.7" stroke="#3a3a3a" stroke-width="0.6"/>
<g stroke="#333" stroke-width="0.35">
<line x1="172.0" y1="268.67" x2="173.2" y2="268.67"/>
<line x1="172.0" y1="262.01" x2="173.2" y2="262.01"/>
<line x1="172.0" y1="255.35" x2="173.2" y2="255.35"/>
<line x1="172.0" y1="248.69" x2="173.2" y2="248.69"/>
<line x1="172.0" y1="242.03" x2="173.2" y2="242.03"/>
</g>
<text class="tk" x="166.1" y="270.42" style="font-size:5.3px">0</text>
<text class="tk" x="166.1" y="263.76" style="font-size:5.3px">3</text>
<text class="tk" x="166.1" y="257.10" style="font-size:5.3px">6</text>
<text class="tk" x="166.1" y="250.44" style="font-size:5.3px">9</text>
<text class="tk" x="166.1" y="243.78" style="font-size:5.3px">12</text>
<rect x="333.1" y="241.9" width="6.2" height="28.1" fill="#52c3ef"/>
<text class="st" transform="translate(334.85,257.2) rotate(90)" text-anchor="middle">MCM5</text>
<rect x="173.2" y="272.0" width="158.40000000000003" height="28.5" fill="#fff"/>
<g stroke="#f8f8f8" stroke-width="0.3">
<line x1="173.2" y1="296.17" x2="331.6" y2="296.17"/>
<line x1="173.2" y1="289.51" x2="331.6" y2="289.51"/>
<line x1="173.2" y1="282.85" x2="331.6" y2="282.85"/>
<line x1="173.2" y1="276.19" x2="331.6" y2="276.19"/>
<line x1="201.15" y1="272.0" x2="201.15" y2="300.5"/>
<line x1="241.05" y1="272.0" x2="241.05" y2="300.5"/>
<line x1="280.95" y1="272.0" x2="280.95" y2="300.5"/>
<line x1="320.85" y1="272.0" x2="320.85" y2="300.5"/>
</g>
<g stroke="#f0f0f0" stroke-width="0.45">
<line x1="173.2" y1="299.50" x2="331.6" y2="299.50"/>
<line x1="173.2" y1="292.84" x2="331.6" y2="292.84"/>
<line x1="173.2" y1="286.18" x2="331.6" y2="286.18"/>
<line x1="173.2" y1="279.52" x2="331.6" y2="279.52"/>
<line x1="173.2" y1="272.86" x2="331.6" y2="272.86"/>
<line x1="181.20" y1="272.0" x2="181.20" y2="300.5"/>
<line x1="221.10" y1="272.0" x2="221.10" y2="300.5"/>
<line x1="261.00" y1="272.0" x2="261.00" y2="300.5"/>
<line x1="300.90" y1="272.0" x2="300.90" y2="300.5"/>
</g>
<g fill="#595959">
<rect x="181.60" y="286.62" width="1.00" height="12.88" opacity="0.41"/>
<rect x="182.80" y="287.51" width="1.60" height="11.99" opacity="0.64"/>
<rect x="184.60" y="280.85" width="1.40" height="18.65" opacity="0.83"/>
<rect x="186.60" y="286.18" width="0.50" height="13.32" opacity="0.38"/>
<rect x="188.80" y="283.07" width="1.00" height="16.43" opacity="0.69"/>
<rect x="190.60" y="286.18" width="0.50" height="13.32" opacity="0.38"/>
<rect x="193.00" y="285.29" width="1.40" height="14.21" opacity="0.69"/>
<rect x="195.30" y="282.63" width="1.00" height="16.87" opacity="0.69"/>
<rect x="197.00" y="286.18" width="0.60" height="13.32" opacity="0.45"/>
<rect x="200.80" y="285.74" width="2.00" height="13.76" opacity="0.83"/>
<rect x="203.60" y="283.96" width="0.50" height="15.54" opacity="0.30"/>
<rect x="206.00" y="286.18" width="0.40" height="13.32" opacity="0.22"/>
<rect x="212.60" y="281.74" width="1.80" height="17.76" opacity="0.74"/>
<rect x="214.80" y="283.96" width="0.80" height="15.54" opacity="0.60"/>
<rect x="216.30" y="291.06" width="0.50" height="8.44" opacity="0.38"/>
<rect x="218.20" y="280.85" width="1.50" height="18.65" opacity="0.78"/>
<rect x="220.20" y="286.18" width="0.50" height="13.32" opacity="0.30"/>
<rect x="224.80" y="283.96" width="0.40" height="15.54" opacity="0.26"/>
<rect x="229.60" y="281.74" width="1.30" height="17.76" opacity="0.83"/>
</g>
<path d="M231.60 299.50 L231.60 287.29 L232.10 287.06 L232.60 286.82 L233.10 286.59 L233.60 286.35 L234.10 286.12 L234.60 285.91 L235.10 285.78 L235.60 285.65 L236.10 285.51 L236.60 285.38 L237.10 285.24 L237.60 285.11 L238.10 284.97 L238.60 284.84 L239.10 284.71 L239.60 284.57 L240.10 284.44 L240.60 284.30 L241.10 284.18 L241.60 284.14 L242.10 284.10 L242.60 284.05 L243.10 284.01 L243.60 283.97 L244.10 283.93 L244.60 283.89 L245.10 283.85 L245.60 283.81 L246.10 283.77 L246.60 283.73 L247.10 283.68 L247.60 283.64 L248.10 283.60 L248.60 283.56 L249.10 283.52 L249.60 283.48 L250.10 283.44 L250.60 283.40 L251.10 283.37 L251.60 283.35 L252.10 283.32 L252.60 283.29 L253.10 283.27 L253.60 283.24 L254.10 283.21 L254.60 283.19 L255.10 283.16 L255.60 283.14 L256.10 283.11 L256.60 283.08 L257.10 283.06 L257.60 283.03 L258.10 283.00 L258.60 282.98 L259.10 282.95 L259.60 282.92 L260.10 282.90 L260.60 282.87 L261.10 282.84 L261.60 282.82 L262.10 282.79 L262.60 282.77 L263.10 282.74 L263.60 282.71 L264.10 282.69 L264.60 282.66 L265.10 282.63 L265.60 282.61 L266.10 282.58 L266.60 282.55 L267.10 282.53 L267.60 282.50 L268.10 282.47 L268.60 282.45 L269.10 282.42 L269.60 282.39 L270.10 282.37 L270.60 282.34 L271.10 282.31 L271.60 282.28 L272.10 282.26 L272.60 282.23 L273.10 282.20 L273.60 282.17 L274.10 282.15 L274.60 282.12 L275.10 282.09 L275.60 282.06 L276.10 282.04 L276.60 282.01 L277.10 281.98 L277.60 281.95 L278.10 281.93 L278.60 281.90 L279.10 281.87 L279.60 281.84 L280.10 281.81 L280.60 281.79 L281.10 281.76 L281.60 281.73 L282.10 281.70 L282.60 281.68 L283.10 281.65 L283.60 281.62 L284.10 281.59 L284.60 281.57 L285.10 281.54 L285.60 281.51 L286.10 281.47 L286.60 281.43 L287.10 281.38 L287.60 281.34 L288.10 281.30 L288.60 281.26 L289.10 281.22 L289.60 281.18 L290.10 281.14 L290.60 281.10 L291.10 281.06 L291.60 281.02 L292.10 280.98 L292.60 280.93 L293.10 280.89 L293.60 280.85 L294.10 280.81 L294.60 280.77 L295.10 280.73 L295.60 280.69 L296.10 280.65 L296.60 280.61 L297.10 280.57 L297.60 280.53 L298.10 280.49 L298.60 280.44 L299.10 280.40 L299.60 280.36 L300.10 280.32 L300.60 280.28 L301.10 280.24 L301.60 280.20 L302.10 280.16 L302.60 280.12 L303.10 280.08 L303.60 280.04 L304.10 280.00 L304.60 279.95 L305.10 279.91 L305.60 279.87 L306.10 279.83 L306.60 279.79 L307.10 279.75 L307.60 279.67 L308.10 279.58 L308.60 279.50 L309.10 279.41 L309.60 279.32 L310.10 279.23 L310.60 279.14 L311.10 279.05 L311.60 278.97 L312.10 278.88 L312.60 278.79 L313.10 278.70 L313.60 278.61 L314.10 278.53 L314.60 278.44 L315.10 278.35 L315.60 278.26 L316.10 278.17 L316.60 278.09 L317.10 278.00 L317.60 277.91 L318.10 277.82 L318.60 277.73 L319.10 277.65 L319.60 277.56 L320.10 277.47 L320.60 277.38 L321.10 277.29 L321.60 277.20 L322.10 277.12 L322.60 276.97 L323.10 276.78 L323.60 276.60 L324.10 276.41 L324.60 276.22 L325.10 275.60 L325.60 274.90 L326.10 274.19 L326.10 299.50 Z" fill="#616161"/>
<path d="M231.60 299.50v-12.88h0.30v12.88zM232.32 299.50v-13.11h0.25v13.11zM234.33 299.50v-14.05h0.30v14.05zM234.88 299.50v-14.25h0.40v14.25zM235.77 299.50v-14.52h0.30v14.52zM236.12 299.50v-14.66h0.40v14.66zM242.18 299.50v-16.07h0.30v16.07zM242.67 299.50v-16.11h0.30v16.11zM243.78 299.50v-16.19h0.20v16.19zM246.16 299.50v-16.40h0.25v16.40zM250.13 299.50v-16.73h0.20v16.73zM250.61 299.50v-16.77h0.40v16.77zM251.33 299.50v-16.79h0.25v16.79zM256.81 299.50v-17.08h0.30v17.08zM257.74 299.50v-17.14h0.25v17.14zM259.78 299.50v-17.24h0.40v17.24zM260.87 299.50v-17.29h0.40v17.29zM265.67 299.50v-17.56h0.20v17.56zM268.29 299.50v-17.69h0.30v17.69zM270.29 299.50v-17.80h0.40v17.80zM271.28 299.50v-17.85h0.20v17.85zM272.34 299.50v-17.91h0.20v17.91zM278.11 299.50v-18.24h0.30v18.24zM279.89 299.50v-18.32h0.25v18.32zM280.36 299.50v-18.35h0.40v18.35zM280.66 299.50v-18.38h0.30v18.38zM283.78 299.50v-18.54h0.30v18.54zM292.65 299.50v-19.23h0.40v19.23zM293.79 299.50v-19.31h0.30v19.31zM300.89 299.50v-19.88h0.25v19.88zM301.23 299.50v-19.93h0.30v19.93zM305.76 299.50v-20.29h0.30v20.29zM307.89 299.50v-20.49h0.25v20.49zM309.19 299.50v-20.76h0.40v20.76zM316.21 299.50v-21.99h0.30v21.99zM320.26 299.50v-22.70h0.30v22.70zM322.39 299.50v-23.05h0.30v23.05zM324.14 299.50v-23.76h0.40v23.76zM325.17 299.50v-24.56h0.40v24.56z" fill="#fff" opacity="0.32"/>
<path d="M231.6 287.6 L231.6 284.0 L232.1 283.7 L232.6 283.5 L233.1 283.3 L233.6 283.1 L234.1 282.9 L234.6 282.7 L235.1 282.5 L237.6 281.9 L240.6 281.2 L243.6 281.0 L246.6 280.8 L249.6 280.6 L252.6 280.5 L255.6 280.4 L258.6 280.4 L261.6 280.3 L264.6 280.2 L267.6 280.1 L270.6 280.0 L273.6 280.0 L276.6 279.9 L279.6 279.8 L282.6 279.7 L285.6 279.6 L288.6 279.4 L291.6 279.3 L294.6 279.1 L297.6 278.9 L300.6 278.8 L303.6 278.6 L306.6 278.4 L309.6 278.1 L312.6 277.6 L315.6 277.2 L318.6 276.7 L321.6 276.3 L323.1 275.9 L323.6 275.7 L324.1 275.5 L324.6 275.3 L325.1 274.7 L325.6 274.1 L326.1 273.4 L326.1 274.5 L325.6 275.2 L325.1 275.9 L324.6 276.5 L324.1 276.7 L323.6 276.9 L323.1 277.1 L321.6 277.5 L318.6 278.0 L315.6 278.6 L312.6 279.1 L309.6 279.6 L306.6 280.1 L303.6 280.3 L300.6 280.6 L297.6 280.8 L294.6 281.1 L291.6 281.3 L288.6 281.6 L285.6 281.8 L282.6 282.0 L279.6 282.1 L276.6 282.3 L273.6 282.5 L270.6 282.6 L267.6 282.8 L264.6 283.0 L261.6 283.1 L258.6 283.3 L255.6 283.4 L252.6 283.6 L249.6 283.8 L246.6 284.0 L243.6 284.3 L240.6 284.6 L237.6 285.4 L235.1 286.1 L234.6 286.2 L234.1 286.4 L233.6 286.7 L233.1 286.9 L232.6 287.1 L232.1 287.4 L231.6 287.6Z" fill="#616161" opacity="0.075"/>
<path d="M231.6 287.6 L231.6 284.5 L232.1 284.3 L232.6 284.1 L233.1 283.8 L233.6 283.6 L234.1 283.4 L234.6 283.2 L235.1 283.1 L237.6 282.5 L240.6 281.7 L243.6 281.5 L246.6 281.3 L249.6 281.1 L252.6 281.0 L255.6 280.9 L258.6 280.8 L261.6 280.7 L264.6 280.6 L267.6 280.5 L270.6 280.4 L273.6 280.3 L276.6 280.2 L279.6 280.1 L282.6 280.0 L285.6 279.9 L288.6 279.7 L291.6 279.6 L294.6 279.4 L297.6 279.2 L300.6 279.0 L303.6 278.8 L306.6 278.7 L309.6 278.3 L312.6 277.8 L315.6 277.3 L318.6 276.9 L321.6 276.4 L323.1 276.0 L323.6 275.8 L324.1 275.7 L324.6 275.5 L325.1 274.9 L325.6 274.2 L326.1 273.5 L326.1 274.5 L325.6 275.2 L325.1 275.9 L324.6 276.5 L324.1 276.7 L323.6 276.9 L323.1 277.1 L321.6 277.5 L318.6 278.0 L315.6 278.6 L312.6 279.1 L309.6 279.6 L306.6 280.1 L303.6 280.3 L300.6 280.6 L297.6 280.8 L294.6 281.1 L291.6 281.3 L288.6 281.6 L285.6 281.8 L282.6 282.0 L279.6 282.1 L276.6 282.3 L273.6 282.5 L270.6 282.6 L267.6 282.8 L264.6 283.0 L261.6 283.1 L258.6 283.3 L255.6 283.4 L252.6 283.6 L249.6 283.8 L246.6 284.0 L243.6 284.3 L240.6 284.6 L237.6 285.4 L235.1 286.1 L234.6 286.2 L234.1 286.4 L233.6 286.7 L233.1 286.9 L232.6 287.1 L232.1 287.4 L231.6 287.6Z" fill="#616161" opacity="0.075"/>
<path d="M231.6 287.6 L231.6 285.1 L232.1 284.8 L232.6 284.6 L233.1 284.4 L233.6 284.2 L234.1 283.9 L234.6 283.7 L235.1 283.6 L237.6 283.0 L240.6 282.2 L243.6 282.0 L246.6 281.8 L249.6 281.6 L252.6 281.4 L255.6 281.3 L258.6 281.2 L261.6 281.1 L264.6 281.0 L267.6 280.9 L270.6 280.8 L273.6 280.7 L276.6 280.6 L279.6 280.5 L282.6 280.4 L285.6 280.2 L288.6 280.0 L291.6 279.9 L294.6 279.7 L297.6 279.5 L300.6 279.3 L303.6 279.1 L306.6 278.9 L309.6 278.5 L312.6 278.0 L315.6 277.5 L318.6 277.0 L321.6 276.6 L323.1 276.2 L323.6 276.0 L324.1 275.8 L324.6 275.6 L325.1 275.0 L325.6 274.3 L326.1 273.6 L326.1 274.5 L325.6 275.2 L325.1 275.9 L324.6 276.5 L324.1 276.7 L323.6 276.9 L323.1 277.1 L321.6 277.5 L318.6 278.0 L315.6 278.6 L312.6 279.1 L309.6 279.6 L306.6 280.1 L303.6 280.3 L300.6 280.6 L297.6 280.8 L294.6 281.1 L291.6 281.3 L288.6 281.6 L285.6 281.8 L282.6 282.0 L279.6 282.1 L276.6 282.3 L273.6 282.5 L270.6 282.6 L267.6 282.8 L264.6 283.0 L261.6 283.1 L258.6 283.3 L255.6 283.4 L252.6 283.6 L249.6 283.8 L246.6 284.0 L243.6 284.3 L240.6 284.6 L237.6 285.4 L235.1 286.1 L234.6 286.2 L234.1 286.4 L233.6 286.7 L233.1 286.9 L232.6 287.1 L232.1 287.4 L231.6 287.6Z" fill="#616161" opacity="0.075"/>
<path d="M231.6 287.6 L231.6 285.6 L232.1 285.4 L232.6 285.2 L233.1 284.9 L233.6 284.7 L234.1 284.5 L234.6 284.3 L235.1 284.2 L237.6 283.5 L240.6 282.8 L243.6 282.5 L246.6 282.3 L249.6 282.1 L252.6 281.9 L255.6 281.8 L258.6 281.7 L261.6 281.5 L264.6 281.4 L267.6 281.3 L270.6 281.2 L273.6 281.1 L276.6 280.9 L279.6 280.8 L282.6 280.7 L285.6 280.6 L288.6 280.4 L291.6 280.1 L294.6 279.9 L297.6 279.7 L300.6 279.5 L303.6 279.3 L306.6 279.1 L309.6 278.7 L312.6 278.2 L315.6 277.7 L318.6 277.2 L321.6 276.7 L323.1 276.3 L323.6 276.1 L324.1 276.0 L324.6 275.8 L325.1 275.2 L325.6 274.5 L326.1 273.8 L326.1 274.5 L325.6 275.2 L325.1 275.9 L324.6 276.5 L324.1 276.7 L323.6 276.9 L323.1 277.1 L321.6 277.5 L318.6 278.0 L315.6 278.6 L312.6 279.1 L309.6 279.6 L306.6 280.1 L303.6 280.3 L300.6 280.6 L297.6 280.8 L294.6 281.1 L291.6 281.3 L288.6 281.6 L285.6 281.8 L282.6 282.0 L279.6 282.1 L276.6 282.3 L273.6 282.5 L270.6 282.6 L267.6 282.8 L264.6 283.0 L261.6 283.1 L258.6 283.3 L255.6 283.4 L252.6 283.6 L249.6 283.8 L246.6 284.0 L243.6 284.3 L240.6 284.6 L237.6 285.4 L235.1 286.1 L234.6 286.2 L234.1 286.4 L233.6 286.7 L233.1 286.9 L232.6 287.1 L232.1 287.4 L231.6 287.6Z" fill="#616161" opacity="0.075"/>
<path d="M231.6 287.6 L231.6 286.2 L232.1 285.9 L232.6 285.7 L233.1 285.5 L233.6 285.3 L234.1 285.0 L234.6 284.8 L235.1 284.7 L237.6 284.1 L240.6 283.3 L243.6 283.0 L246.6 282.7 L249.6 282.5 L252.6 282.4 L255.6 282.2 L258.6 282.1 L261.6 282.0 L264.6 281.8 L267.6 281.7 L270.6 281.6 L273.6 281.4 L276.6 281.3 L279.6 281.2 L282.6 281.0 L285.6 280.9 L288.6 280.7 L291.6 280.4 L294.6 280.2 L297.6 280.0 L300.6 279.8 L303.6 279.6 L306.6 279.3 L309.6 278.9 L312.6 278.4 L315.6 277.9 L318.6 277.4 L321.6 276.9 L323.1 276.5 L323.6 276.3 L324.1 276.1 L324.6 275.9 L325.1 275.3 L325.6 274.6 L326.1 273.9 L326.1 274.5 L325.6 275.2 L325.1 275.9 L324.6 276.5 L324.1 276.7 L323.6 276.9 L323.1 277.1 L321.6 277.5 L318.6 278.0 L315.6 278.6 L312.6 279.1 L309.6 279.6 L306.6 280.1 L303.6 280.3 L300.6 280.6 L297.6 280.8 L294.6 281.1 L291.6 281.3 L288.6 281.6 L285.6 281.8 L282.6 282.0 L279.6 282.1 L276.6 282.3 L273.6 282.5 L270.6 282.6 L267.6 282.8 L264.6 283.0 L261.6 283.1 L258.6 283.3 L255.6 283.4 L252.6 283.6 L249.6 283.8 L246.6 284.0 L243.6 284.3 L240.6 284.6 L237.6 285.4 L235.1 286.1 L234.6 286.2 L234.1 286.4 L233.6 286.7 L233.1 286.9 L232.6 287.1 L232.1 287.4 L231.6 287.6Z" fill="#616161" opacity="0.075"/>
<path d="M231.6 287.6 L231.6 286.7 L232.1 286.5 L232.6 286.3 L233.1 286.0 L233.6 285.8 L234.1 285.6 L234.6 285.4 L235.1 285.2 L237.6 284.6 L240.6 283.8 L243.6 283.5 L246.6 283.2 L249.6 283.0 L252.6 282.8 L255.6 282.7 L258.6 282.5 L261.6 282.4 L264.6 282.3 L267.6 282.1 L270.6 282.0 L273.6 281.8 L276.6 281.7 L279.6 281.5 L282.6 281.3 L285.6 281.2 L288.6 281.0 L291.6 280.7 L294.6 280.5 L297.6 280.3 L300.6 280.0 L303.6 279.8 L306.6 279.6 L309.6 279.1 L312.6 278.6 L315.6 278.1 L318.6 277.6 L321.6 277.0 L323.1 276.6 L323.6 276.4 L324.1 276.3 L324.6 276.1 L325.1 275.5 L325.6 274.8 L326.1 274.1 L326.1 274.5 L325.6 275.2 L325.1 275.9 L324.6 276.5 L324.1 276.7 L323.6 276.9 L323.1 277.1 L321.6 277.5 L318.6 278.0 L315.6 278.6 L312.6 279.1 L309.6 279.6 L306.6 280.1 L303.6 280.3 L300.6 280.6 L297.6 280.8 L294.6 281.1 L291.6 281.3 L288.6 281.6 L285.6 281.8 L282.6 282.0 L279.6 282.1 L276.6 282.3 L273.6 282.5 L270.6 282.6 L267.6 282.8 L264.6 283.0 L261.6 283.1 L258.6 283.3 L255.6 283.4 L252.6 283.6 L249.6 283.8 L246.6 284.0 L243.6 284.3 L240.6 284.6 L237.6 285.4 L235.1 286.1 L234.6 286.2 L234.1 286.4 L233.6 286.7 L233.1 286.9 L232.6 287.1 L232.1 287.4 L231.6 287.6Z" fill="#616161" opacity="0.075"/>
<path d="M231.85 287.49v-1.45h0.25v1.45zM232.10 287.26v-1.82h0.25v1.82zM232.60 287.02v-2.01h0.25v2.01zM233.10 286.79v-2.05h0.25v2.05zM233.60 286.55v-1.89h0.25v1.89zM233.85 286.55v-3.18h0.25v3.18zM234.60 286.11v-2.80h0.25v2.80zM234.85 286.11v-2.87h0.25v2.87zM235.10 285.98v-3.10h0.25v3.10zM235.85 285.85v-1.42h0.25v1.42zM236.10 285.71v-3.93h0.25v3.93zM236.85 285.58v-3.28h0.25v3.28zM237.60 285.31v-1.81h0.25v1.81zM237.85 285.31v-2.00h0.25v2.00zM238.35 285.17v-3.19h0.25v3.19zM238.85 285.04v-3.12h0.25v3.12zM239.10 284.91v-1.15h0.25v1.15zM239.35 284.91v-3.41h0.25v3.41zM240.10 284.64v-2.44h0.25v2.44zM240.35 284.64v-1.98h0.25v1.98zM240.85 284.50v-1.77h0.25v1.77zM241.35 284.38v-1.93h0.25v1.93zM241.85 284.34v-1.88h0.25v1.88zM242.60 284.25v-1.95h0.25v1.95zM243.10 284.21v-1.45h0.25v1.45zM243.60 284.17v-3.38h0.25v3.38zM244.35 284.13v-1.72h0.25v1.72zM245.35 284.05v-1.86h0.25v1.86zM245.60 284.01v-2.57h0.25v2.57zM245.85 284.01v-1.18h0.25v1.18zM246.35 283.97v-3.15h0.25v3.15zM247.10 283.88v-3.45h0.25v3.45zM247.60 283.84v-2.57h0.25v2.57zM248.35 283.80v-3.50h0.25v3.50zM249.35 283.72v-1.35h0.25v1.35zM249.60 283.68v-1.74h0.25v1.74zM249.85 283.68v-2.20h0.25v2.20zM250.10 283.64v-1.72h0.25v1.72zM250.35 283.64v-2.49h0.25v2.49zM250.60 283.60v-1.27h0.25v1.27zM250.85 283.60v-1.45h0.25v1.45zM251.10 283.57v-3.16h0.25v3.16zM251.35 283.57v-3.41h0.25v3.41zM251.60 283.55v-3.39h0.25v3.39zM252.10 283.52v-1.39h0.25v1.39zM253.10 283.47v-1.57h0.25v1.57zM253.35 283.47v-1.26h0.25v1.26zM253.60 283.44v-2.85h0.25v2.85zM253.85 283.44v-1.41h0.25v1.41zM254.35 283.41v-1.05h0.25v1.05zM254.60 283.39v-2.38h0.25v2.38zM255.10 283.36v-3.14h0.25v3.14zM255.35 283.36v-1.37h0.25v1.37zM255.60 283.34v-1.47h0.25v1.47zM255.85 283.34v-1.69h0.25v1.69zM256.10 283.31v-1.40h0.25v1.40zM256.60 283.28v-1.41h0.25v1.41zM256.85 283.28v-2.68h0.25v2.68zM257.10 283.26v-1.96h0.25v1.96zM257.60 283.23v-1.30h0.25v1.30zM257.85 283.23v-1.11h0.25v1.11zM258.10 283.20v-1.60h0.25v1.60zM258.35 283.20v-1.16h0.25v1.16zM258.60 283.18v-1.13h0.25v1.13zM258.85 283.18v-3.30h0.25v3.30zM259.35 283.15v-2.31h0.25v2.31zM259.60 283.12v-1.28h0.25v1.28zM259.85 283.12v-2.15h0.25v2.15zM260.60 283.07v-1.02h0.25v1.02zM260.85 283.07v-2.84h0.25v2.84zM261.10 283.04v-1.40h0.25v1.40zM261.35 283.04v-1.51h0.25v1.51zM261.60 283.02v-2.79h0.25v2.79zM262.85 282.97v-0.97h0.25v0.97zM263.10 282.94v-3.04h0.25v3.04zM263.35 282.94v-1.77h0.25v1.77zM263.60 282.91v-1.68h0.25v1.68zM263.85 282.91v-1.01h0.25v1.01zM264.60 282.86v-1.08h0.25v1.08zM265.10 282.83v-1.38h0.25v1.38zM265.60 282.81v-1.24h0.25v1.24zM265.85 282.81v-1.09h0.25v1.09zM266.10 282.78v-2.18h0.25v2.18zM266.60 282.75v-2.64h0.25v2.64zM266.85 282.75v-0.96h0.25v0.96zM267.10 282.73v-0.93h0.25v0.93zM267.60 282.70v-2.02h0.25v2.02zM268.35 282.67v-2.31h0.25v2.31zM268.85 282.65v-2.13h0.25v2.13zM269.10 282.62v-1.54h0.25v1.54zM269.60 282.59v-2.74h0.25v2.74zM269.85 282.59v-2.57h0.25v2.57zM270.10 282.57v-2.28h0.25v2.28zM270.35 282.57v-1.66h0.25v1.66zM270.60 282.54v-1.47h0.25v1.47zM270.85 282.54v-0.89h0.25v0.89zM271.35 282.51v-2.62h0.25v2.62zM271.60 282.48v-2.71h0.25v2.71zM271.85 282.48v-0.89h0.25v0.89zM272.10 282.46v-2.24h0.25v2.24zM272.35 282.46v-2.33h0.25v2.33zM273.35 282.40v-1.78h0.25v1.78zM273.85 282.37v-1.50h0.25v1.50zM274.10 282.35v-2.64h0.25v2.64zM274.35 282.35v-2.28h0.25v2.28zM274.60 282.32v-2.45h0.25v2.45zM275.60 282.26v-2.79h0.25v2.79zM275.85 282.26v-1.03h0.25v1.03zM276.10 282.24v-1.86h0.25v1.86zM276.60 282.21v-2.66h0.25v2.66zM276.85 282.21v-1.21h0.25v1.21zM277.10 282.18v-2.48h0.25v2.48zM277.35 282.18v-2.65h0.25v2.65zM277.60 282.15v-1.08h0.25v1.08zM277.85 282.15v-0.93h0.25v0.93zM278.10 282.13v-2.17h0.25v2.17zM278.60 282.10v-2.03h0.25v2.03zM278.85 282.10v-1.65h0.25v1.65zM279.10 282.07v-0.93h0.25v0.93zM279.35 282.07v-1.04h0.25v1.04zM280.35 282.01v-2.57h0.25v2.57zM280.85 281.99v-1.63h0.25v1.63zM281.10 281.96v-1.84h0.25v1.84zM281.35 281.96v-1.86h0.25v1.86zM281.60 281.93v-2.03h0.25v2.03zM282.85 281.88v-1.69h0.25v1.69zM283.10 281.85v-1.66h0.25v1.66zM283.35 281.85v-0.93h0.25v0.93zM283.85 281.82v-1.92h0.25v1.92zM285.10 281.74v-0.87h0.25v0.87zM285.35 281.74v-1.98h0.25v1.98zM285.60 281.71v-0.85h0.25v0.85zM286.10 281.67v-1.74h0.25v1.74zM286.35 281.67v-1.29h0.25v1.29zM286.60 281.63v-0.96h0.25v0.96zM286.85 281.63v-1.16h0.25v1.16zM287.35 281.58v-0.84h0.25v0.84zM287.60 281.54v-0.81h0.25v0.81zM288.10 281.50v-1.19h0.25v1.19zM288.35 281.50v-1.12h0.25v1.12zM288.60 281.46v-0.76h0.25v0.76zM289.10 281.42v-0.84h0.25v0.84zM289.35 281.42v-1.02h0.25v1.02zM289.60 281.38v-1.26h0.25v1.26zM290.10 281.34v-1.87h0.25v1.87zM290.35 281.34v-2.04h0.25v2.04zM290.85 281.30v-1.46h0.25v1.46zM292.10 281.18v-1.30h0.25v1.30zM292.35 281.18v-1.86h0.25v1.86zM292.60 281.13v-1.93h0.25v1.93zM292.85 281.13v-2.10h0.25v2.10zM293.10 281.09v-1.39h0.25v1.39zM293.60 281.05v-0.92h0.25v0.92zM294.60 280.97v-1.26h0.25v1.26zM295.10 280.93v-1.68h0.25v1.68zM295.35 280.93v-0.99h0.25v0.99zM295.60 280.89v-1.93h0.25v1.93zM296.10 280.85v-1.19h0.25v1.19zM296.35 280.85v-1.94h0.25v1.94zM297.10 280.77v-1.25h0.25v1.25zM297.60 280.73v-1.73h0.25v1.73zM298.10 280.69v-1.79h0.25v1.79zM298.35 280.69v-1.74h0.25v1.74zM298.60 280.64v-1.03h0.25v1.03zM298.85 280.64v-0.86h0.25v0.86zM299.10 280.60v-0.98h0.25v0.98zM299.35 280.60v-1.25h0.25v1.25zM299.60 280.56v-0.74h0.25v0.74zM299.85 280.56v-0.69h0.25v0.69zM300.10 280.52v-1.18h0.25v1.18zM300.35 280.52v-1.94h0.25v1.94zM300.60 280.48v-1.49h0.25v1.49zM301.10 280.44v-1.55h0.25v1.55zM302.10 280.36v-1.88h0.25v1.88zM302.35 280.36v-1.09h0.25v1.09zM303.35 280.28v-0.90h0.25v0.90zM303.60 280.24v-1.69h0.25v1.69zM303.85 280.24v-0.67h0.25v0.67zM304.10 280.20v-0.98h0.25v0.98zM304.35 280.20v-1.40h0.25v1.40zM304.60 280.15v-0.89h0.25v0.89zM305.10 280.11v-0.76h0.25v0.76zM305.35 280.11v-0.65h0.25v0.65zM305.60 280.07v-1.51h0.25v1.51zM306.35 280.03v-0.75h0.25v0.75zM306.60 279.99v-0.90h0.25v0.90zM306.85 279.99v-1.55h0.25v1.55zM307.10 279.95v-0.82h0.25v0.82zM307.35 279.95v-1.06h0.25v1.06zM308.10 279.78v-0.74h0.25v0.74zM308.35 279.78v-1.04h0.25v1.04zM308.60 279.70v-1.27h0.25v1.27zM308.85 279.70v-0.74h0.25v0.74zM309.10 279.61v-1.44h0.25v1.44zM309.35 279.61v-0.90h0.25v0.90zM309.60 279.52v-1.70h0.25v1.70zM309.85 279.52v-1.54h0.25v1.54zM310.10 279.43v-0.93h0.25v0.93zM310.35 279.43v-1.67h0.25v1.67zM310.60 279.34v-1.67h0.25v1.67zM310.85 279.34v-1.38h0.25v1.38zM311.10 279.25v-0.71h0.25v0.71zM311.35 279.25v-0.89h0.25v0.89zM312.60 278.99v-1.25h0.25v1.25zM312.85 278.99v-0.69h0.25v0.69zM313.35 278.90v-1.02h0.25v1.02zM313.60 278.81v-1.48h0.25v1.48zM313.85 278.81v-1.33h0.25v1.33zM314.10 278.73v-1.53h0.25v1.53zM314.35 278.73v-0.88h0.25v0.88zM315.10 278.55v-1.08h0.25v1.08zM315.60 278.46v-1.42h0.25v1.42zM315.85 278.46v-0.58h0.25v0.58zM316.35 278.37v-0.53h0.25v0.53zM316.60 278.29v-0.87h0.25v0.87zM316.85 278.29v-0.79h0.25v0.79zM317.85 278.11v-0.86h0.25v0.86zM318.35 278.02v-1.31h0.25v1.31zM319.35 277.85v-0.73h0.25v0.73zM320.10 277.67v-0.66h0.25v0.66zM320.35 277.67v-0.96h0.25v0.96zM320.60 277.58v-0.59h0.25v0.59zM321.35 277.49v-1.09h0.25v1.09zM321.60 277.40v-0.71h0.25v0.71zM321.85 277.40v-0.86h0.25v0.86zM322.85 277.17v-0.51h0.25v0.51zM323.35 276.98v-1.16h0.25v1.16zM324.85 276.42v-0.81h0.25v0.81zM325.35 275.80v-0.92h0.25v0.92zM325.85 275.10v-1.01h0.25v1.01z" fill="#616161" opacity="0.26"/>
<line x1="173.2" y1="272.0" x2="173.2" y2="300.5" stroke="#3a3a3a" stroke-width="0.6"/>
<g stroke="#333" stroke-width="0.35">
<line x1="172.0" y1="299.50" x2="173.2" y2="299.50"/>
<line x1="172.0" y1="292.84" x2="173.2" y2="292.84"/>
<line x1="172.0" y1="286.18" x2="173.2" y2="286.18"/>
<line x1="172.0" y1="279.52" x2="173.2" y2="279.52"/>
<line x1="172.0" y1="272.86" x2="173.2" y2="272.86"/>
</g>
<text class="tk" x="166.1" y="301.25" style="font-size:5.3px">0</text>
<text class="tk" x="166.1" y="294.59" style="font-size:5.3px">3</text>
<text class="tk" x="166.1" y="287.93" style="font-size:5.3px">6</text>
<text class="tk" x="166.1" y="281.27" style="font-size:5.3px">9</text>
<text class="tk" x="166.1" y="274.61" style="font-size:5.3px">12</text>
<rect x="333.1" y="272.7" width="6.2" height="28.1" fill="#52c3ef"/>
<text class="st" transform="translate(334.85,288.1) rotate(90)" text-anchor="middle">MCM7</text>
<rect x="173.2" y="302.8" width="158.40000000000003" height="28.5" fill="#fff"/>
<g stroke="#f8f8f8" stroke-width="0.3">
<line x1="173.2" y1="327.00" x2="331.6" y2="327.00"/>
<line x1="173.2" y1="320.34" x2="331.6" y2="320.34"/>
<line x1="173.2" y1="313.68" x2="331.6" y2="313.68"/>
<line x1="173.2" y1="307.02" x2="331.6" y2="307.02"/>
<line x1="201.15" y1="302.8" x2="201.15" y2="331.3"/>
<line x1="241.05" y1="302.8" x2="241.05" y2="331.3"/>
<line x1="280.95" y1="302.8" x2="280.95" y2="331.3"/>
<line x1="320.85" y1="302.8" x2="320.85" y2="331.3"/>
</g>
<g stroke="#f0f0f0" stroke-width="0.45">
<line x1="173.2" y1="330.33" x2="331.6" y2="330.33"/>
<line x1="173.2" y1="323.67" x2="331.6" y2="323.67"/>
<line x1="173.2" y1="317.01" x2="331.6" y2="317.01"/>
<line x1="173.2" y1="310.35" x2="331.6" y2="310.35"/>
<line x1="173.2" y1="303.69" x2="331.6" y2="303.69"/>
<line x1="181.20" y1="302.8" x2="181.20" y2="331.3"/>
<line x1="221.10" y1="302.8" x2="221.10" y2="331.3"/>
<line x1="261.00" y1="302.8" x2="261.00" y2="331.3"/>
<line x1="300.90" y1="302.8" x2="300.90" y2="331.3"/>
</g>
<path d="M232.80 330.33 L232.80 320.78 L233.30 320.19 L233.80 319.59 L234.30 318.99 L234.81 318.51 L235.31 318.31 L235.81 318.11 L236.31 317.91 L236.81 317.71 L237.31 317.51 L237.82 317.37 L238.32 317.25 L238.82 317.13 L239.32 317.01 L239.82 316.89 L240.32 316.77 L240.83 316.65 L241.33 316.53 L241.83 316.42 L242.33 316.32 L242.83 316.26 L243.33 316.19 L243.84 316.13 L244.34 316.07 L244.84 316.00 L245.34 315.94 L245.84 315.88 L246.34 315.82 L246.85 315.75 L247.35 315.69 L247.85 315.63 L248.35 315.57 L248.85 315.50 L249.35 315.44 L249.85 315.38 L250.36 315.31 L250.86 315.25 L251.36 315.19 L251.86 315.13 L252.36 315.06 L252.86 315.00 L253.37 314.94 L253.87 314.87 L254.37 314.81 L254.87 314.75 L255.37 314.69 L255.87 314.62 L256.38 314.56 L256.88 314.50 L257.38 314.43 L257.88 314.37 L258.38 314.31 L258.88 314.25 L259.39 314.18 L259.89 314.12 L260.39 314.08 L260.89 314.04 L261.39 314.00 L261.89 313.97 L262.40 313.93 L262.90 313.89 L263.40 313.85 L263.90 313.81 L264.40 313.77 L264.90 313.73 L265.40 313.69 L265.91 313.65 L266.41 313.61 L266.91 313.58 L267.41 313.54 L267.91 313.50 L268.41 313.46 L268.92 313.42 L269.42 313.38 L269.92 313.34 L270.42 313.30 L270.92 313.26 L271.42 313.22 L271.93 313.19 L272.43 313.15 L272.93 313.11 L273.43 313.07 L273.93 313.03 L274.43 312.99 L274.94 312.95 L275.44 312.91 L275.94 312.87 L276.44 312.83 L276.94 312.79 L277.44 312.76 L277.95 312.72 L278.45 312.68 L278.95 312.64 L279.45 312.60 L279.95 312.56 L280.45 312.52 L280.95 312.48 L281.46 312.44 L281.96 312.40 L282.46 312.37 L282.96 312.33 L283.46 312.29 L283.96 312.25 L284.47 312.21 L284.97 312.16 L285.47 312.11 L285.97 312.07 L286.47 312.02 L286.97 311.98 L287.48 311.93 L287.98 311.89 L288.48 311.84 L288.98 311.80 L289.48 311.75 L289.98 311.71 L290.49 311.66 L290.99 311.62 L291.49 311.57 L291.99 311.52 L292.49 311.48 L292.99 311.43 L293.50 311.39 L294.00 311.34 L294.50 311.30 L295.00 311.25 L295.50 311.21 L296.00 311.16 L296.50 311.12 L297.01 311.07 L297.51 311.03 L298.01 310.98 L298.51 310.94 L299.01 310.89 L299.51 310.84 L300.02 310.80 L300.52 310.75 L301.02 310.71 L301.52 310.66 L302.02 310.62 L302.52 310.57 L303.03 310.53 L303.53 310.48 L304.03 310.44 L304.53 310.39 L305.03 310.35 L305.53 310.30 L306.04 310.25 L306.54 310.21 L307.04 310.16 L307.54 310.11 L308.04 310.00 L308.54 309.90 L309.05 309.79 L309.55 309.69 L310.05 309.58 L310.55 309.48 L311.05 309.38 L311.55 309.27 L312.05 309.17 L312.56 309.06 L313.06 308.96 L313.56 308.85 L314.06 308.75 L314.56 308.65 L315.06 308.54 L315.57 308.44 L316.07 308.33 L316.57 308.23 L317.07 308.12 L317.57 308.02 L318.07 307.91 L318.58 307.81 L319.08 307.71 L319.58 307.60 L320.08 307.50 L320.58 307.39 L321.08 307.29 L321.59 307.18 L322.09 307.08 L322.59 306.96 L323.09 306.81 L323.59 306.67 L324.09 306.53 L324.60 306.38 L325.10 305.98 L325.60 305.50 L326.10 305.02 L326.10 330.33 Z" fill="#5e5e5e"/>
<line x1="173.2" y1="302.8" x2="173.2" y2="331.3" stroke="#3a3a3a" stroke-width="0.6"/>
<g stroke="#333" stroke-width="0.35">
<line x1="172.0" y1="330.33" x2="173.2" y2="330.33"/>
<line x1="172.0" y1="323.67" x2="173.2" y2="323.67"/>
<line x1="172.0" y1="317.01" x2="173.2" y2="317.01"/>
<line x1="172.0" y1="310.35" x2="173.2" y2="310.35"/>
<line x1="172.0" y1="303.69" x2="173.2" y2="303.69"/>
</g>
<text class="tk" x="166.1" y="332.08" style="font-size:5.3px">0</text>
<text class="tk" x="166.1" y="325.42" style="font-size:5.3px">3</text>
<text class="tk" x="166.1" y="318.76" style="font-size:5.3px">6</text>
<text class="tk" x="166.1" y="312.10" style="font-size:5.3px">9</text>
<text class="tk" x="166.1" y="305.44" style="font-size:5.3px">12</text>
<rect x="333.1" y="303.5" width="6.2" height="28.1" fill="#52c3ef"/>
<text class="st" transform="translate(334.85,318.9) rotate(90)" text-anchor="middle">MCM6</text>
<line x1="173.2" y1="331.4" x2="331.6" y2="331.4" stroke="#3a3a3a" stroke-width="0.6"/>
<line x1="181.20" y1="331.4" x2="181.20" y2="332.7" stroke="#333" stroke-width="0.35"/>
<text class="tk" x="181.20" y="337.3" text-anchor="middle" style="font-size:5.2px">0</text>
<line x1="221.10" y1="331.4" x2="221.10" y2="332.7" stroke="#333" stroke-width="0.35"/>
<text class="tk" x="221.10" y="337.3" text-anchor="middle" style="font-size:5.2px">2000</text>
<line x1="261.00" y1="331.4" x2="261.00" y2="332.7" stroke="#333" stroke-width="0.35"/>
<text class="tk" x="261.00" y="337.3" text-anchor="middle" style="font-size:5.2px">4000</text>
<line x1="300.90" y1="331.4" x2="300.90" y2="332.7" stroke="#333" stroke-width="0.35"/>
<text class="tk" x="300.90" y="337.3" text-anchor="middle" style="font-size:5.2px">6000</text>
<text class="tt" x="266.5" y="346.9" text-anchor="middle" style="font-size:6.8px">Samples (n = 7330)</text>
<text class="ax" transform="translate(158.6,214.2) rotate(-90)" text-anchor="middle">Log10 (Intensity)</text>
</g>
<g id="panelD">
<text class="pl" x="3.6" y="359.5">D</text>
<rect x="13.9" y="370.9" width="119.2" height="18" rx="8.8" ry="8.8" fill="#fff" stroke="#2c7a89" stroke-width="1.3"/>
<text x="73.6" y="382.4" text-anchor="middle" style="font-size:7.35px">Predicted Protein Complex No. 720</text>
<line x1="50" y1="407.2" x2="90" y2="407.2" stroke="#989898" stroke-width="3.2"/>
<rect x="24" y="399.2" width="34.2" height="15.8" rx="1.6" fill="#c997d7"/>
<rect x="80.6" y="399.2" width="34.2" height="15.8" rx="1.6" fill="#c997d7"/>
<text x="36.3" y="409.4" text-anchor="middle" style="font-size:6.6px;fill:#111">IPO7</text>
<text x="96.9" y="409.4" text-anchor="middle" style="font-size:6.6px;fill:#111">KPNB1</text>
<text class="tt" x="74.8" y="427.9" text-anchor="middle" style="font-size:6.8px">Hein et al AP-MS</text>
<rect x="28.8" y="433.3" width="92.9" height="90.30000000000001" fill="#fff"/>
<g stroke="#eeeeee" stroke-width="0.5">
<line x1="36.2" y1="433.3" x2="36.2" y2="523.6"/>
<line x1="56.5" y1="433.3" x2="56.5" y2="523.6"/>
<line x1="76.9" y1="433.3" x2="76.9" y2="523.6"/>
<line x1="97.2" y1="433.3" x2="97.2" y2="523.6"/>
<line x1="28.8" y1="457.9" x2="121.7" y2="457.9"/>
<line x1="28.8" y1="473.8" x2="121.7" y2="473.8"/>
<line x1="28.8" y1="489.7" x2="121.7" y2="489.7"/>
<line x1="28.8" y1="505.6" x2="121.7" y2="505.6"/>
<line x1="28.8" y1="521.5" x2="121.7" y2="521.5"/>
</g>
<g fill="#bdbdbd">
<circle cx="89.5" cy="435.8" r="0.55"/>
<circle cx="94.2" cy="435.2" r="0.55"/>
<circle cx="102.9" cy="436.4" r="0.55"/>
<circle cx="54.1" cy="450.9" r="0.55"/>
<circle cx="59.3" cy="448.0" r="0.55"/>
<circle cx="62.8" cy="451.8" r="0.55"/>
<circle cx="68.6" cy="450.3" r="0.55"/>
<circle cx="73.0" cy="449.8" r="0.55"/>
<circle cx="77.3" cy="453.8" r="0.55"/>
<circle cx="50.6" cy="456.7" r="0.55"/>
<circle cx="55.5" cy="459.1" r="0.55"/>
<circle cx="61.3" cy="457.6" r="0.55"/>
<circle cx="67.2" cy="456.7" r="0.55"/>
<circle cx="71.5" cy="457.6" r="0.55"/>
<circle cx="83.1" cy="455.6" r="0.55"/>
<circle cx="87.5" cy="456.7" r="0.55"/>
<circle cx="90.4" cy="457.6" r="0.55"/>
<circle cx="93.3" cy="459.1" r="0.55"/>
<circle cx="96.2" cy="456.7" r="0.55"/>
<circle cx="97.7" cy="460.5" r="0.55"/>
<circle cx="94.8" cy="462.0" r="0.55"/>
<circle cx="91.3" cy="461.4" r="0.55"/>
<circle cx="99.1" cy="462.6" r="0.55"/>
<circle cx="102.0" cy="459.1" r="0.55"/>
<circle cx="104.9" cy="461.4" r="0.55"/>
<circle cx="54.1" cy="463.4" r="0.55"/>
<circle cx="57.0" cy="466.3" r="0.55"/>
<circle cx="64.2" cy="464.9" r="0.55"/>
<circle cx="65.7" cy="467.2" r="0.55"/>
<circle cx="84.6" cy="466.3" r="0.55"/>
<circle cx="87.5" cy="464.3" r="0.55"/>
<circle cx="91.9" cy="465.5" r="0.55"/>
<circle cx="96.2" cy="467.2" r="0.55"/>
<circle cx="101.2" cy="467.8" r="0.55"/>
<circle cx="106.4" cy="466.3" r="0.55"/>
<circle cx="33.7" cy="470.7" r="0.55"/>
<circle cx="37.2" cy="473.6" r="0.55"/>
<circle cx="39.0" cy="475.1" r="0.55"/>
<circle cx="43.0" cy="473.0" r="0.55"/>
<circle cx="54.1" cy="470.7" r="0.55"/>
<circle cx="61.3" cy="470.7" r="0.55"/>
<circle cx="73.0" cy="473.6" r="0.55"/>
<circle cx="83.1" cy="470.7" r="0.55"/>
<circle cx="89.0" cy="472.2" r="0.55"/>
<circle cx="103.5" cy="469.2" r="0.55"/>
<circle cx="45.9" cy="485.2" r="0.55"/>
<circle cx="47.7" cy="484.7" r="0.55"/>
<circle cx="71.5" cy="484.7" r="0.55"/>
<circle cx="73.0" cy="486.7" r="0.55"/>
<circle cx="76.7" cy="489.6" r="0.55"/>
<circle cx="35.2" cy="488.1" r="0.55"/>
<circle cx="41.9" cy="491.0" r="0.55"/>
<circle cx="55.5" cy="476.5" r="0.55"/>
<circle cx="68.6" cy="469.2" r="0.55"/>
<circle cx="80.2" cy="462.0" r="0.55"/>
<circle cx="49.7" cy="467.8" r="0.55"/>
<circle cx="59.9" cy="461.4" r="0.55"/>
</g>
<line x1="28.8" y1="442.0" x2="122.2" y2="442.0" stroke="#757575" stroke-width="1.1"/>
<line x1="117.6" y1="433.3" x2="117.6" y2="523.6" stroke="#757575" stroke-width="1.1"/>
<path d="M28.8 433.3 L28.8 523.6 L123.0 523.6" fill="none" stroke="#444" stroke-width="0.8"/>
<g stroke="#444" stroke-width="0.4">
<line x1="36.2" y1="523.6" x2="36.2" y2="525.1"/>
<line x1="56.5" y1="523.6" x2="56.5" y2="525.1"/>
<line x1="76.9" y1="523.6" x2="76.9" y2="525.1"/>
<line x1="97.2" y1="523.6" x2="97.2" y2="525.1"/>
<line x1="117.6" y1="523.6" x2="117.6" y2="525.1"/>
<line x1="27.3" y1="442.0" x2="28.8" y2="442.0"/>
<line x1="27.3" y1="457.9" x2="28.8" y2="457.9"/>
<line x1="27.3" y1="473.8" x2="28.8" y2="473.8"/>
<line x1="27.3" y1="489.7" x2="28.8" y2="489.7"/>
<line x1="27.3" y1="505.6" x2="28.8" y2="505.6"/>
<line x1="27.3" y1="521.5" x2="28.8" y2="521.5"/>
</g>
<text class="tk" x="36.2" y="529.0" text-anchor="middle" style="font-size:4.8px">−4</text>
<text class="tk" x="56.5" y="529.0" text-anchor="middle" style="font-size:4.8px">−3</text>
<text class="tk" x="76.9" y="529.0" text-anchor="middle" style="font-size:4.8px">−2</text>
<text class="tk" x="97.2" y="529.0" text-anchor="middle" style="font-size:4.8px">−1</text>
<text class="tk" x="117.6" y="529.0" text-anchor="middle" style="font-size:4.8px">0</text>
<text class="tk" x="25.2" y="443.6" text-anchor="end" style="font-size:4.8px">0</text>
<text class="tk" x="25.2" y="459.5" text-anchor="end" style="font-size:4.8px">−1</text>
<text class="tk" x="25.2" y="475.4" text-anchor="end" style="font-size:4.8px">−2</text>
<text class="tk" x="25.2" y="491.3" text-anchor="end" style="font-size:4.8px">−3</text>
<text class="tk" x="25.2" y="507.2" text-anchor="end" style="font-size:4.8px">−4</text>
<text class="tk" x="25.2" y="523.1" text-anchor="end" style="font-size:4.8px">−5</text>
<text class="ax" x="72.1" y="538.2" text-anchor="middle">Interaction</text>
<text class="ax" x="72" y="544.5" text-anchor="middle">(log10 prey bait ratio)</text>
<text class="ax" transform="translate(10.1,476.6) rotate(-90)" text-anchor="middle">Abundance</text>
<text class="ax" transform="translate(17.0,476.6) rotate(-90)" text-anchor="middle">(log10 prey bait expression ratio)</text>
<circle cx="112.3" cy="445.2" r="1.8" fill="#9a1fb0"/>
<text x="99.6" y="451.3" text-anchor="middle" style="font-size:3.9px;fill:#a63cc4;stroke:#a63cc4;stroke-width:0.08px">KPNB1_IPO7</text>
<rect x="63.4" y="507.2" width="52.2" height="12.2" fill="#fff" stroke="#2a2a2a" stroke-width="0.7"/>
<circle cx="66.4" cy="514.2" r="0.8" fill="#bb66dd"/>
<text x="74.4" y="515.9" style="font-size:5.15px">Novel interaction</text>
</g>
<g id="panelE">
<text class="pl" x="157.7" y="359.5">E</text>
<text class="tt" x="256.6" y="380.6" text-anchor="middle">Protein abundances of complex No. 720</text>
<rect x="173.2" y="386.7" width="158.40000000000003" height="29.3" fill="#fff"/>
<g stroke="#f8f8f8" stroke-width="0.3">
<line x1="173.2" y1="411.68" x2="331.6" y2="411.68"/>
<line x1="173.2" y1="406.02" x2="331.6" y2="406.02"/>
<line x1="173.2" y1="400.38" x2="331.6" y2="400.38"/>
<line x1="173.2" y1="394.73" x2="331.6" y2="394.73"/>
<line x1="173.2" y1="389.07" x2="331.6" y2="389.07"/>
<line x1="201.15" y1="386.7" x2="201.15" y2="416.0"/>
<line x1="241.05" y1="386.7" x2="241.05" y2="416.0"/>
<line x1="280.95" y1="386.7" x2="280.95" y2="416.0"/>
<line x1="320.85" y1="386.7" x2="320.85" y2="416.0"/>
</g>
<g stroke="#f0f0f0" stroke-width="0.45">
<line x1="173.2" y1="414.50" x2="331.6" y2="414.50"/>
<line x1="173.2" y1="408.85" x2="331.6" y2="408.85"/>
<line x1="173.2" y1="403.20" x2="331.6" y2="403.20"/>
<line x1="173.2" y1="397.55" x2="331.6" y2="397.55"/>
<line x1="173.2" y1="391.90" x2="331.6" y2="391.90"/>
<line x1="181.20" y1="386.7" x2="181.20" y2="416.0"/>
<line x1="221.10" y1="386.7" x2="221.10" y2="416.0"/>
<line x1="261.00" y1="386.7" x2="261.00" y2="416.0"/>
<line x1="300.90" y1="386.7" x2="300.90" y2="416.0"/>
</g>
<g fill="#595959">
<rect x="181.40" y="402.30" width="2.00" height="12.20" opacity="0.90"/>
<rect x="187.00" y="396.42" width="0.90" height="18.08" opacity="0.35"/>
<rect x="189.60" y="397.55" width="0.60" height="16.95" opacity="0.30"/>
<rect x="191.20" y="399.81" width="0.50" height="14.69" opacity="0.30"/>
<rect x="192.90" y="397.55" width="3.00" height="16.95" opacity="0.85"/>
<rect x="196.80" y="396.42" width="0.60" height="18.08" opacity="0.30"/>
<rect x="198.20" y="396.42" width="0.70" height="18.08" opacity="0.35"/>
<rect x="200.80" y="394.16" width="1.30" height="20.34" opacity="0.60"/>
<rect x="203.30" y="396.42" width="1.20" height="18.08" opacity="0.55"/>
<rect x="205.20" y="398.68" width="0.50" height="15.82" opacity="0.30"/>
<rect x="206.50" y="394.84" width="1.10" height="19.66" opacity="0.90"/>
</g>
<path d="M208.00 414.50 L208.00 405.46 L208.50 405.29 L209.00 405.13 L209.50 404.96 L210.00 404.80 L210.50 404.63 L211.01 404.46 L211.51 404.30 L212.01 404.13 L212.51 403.96 L213.01 403.82 L213.51 403.68 L214.01 403.55 L214.51 403.42 L215.01 403.29 L215.51 403.16 L216.01 403.03 L216.51 402.90 L217.02 402.77 L217.52 402.64 L218.02 402.51 L218.52 402.38 L219.02 402.25 L219.52 402.12 L220.02 401.99 L220.52 401.86 L221.02 401.73 L221.52 401.60 L222.02 401.47 L222.52 401.37 L223.03 401.31 L223.53 401.25 L224.03 401.19 L224.53 401.13 L225.03 401.08 L225.53 401.02 L226.03 400.96 L226.53 400.90 L227.03 400.84 L227.53 400.79 L228.03 400.73 L228.53 400.67 L229.04 400.61 L229.54 400.55 L230.04 400.50 L230.54 400.44 L231.04 400.38 L231.54 400.32 L232.04 400.26 L232.54 400.21 L233.04 400.15 L233.54 400.09 L234.04 400.03 L234.54 399.97 L235.05 399.92 L235.55 399.86 L236.05 399.80 L236.55 399.74 L237.05 399.68 L237.55 399.63 L238.05 399.57 L238.55 399.51 L239.05 399.45 L239.55 399.39 L240.05 399.34 L240.55 399.28 L241.06 399.22 L241.56 399.16 L242.06 399.10 L242.56 399.05 L243.06 398.99 L243.56 398.93 L244.06 398.88 L244.56 398.83 L245.06 398.79 L245.56 398.75 L246.06 398.70 L246.56 398.66 L247.07 398.61 L247.57 398.57 L248.07 398.52 L248.57 398.48 L249.07 398.43 L249.57 398.39 L250.07 398.34 L250.57 398.30 L251.07 398.25 L251.57 398.21 L252.07 398.16 L252.57 398.12 L253.08 398.07 L253.58 398.03 L254.08 397.99 L254.58 397.94 L255.08 397.90 L255.58 397.85 L256.08 397.81 L256.58 397.76 L257.08 397.72 L257.58 397.67 L258.08 397.63 L258.58 397.58 L259.09 397.54 L259.59 397.49 L260.09 397.45 L260.59 397.40 L261.09 397.36 L261.59 397.32 L262.09 397.27 L262.59 397.23 L263.09 397.18 L263.59 397.14 L264.09 397.09 L264.59 397.05 L265.10 397.00 L265.60 396.96 L266.10 396.91 L266.60 396.87 L267.10 396.82 L267.60 396.78 L268.10 396.73 L268.60 396.69 L269.10 396.64 L269.60 396.60 L270.10 396.56 L270.61 396.51 L271.11 396.47 L271.61 396.42 L272.11 396.38 L272.61 396.33 L273.11 396.29 L273.61 396.24 L274.11 396.20 L274.61 396.15 L275.11 396.11 L275.61 396.06 L276.11 396.02 L276.62 395.97 L277.12 395.93 L277.62 395.89 L278.12 395.84 L278.62 395.80 L279.12 395.75 L279.62 395.71 L280.12 395.66 L280.62 395.62 L281.12 395.57 L281.62 395.53 L282.12 395.48 L282.63 395.44 L283.13 395.39 L283.63 395.35 L284.13 395.30 L284.63 395.26 L285.13 395.22 L285.63 395.17 L286.13 395.13 L286.63 395.08 L287.13 395.04 L287.63 395.00 L288.13 394.95 L288.64 394.91 L289.14 394.87 L289.64 394.82 L290.14 394.78 L290.64 394.73 L291.14 394.69 L291.64 394.65 L292.14 394.60 L292.64 394.56 L293.14 394.52 L293.64 394.47 L294.14 394.43 L294.65 394.38 L295.15 394.34 L295.65 394.30 L296.15 394.25 L296.65 394.21 L297.15 394.16 L297.65 394.12 L298.15 394.08 L298.65 394.03 L299.15 393.99 L299.65 393.95 L300.15 393.90 L300.66 393.86 L301.16 393.81 L301.66 393.77 L302.16 393.73 L302.66 393.68 L303.16 393.64 L303.66 393.59 L304.16 393.55 L304.66 393.51 L305.16 393.46 L305.66 393.42 L306.16 393.38 L306.67 393.33 L307.17 393.29 L307.67 393.24 L308.17 393.20 L308.67 393.16 L309.17 393.11 L309.67 393.07 L310.17 393.03 L310.67 392.98 L311.17 392.94 L311.67 392.89 L312.17 392.85 L312.68 392.81 L313.18 392.76 L313.68 392.72 L314.18 392.67 L314.68 392.63 L315.18 392.59 L315.68 392.52 L316.18 392.45 L316.68 392.38 L317.18 392.31 L317.68 392.24 L318.18 392.16 L318.69 392.09 L319.19 392.02 L319.69 391.95 L320.19 391.88 L320.69 391.81 L321.19 391.74 L321.69 391.67 L322.19 391.60 L322.69 391.52 L323.19 391.45 L323.69 391.38 L324.19 391.31 L324.70 391.24 L325.20 390.97 L325.70 390.64 L326.20 390.30 L326.70 389.97 L327.20 389.64 L327.20 414.50 Z" fill="#5e5e5e"/>
<path d="M208.06 414.50v-9.72h0.25v9.72zM208.77 414.50v-9.88h0.40v9.88zM209.22 414.50v-10.05h0.20v10.05zM209.79 414.50v-10.22h0.40v10.22zM210.04 414.50v-10.38h0.20v10.38zM211.24 414.50v-10.72h0.40v10.72zM212.22 414.50v-11.05h0.25v11.05zM212.78 414.50v-11.21h0.30v11.21zM213.07 414.50v-11.36h0.20v11.36zM214.26 414.50v-11.62h0.40v11.62zM214.64 414.50v-11.75h0.25v11.75zM215.05 414.50v-11.88h0.20v11.88zM216.28 414.50v-12.15h0.20v12.15zM216.66 414.50v-12.28h0.20v12.28zM217.14 414.50v-12.41h0.25v12.41zM217.73 414.50v-12.54h0.20v12.54zM218.03 414.50v-12.67h0.20v12.67zM218.74 414.50v-12.80h0.25v12.80zM219.05 414.50v-12.93h0.20v12.93zM220.24 414.50v-13.19h0.20v13.19zM220.78 414.50v-13.32h0.20v13.32zM221.16 414.50v-13.45h0.30v13.45zM222.02 414.50v-13.71h0.30v13.71zM222.66 414.50v-13.81h0.25v13.81zM223.56 414.50v-13.93h0.30v13.93zM224.68 414.50v-14.04h0.40v14.04zM225.66 414.50v-14.16h0.20v14.16zM226.18 414.50v-14.22h0.40v14.22zM227.58 414.50v-14.39h0.30v14.39zM228.82 414.50v-14.51h0.20v14.51zM230.22 414.50v-14.68h0.20v14.68zM230.67 414.50v-14.74h0.20v14.74zM232.13 414.50v-14.91h0.30v14.91zM235.18 414.50v-15.26h0.40v15.26zM237.78 414.50v-15.55h0.30v15.55zM239.14 414.50v-15.73h0.20v15.73zM239.60 414.50v-15.78h0.20v15.78zM241.19 414.50v-15.96h0.40v15.96zM242.74 414.50v-16.13h0.40v16.13zM243.73 414.50v-16.25h0.20v16.25zM248.78 414.50v-16.70h0.25v16.70zM249.20 414.50v-16.75h0.40v16.75zM250.68 414.50v-16.88h0.20v16.88zM254.26 414.50v-17.19h0.20v17.19zM255.59 414.50v-17.33h0.25v17.33zM256.69 414.50v-17.42h0.20v17.42zM258.18 414.50v-17.55h0.20v17.55zM259.26 414.50v-17.64h0.40v17.64zM261.29 414.50v-17.82h0.30v17.82zM262.12 414.50v-17.91h0.25v17.91zM262.87 414.50v-17.95h0.20v17.95zM269.76 414.50v-18.58h0.20v18.58zM273.85 414.50v-18.94h0.20v18.94zM277.75 414.50v-19.29h0.30v19.29zM281.26 414.50v-19.61h0.30v19.61zM287.23 414.50v-20.14h0.20v20.14zM291.78 414.50v-20.53h0.40v20.53zM294.23 414.50v-20.75h0.20v20.75zM295.44 414.50v-20.84h0.20v20.84zM296.20 414.50v-20.93h0.30v20.93zM296.84 414.50v-20.97h0.40v20.97zM298.76 414.50v-21.14h0.30v21.14zM302.74 414.50v-21.50h0.20v21.50zM305.21 414.50v-21.71h0.30v21.71zM310.33 414.50v-22.15h0.25v22.15zM315.96 414.50v-22.66h0.20v22.66zM317.45 414.50v-22.87h0.40v22.87zM319.48 414.50v-23.16h0.25v23.16zM319.77 414.50v-23.23h0.30v23.23zM322.39 414.50v-23.58h0.30v23.58zM323.89 414.50v-23.80h0.25v23.80zM326.33 414.50v-24.87h0.25v24.87z" fill="#fff" opacity="0.32"/>
<rect x="208.00" y="387.38" width="8.58" height="27.12" fill="#fff" opacity="0.3"/>
<rect x="216.58" y="387.38" width="5.72" height="27.12" fill="#fff" opacity="0.15"/>
<path d="M208.0 405.8 L208.0 398.2 L208.5 398.1 L209.0 397.9 L209.5 397.8 L210.0 397.7 L210.5 397.5 L211.0 397.4 L211.5 397.2 L214.0 396.6 L217.0 396.0 L220.0 395.4 L223.0 394.9 L226.0 394.7 L229.0 394.5 L232.0 394.3 L235.0 394.1 L238.1 393.9 L241.1 393.7 L244.1 393.5 L247.1 393.4 L250.1 393.3 L253.1 393.2 L256.1 393.1 L259.1 392.9 L262.1 392.8 L265.1 392.7 L268.1 392.6 L271.1 392.5 L274.1 392.4 L277.1 392.3 L280.1 392.1 L283.1 392.0 L286.1 391.9 L289.1 391.8 L292.1 391.7 L295.1 391.6 L298.2 391.5 L301.2 391.4 L304.2 391.3 L307.2 391.2 L310.2 391.1 L313.2 391.0 L316.2 390.8 L319.2 390.5 L322.2 390.3 L324.2 390.1 L324.7 390.0 L325.2 389.8 L325.7 389.5 L326.2 389.2 L326.7 388.9 L327.2 388.6 L327.2 389.9 L326.7 390.3 L326.2 390.6 L325.7 390.9 L325.2 391.3 L324.7 391.5 L324.2 391.6 L322.2 391.9 L319.2 392.3 L316.2 392.7 L313.2 393.1 L310.2 393.3 L307.2 393.6 L304.2 393.9 L301.2 394.1 L298.2 394.4 L295.1 394.6 L292.1 394.9 L289.1 395.2 L286.1 395.4 L283.1 395.7 L280.1 396.0 L277.1 396.2 L274.1 396.5 L271.1 396.8 L268.1 397.0 L265.1 397.3 L262.1 397.6 L259.1 397.8 L256.1 398.1 L253.1 398.4 L250.1 398.6 L247.1 398.9 L244.1 399.2 L241.1 399.5 L238.1 399.9 L235.0 400.2 L232.0 400.6 L229.0 400.9 L226.0 401.3 L223.0 401.6 L220.0 402.3 L217.0 403.1 L214.0 403.9 L211.5 404.6 L211.0 404.8 L210.5 404.9 L210.0 405.1 L209.5 405.3 L209.0 405.4 L208.5 405.6 L208.0 405.8Z" fill="#5e5e5e" opacity="0.075"/>
<path d="M208.0 405.8 L208.0 399.4 L208.5 399.3 L209.0 399.1 L209.5 399.0 L210.0 398.9 L210.5 398.7 L211.0 398.6 L211.5 398.4 L214.0 397.8 L217.0 397.1 L220.0 396.5 L223.0 395.9 L226.0 395.7 L229.0 395.5 L232.0 395.3 L235.0 395.1 L238.1 394.8 L241.1 394.6 L244.1 394.4 L247.1 394.3 L250.1 394.1 L253.1 394.0 L256.1 393.8 L259.1 393.7 L262.1 393.6 L265.1 393.4 L268.1 393.3 L271.1 393.2 L274.1 393.0 L277.1 392.9 L280.1 392.7 L283.1 392.6 L286.1 392.5 L289.1 392.3 L292.1 392.2 L295.1 392.1 L298.2 391.9 L301.2 391.8 L304.2 391.7 L307.2 391.5 L310.2 391.4 L313.2 391.3 L316.2 391.1 L319.2 390.8 L322.2 390.5 L324.2 390.3 L324.7 390.2 L325.2 390.0 L325.7 389.7 L326.2 389.4 L326.7 389.0 L327.2 388.7 L327.2 389.9 L326.7 390.3 L326.2 390.6 L325.7 390.9 L325.2 391.3 L324.7 391.5 L324.2 391.6 L322.2 391.9 L319.2 392.3 L316.2 392.7 L313.2 393.1 L310.2 393.3 L307.2 393.6 L304.2 393.9 L301.2 394.1 L298.2 394.4 L295.1 394.6 L292.1 394.9 L289.1 395.2 L286.1 395.4 L283.1 395.7 L280.1 396.0 L277.1 396.2 L274.1 396.5 L271.1 396.8 L268.1 397.0 L265.1 397.3 L262.1 397.6 L259.1 397.8 L256.1 398.1 L253.1 398.4 L250.1 398.6 L247.1 398.9 L244.1 399.2 L241.1 399.5 L238.1 399.9 L235.0 400.2 L232.0 400.6 L229.0 400.9 L226.0 401.3 L223.0 401.6 L220.0 402.3 L217.0 403.1 L214.0 403.9 L211.5 404.6 L211.0 404.8 L210.5 404.9 L210.0 405.1 L209.5 405.3 L209.0 405.4 L208.5 405.6 L208.0 405.8Z" fill="#5e5e5e" opacity="0.075"/>
<path d="M208.0 405.8 L208.0 400.6 L208.5 400.5 L209.0 400.3 L209.5 400.2 L210.0 400.0 L210.5 399.9 L211.0 399.7 L211.5 399.6 L214.0 398.9 L217.0 398.3 L220.0 397.6 L223.0 397.0 L226.0 396.8 L229.0 396.5 L232.0 396.3 L235.0 396.0 L238.1 395.8 L241.1 395.5 L244.1 395.3 L247.1 395.1 L250.1 395.0 L253.1 394.8 L256.1 394.6 L259.1 394.5 L262.1 394.3 L265.1 394.1 L268.1 394.0 L271.1 393.8 L274.1 393.6 L277.1 393.5 L280.1 393.3 L283.1 393.2 L286.1 393.0 L289.1 392.8 L292.1 392.7 L295.1 392.5 L298.2 392.4 L301.2 392.2 L304.2 392.0 L307.2 391.9 L310.2 391.7 L313.2 391.6 L316.2 391.3 L319.2 391.0 L322.2 390.7 L324.2 390.5 L324.7 390.4 L325.2 390.2 L325.7 389.9 L326.2 389.5 L326.7 389.2 L327.2 388.9 L327.2 389.9 L326.7 390.3 L326.2 390.6 L325.7 390.9 L325.2 391.3 L324.7 391.5 L324.2 391.6 L322.2 391.9 L319.2 392.3 L316.2 392.7 L313.2 393.1 L310.2 393.3 L307.2 393.6 L304.2 393.9 L301.2 394.1 L298.2 394.4 L295.1 394.6 L292.1 394.9 L289.1 395.2 L286.1 395.4 L283.1 395.7 L280.1 396.0 L277.1 396.2 L274.1 396.5 L271.1 396.8 L268.1 397.0 L265.1 397.3 L262.1 397.6 L259.1 397.8 L256.1 398.1 L253.1 398.4 L250.1 398.6 L247.1 398.9 L244.1 399.2 L241.1 399.5 L238.1 399.9 L235.0 400.2 L232.0 400.6 L229.0 400.9 L226.0 401.3 L223.0 401.6 L220.0 402.3 L217.0 403.1 L214.0 403.9 L211.5 404.6 L211.0 404.8 L210.5 404.9 L210.0 405.1 L209.5 405.3 L209.0 405.4 L208.5 405.6 L208.0 405.8Z" fill="#5e5e5e" opacity="0.075"/>
<path d="M208.0 405.8 L208.0 401.8 L208.5 401.7 L209.0 401.5 L209.5 401.4 L210.0 401.2 L210.5 401.1 L211.0 400.9 L211.5 400.8 L214.0 400.1 L217.0 399.4 L220.0 398.7 L223.0 398.1 L226.0 397.8 L229.0 397.5 L232.0 397.3 L235.0 397.0 L238.1 396.7 L241.1 396.5 L244.1 396.2 L247.1 396.0 L250.1 395.8 L253.1 395.6 L256.1 395.4 L259.1 395.2 L262.1 395.0 L265.1 394.9 L268.1 394.7 L271.1 394.5 L274.1 394.3 L277.1 394.1 L280.1 393.9 L283.1 393.7 L286.1 393.5 L289.1 393.3 L292.1 393.2 L295.1 393.0 L298.2 392.8 L301.2 392.6 L304.2 392.4 L307.2 392.2 L310.2 392.0 L313.2 391.9 L316.2 391.6 L319.2 391.3 L322.2 390.9 L324.2 390.7 L324.7 390.6 L325.2 390.4 L325.7 390.1 L326.2 389.7 L326.7 389.4 L327.2 389.1 L327.2 389.9 L326.7 390.3 L326.2 390.6 L325.7 390.9 L325.2 391.3 L324.7 391.5 L324.2 391.6 L322.2 391.9 L319.2 392.3 L316.2 392.7 L313.2 393.1 L310.2 393.3 L307.2 393.6 L304.2 393.9 L301.2 394.1 L298.2 394.4 L295.1 394.6 L292.1 394.9 L289.1 395.2 L286.1 395.4 L283.1 395.7 L280.1 396.0 L277.1 396.2 L274.1 396.5 L271.1 396.8 L268.1 397.0 L265.1 397.3 L262.1 397.6 L259.1 397.8 L256.1 398.1 L253.1 398.4 L250.1 398.6 L247.1 398.9 L244.1 399.2 L241.1 399.5 L238.1 399.9 L235.0 400.2 L232.0 400.6 L229.0 400.9 L226.0 401.3 L223.0 401.6 L220.0 402.3 L217.0 403.1 L214.0 403.9 L211.5 404.6 L211.0 404.8 L210.5 404.9 L210.0 405.1 L209.5 405.3 L209.0 405.4 L208.5 405.6 L208.0 405.8Z" fill="#5e5e5e" opacity="0.075"/>
<path d="M208.0 405.8 L208.0 403.0 L208.5 402.9 L209.0 402.7 L209.5 402.6 L210.0 402.4 L210.5 402.3 L211.0 402.1 L211.5 401.9 L214.0 401.2 L217.0 400.5 L220.0 399.8 L223.0 399.2 L226.0 398.9 L229.0 398.6 L232.0 398.3 L235.0 398.0 L238.1 397.7 L241.1 397.4 L244.1 397.1 L247.1 396.9 L250.1 396.7 L253.1 396.4 L256.1 396.2 L259.1 396.0 L262.1 395.8 L265.1 395.6 L268.1 395.4 L271.1 395.1 L274.1 394.9 L277.1 394.7 L280.1 394.5 L283.1 394.3 L286.1 394.1 L289.1 393.8 L292.1 393.6 L295.1 393.4 L298.2 393.2 L301.2 393.0 L304.2 392.8 L307.2 392.6 L310.2 392.4 L313.2 392.2 L316.2 391.9 L319.2 391.5 L322.2 391.1 L324.2 390.9 L324.7 390.8 L325.2 390.6 L325.7 390.2 L326.2 389.9 L326.7 389.6 L327.2 389.3 L327.2 389.9 L326.7 390.3 L326.2 390.6 L325.7 390.9 L325.2 391.3 L324.7 391.5 L324.2 391.6 L322.2 391.9 L319.2 392.3 L316.2 392.7 L313.2 393.1 L310.2 393.3 L307.2 393.6 L304.2 393.9 L301.2 394.1 L298.2 394.4 L295.1 394.6 L292.1 394.9 L289.1 395.2 L286.1 395.4 L283.1 395.7 L280.1 396.0 L277.1 396.2 L274.1 396.5 L271.1 396.8 L268.1 397.0 L265.1 397.3 L262.1 397.6 L259.1 397.8 L256.1 398.1 L253.1 398.4 L250.1 398.6 L247.1 398.9 L244.1 399.2 L241.1 399.5 L238.1 399.9 L235.0 400.2 L232.0 400.6 L229.0 400.9 L226.0 401.3 L223.0 401.6 L220.0 402.3 L217.0 403.1 L214.0 403.9 L211.5 404.6 L211.0 404.8 L210.5 404.9 L210.0 405.1 L209.5 405.3 L209.0 405.4 L208.5 405.6 L208.0 405.8Z" fill="#5e5e5e" opacity="0.075"/>
<path d="M208.0 405.8 L208.0 404.3 L208.5 404.1 L209.0 403.9 L209.5 403.8 L210.0 403.6 L210.5 403.4 L211.0 403.3 L211.5 403.1 L214.0 402.4 L217.0 401.6 L220.0 400.9 L223.0 400.2 L226.0 399.9 L229.0 399.6 L232.0 399.3 L235.0 398.9 L238.1 398.6 L241.1 398.3 L244.1 398.0 L247.1 397.7 L250.1 397.5 L253.1 397.3 L256.1 397.0 L259.1 396.8 L262.1 396.5 L265.1 396.3 L268.1 396.0 L271.1 395.8 L274.1 395.6 L277.1 395.3 L280.1 395.1 L283.1 394.8 L286.1 394.6 L289.1 394.4 L292.1 394.1 L295.1 393.9 L298.2 393.6 L301.2 393.4 L304.2 393.2 L307.2 392.9 L310.2 392.7 L313.2 392.5 L316.2 392.2 L319.2 391.8 L322.2 391.4 L324.2 391.1 L324.7 391.0 L325.2 390.8 L325.7 390.4 L326.2 390.1 L326.7 389.8 L327.2 389.5 L327.2 389.9 L326.7 390.3 L326.2 390.6 L325.7 390.9 L325.2 391.3 L324.7 391.5 L324.2 391.6 L322.2 391.9 L319.2 392.3 L316.2 392.7 L313.2 393.1 L310.2 393.3 L307.2 393.6 L304.2 393.9 L301.2 394.1 L298.2 394.4 L295.1 394.6 L292.1 394.9 L289.1 395.2 L286.1 395.4 L283.1 395.7 L280.1 396.0 L277.1 396.2 L274.1 396.5 L271.1 396.8 L268.1 397.0 L265.1 397.3 L262.1 397.6 L259.1 397.8 L256.1 398.1 L253.1 398.4 L250.1 398.6 L247.1 398.9 L244.1 399.2 L241.1 399.5 L238.1 399.9 L235.0 400.2 L232.0 400.6 L229.0 400.9 L226.0 401.3 L223.0 401.6 L220.0 402.3 L217.0 403.1 L214.0 403.9 L211.5 404.6 L211.0 404.8 L210.5 404.9 L210.0 405.1 L209.5 405.3 L209.0 405.4 L208.5 405.6 L208.0 405.8Z" fill="#5e5e5e" opacity="0.075"/>
<path d="M208.75 405.49v-3.16h0.25v3.16zM209.00 405.33v-5.14h0.25v5.14zM209.25 405.33v-7.55h0.25v7.55zM209.50 405.16v-8.14h0.25v8.14zM210.00 405.00v-8.43h0.25v8.43zM210.25 405.00v-3.60h0.25v3.60zM210.50 404.83v-3.02h0.25v3.02zM210.75 404.83v-5.88h0.25v5.88zM211.26 404.66v-5.05h0.25v5.05zM211.76 404.50v-8.25h0.25v8.25zM213.01 404.02v-3.67h0.25v3.67zM213.26 404.02v-3.10h0.25v3.10zM213.76 403.88v-2.70h0.25v2.70zM214.76 403.62v-7.97h0.25v7.97zM215.01 403.49v-5.71h0.25v5.71zM215.51 403.36v-5.10h0.25v5.10zM216.01 403.23v-3.05h0.25v3.05zM216.76 403.10v-6.15h0.25v6.15zM217.02 402.97v-5.08h0.25v5.08zM217.27 402.97v-2.44h0.25v2.44zM217.52 402.84v-6.10h0.25v6.10zM217.77 402.84v-2.38h0.25v2.38zM218.02 402.71v-4.72h0.25v4.72zM218.27 402.71v-3.84h0.25v3.84zM218.52 402.58v-7.43h0.25v7.43zM219.02 402.45v-7.38h0.25v7.38zM219.52 402.32v-3.51h0.25v3.51zM219.77 402.32v-3.37h0.25v3.37zM220.02 402.19v-4.81h0.25v4.81zM220.27 402.19v-2.50h0.25v2.50zM220.52 402.06v-6.76h0.25v6.76zM220.77 402.06v-3.02h0.25v3.02zM221.27 401.93v-2.34h0.25v2.34zM221.52 401.80v-3.99h0.25v3.99zM221.77 401.80v-2.81h0.25v2.81zM222.02 401.67v-6.53h0.25v6.53zM222.27 401.67v-4.07h0.25v4.07zM222.77 401.57v-3.86h0.25v3.86zM223.03 401.51v-7.75h0.25v7.75zM223.28 401.51v-7.80h0.25v7.80zM224.78 401.33v-2.83h0.25v2.83zM225.03 401.28v-3.74h0.25v3.74zM225.53 401.22v-2.74h0.25v2.74zM225.78 401.22v-4.57h0.25v4.57zM226.03 401.16v-2.55h0.25v2.55zM226.28 401.16v-6.96h0.25v6.96zM226.78 401.10v-5.33h0.25v5.33zM227.03 401.04v-5.96h0.25v5.96zM227.28 401.04v-3.32h0.25v3.32zM227.53 400.99v-6.08h0.25v6.08zM227.78 400.99v-4.89h0.25v4.89zM228.03 400.93v-4.19h0.25v4.19zM228.53 400.87v-6.06h0.25v6.06zM228.78 400.87v-2.24h0.25v2.24zM229.04 400.81v-4.82h0.25v4.82zM229.29 400.81v-2.51h0.25v2.51zM229.54 400.75v-5.48h0.25v5.48zM229.79 400.75v-7.12h0.25v7.12zM230.04 400.70v-2.05h0.25v2.05zM230.54 400.64v-2.23h0.25v2.23zM230.79 400.64v-5.45h0.25v5.45zM231.04 400.58v-2.56h0.25v2.56zM231.54 400.52v-4.27h0.25v4.27zM231.79 400.52v-4.31h0.25v4.31zM232.04 400.46v-3.49h0.25v3.49zM232.29 400.46v-2.50h0.25v2.50zM232.54 400.41v-5.34h0.25v5.34zM233.04 400.35v-6.52h0.25v6.52zM233.54 400.29v-6.68h0.25v6.68zM233.79 400.29v-2.88h0.25v2.88zM234.04 400.23v-4.75h0.25v4.75zM234.29 400.23v-2.13h0.25v2.13zM234.54 400.17v-3.84h0.25v3.84zM234.79 400.17v-3.84h0.25v3.84zM235.55 400.06v-6.39h0.25v6.39zM235.80 400.06v-2.14h0.25v2.14zM236.05 400.00v-6.26h0.25v6.26zM236.55 399.94v-2.97h0.25v2.97zM237.05 399.88v-2.39h0.25v2.39zM237.55 399.83v-2.16h0.25v2.16zM237.80 399.83v-5.85h0.25v5.85zM238.30 399.77v-2.63h0.25v2.63zM238.55 399.71v-6.81h0.25v6.81zM238.80 399.71v-3.93h0.25v3.93zM239.05 399.65v-3.47h0.25v3.47zM239.30 399.65v-2.81h0.25v2.81zM239.80 399.59v-2.73h0.25v2.73zM240.05 399.54v-5.19h0.25v5.19zM240.80 399.48v-2.23h0.25v2.23zM241.06 399.42v-4.42h0.25v4.42zM241.31 399.42v-3.31h0.25v3.31zM241.56 399.36v-5.64h0.25v5.64zM242.31 399.30v-3.14h0.25v3.14zM242.56 399.25v-2.03h0.25v2.03zM243.06 399.19v-3.63h0.25v3.63zM243.31 399.19v-2.51h0.25v2.51zM243.56 399.13v-6.02h0.25v6.02zM243.81 399.13v-4.46h0.25v4.46zM244.31 399.08v-2.25h0.25v2.25zM244.81 399.03v-2.67h0.25v2.67zM245.31 398.99v-2.11h0.25v2.11zM246.06 398.90v-4.66h0.25v4.66zM246.81 398.86v-2.10h0.25v2.10zM247.07 398.81v-4.66h0.25v4.66zM247.32 398.81v-3.57h0.25v3.57zM247.57 398.77v-2.66h0.25v2.66zM247.82 398.77v-2.16h0.25v2.16zM248.07 398.72v-2.56h0.25v2.56zM248.32 398.72v-5.75h0.25v5.75zM248.57 398.68v-4.36h0.25v4.36zM248.82 398.68v-1.74h0.25v1.74zM249.07 398.63v-5.60h0.25v5.60zM249.32 398.63v-3.71h0.25v3.71zM249.57 398.59v-5.98h0.25v5.98zM251.57 398.41v-1.70h0.25v1.70zM251.82 398.41v-5.33h0.25v5.33zM252.07 398.36v-1.78h0.25v1.78zM252.32 398.36v-2.20h0.25v2.20zM252.57 398.32v-4.18h0.25v4.18zM252.82 398.32v-3.19h0.25v3.19zM253.08 398.27v-2.25h0.25v2.25zM253.33 398.27v-2.23h0.25v2.23zM254.33 398.19v-2.14h0.25v2.14zM254.58 398.14v-2.46h0.25v2.46zM254.83 398.14v-4.83h0.25v4.83zM255.08 398.10v-2.42h0.25v2.42zM255.33 398.10v-1.99h0.25v1.99zM255.83 398.05v-5.13h0.25v5.13zM256.08 398.01v-4.30h0.25v4.30zM256.33 398.01v-5.50h0.25v5.50zM256.58 397.96v-2.07h0.25v2.07zM256.83 397.96v-3.03h0.25v3.03zM257.08 397.92v-2.69h0.25v2.69zM258.08 397.83v-4.17h0.25v4.17zM258.33 397.83v-2.54h0.25v2.54zM258.58 397.78v-3.05h0.25v3.05zM258.83 397.78v-2.09h0.25v2.09zM259.09 397.74v-3.01h0.25v3.01zM259.34 397.74v-2.12h0.25v2.12zM259.59 397.69v-3.12h0.25v3.12zM259.84 397.69v-4.37h0.25v4.37zM260.34 397.65v-4.00h0.25v4.00zM260.84 397.60v-1.68h0.25v1.68zM261.34 397.56v-1.80h0.25v1.80zM261.84 397.52v-5.28h0.25v5.28zM262.09 397.47v-2.08h0.25v2.08zM262.34 397.47v-4.67h0.25v4.67zM262.59 397.43v-2.41h0.25v2.41zM263.84 397.34v-3.49h0.25v3.49zM264.34 397.29v-5.33h0.25v5.33zM264.59 397.25v-2.53h0.25v2.53zM264.84 397.25v-3.78h0.25v3.78zM265.10 397.20v-1.91h0.25v1.91zM265.35 397.20v-2.82h0.25v2.82zM266.85 397.07v-2.60h0.25v2.60zM267.85 396.98v-2.66h0.25v2.66zM268.35 396.93v-2.37h0.25v2.37zM268.85 396.89v-1.77h0.25v1.77zM269.35 396.84v-2.65h0.25v2.65zM269.60 396.80v-3.11h0.25v3.11zM269.85 396.80v-3.41h0.25v3.41zM270.10 396.76v-3.76h0.25v3.76zM270.61 396.71v-1.42h0.25v1.42zM271.36 396.67v-2.32h0.25v2.32zM271.61 396.62v-3.35h0.25v3.35zM272.11 396.58v-3.51h0.25v3.51zM272.36 396.58v-4.72h0.25v4.72zM272.61 396.53v-2.39h0.25v2.39zM272.86 396.53v-4.17h0.25v4.17zM273.11 396.49v-1.57h0.25v1.57zM273.61 396.44v-2.11h0.25v2.11zM273.86 396.44v-4.57h0.25v4.57zM274.11 396.40v-2.77h0.25v2.77zM274.61 396.35v-2.89h0.25v2.89zM275.36 396.31v-4.00h0.25v4.00zM276.36 396.22v-2.96h0.25v2.96zM276.62 396.17v-3.31h0.25v3.31zM276.87 396.17v-3.00h0.25v3.00zM277.12 396.13v-4.26h0.25v4.26zM278.37 396.04v-4.38h0.25v4.38zM278.62 396.00v-3.54h0.25v3.54zM278.87 396.00v-3.15h0.25v3.15zM279.12 395.95v-4.30h0.25v4.30zM280.12 395.86v-3.54h0.25v3.54zM280.37 395.86v-3.62h0.25v3.62zM280.87 395.82v-1.85h0.25v1.85zM281.12 395.77v-1.24h0.25v1.24zM281.62 395.73v-2.95h0.25v2.95zM282.88 395.64v-1.25h0.25v1.25zM283.13 395.59v-2.33h0.25v2.33zM283.38 395.59v-2.01h0.25v2.01zM283.63 395.55v-1.36h0.25v1.36zM283.88 395.55v-1.69h0.25v1.69zM284.13 395.50v-2.60h0.25v2.60zM284.38 395.50v-2.54h0.25v2.54zM284.63 395.46v-1.25h0.25v1.25zM284.88 395.46v-2.39h0.25v2.39zM285.13 395.42v-1.34h0.25v1.34zM285.38 395.42v-1.29h0.25v1.29zM286.13 395.33v-1.43h0.25v1.43zM286.38 395.33v-1.23h0.25v1.23zM286.63 395.28v-1.55h0.25v1.55zM286.88 395.28v-3.08h0.25v3.08zM287.13 395.24v-2.42h0.25v2.42zM287.38 395.24v-1.15h0.25v1.15zM288.13 395.15v-3.09h0.25v3.09zM288.89 395.11v-1.76h0.25v1.76zM290.14 394.98v-1.70h0.25v1.70zM290.39 394.98v-1.53h0.25v1.53zM290.64 394.93v-3.37h0.25v3.37zM291.14 394.89v-3.42h0.25v3.42zM291.39 394.89v-1.25h0.25v1.25zM291.64 394.85v-2.90h0.25v2.90zM292.14 394.80v-2.48h0.25v2.48zM292.64 394.76v-3.17h0.25v3.17zM293.14 394.72v-2.34h0.25v2.34zM293.64 394.67v-3.38h0.25v3.38zM294.14 394.63v-3.35h0.25v3.35zM294.39 394.63v-3.39h0.25v3.39zM294.90 394.58v-1.62h0.25v1.62zM295.15 394.54v-1.30h0.25v1.30zM295.40 394.54v-2.26h0.25v2.26zM295.65 394.50v-1.99h0.25v1.99zM295.90 394.50v-2.22h0.25v2.22zM296.40 394.45v-1.43h0.25v1.43zM296.90 394.41v-1.12h0.25v1.12zM297.15 394.36v-2.67h0.25v2.67zM297.40 394.36v-2.24h0.25v2.24zM298.15 394.28v-2.57h0.25v2.57zM298.40 394.28v-1.82h0.25v1.82zM298.90 394.23v-3.15h0.25v3.15zM299.40 394.19v-1.15h0.25v1.15zM299.65 394.15v-2.40h0.25v2.40zM300.15 394.10v-2.29h0.25v2.29zM300.40 394.10v-2.06h0.25v2.06zM300.66 394.06v-2.28h0.25v2.28zM300.91 394.06v-3.05h0.25v3.05zM301.16 394.01v-2.50h0.25v2.50zM301.41 394.01v-2.45h0.25v2.45zM301.66 393.97v-1.80h0.25v1.80zM301.91 393.97v-1.18h0.25v1.18zM302.16 393.93v-2.33h0.25v2.33zM302.41 393.93v-0.98h0.25v0.98zM302.66 393.88v-2.11h0.25v2.11zM302.91 393.88v-1.09h0.25v1.09zM303.16 393.84v-2.28h0.25v2.28zM303.41 393.84v-1.07h0.25v1.07zM303.91 393.79v-0.89h0.25v0.89zM304.16 393.75v-1.09h0.25v1.09zM304.66 393.71v-1.18h0.25v1.18zM304.91 393.71v-2.03h0.25v2.03zM305.66 393.62v-2.52h0.25v2.52zM305.91 393.62v-0.96h0.25v0.96zM306.41 393.58v-0.87h0.25v0.87zM306.67 393.53v-2.35h0.25v2.35zM306.92 393.53v-2.56h0.25v2.56zM307.17 393.49v-1.23h0.25v1.23zM307.42 393.49v-2.43h0.25v2.43zM308.17 393.40v-0.90h0.25v0.90zM308.42 393.40v-1.35h0.25v1.35zM308.92 393.36v-2.37h0.25v2.37zM309.17 393.31v-0.93h0.25v0.93zM309.42 393.31v-1.26h0.25v1.26zM309.67 393.27v-1.53h0.25v1.53zM309.92 393.27v-1.62h0.25v1.62zM310.17 393.23v-2.54h0.25v2.54zM310.42 393.23v-1.60h0.25v1.60zM310.67 393.18v-1.68h0.25v1.68zM310.92 393.18v-1.10h0.25v1.10zM311.17 393.14v-1.33h0.25v1.33zM311.42 393.14v-1.61h0.25v1.61zM311.67 393.09v-2.29h0.25v2.29zM312.42 393.05v-1.57h0.25v1.57zM312.93 393.01v-1.06h0.25v1.06zM313.43 392.96v-1.44h0.25v1.44zM313.68 392.92v-2.02h0.25v2.02zM313.93 392.92v-1.85h0.25v1.85zM314.18 392.87v-1.38h0.25v1.38zM314.43 392.87v-0.97h0.25v0.97zM314.68 392.83v-2.01h0.25v2.01zM314.93 392.83v-1.89h0.25v1.89zM315.18 392.79v-1.47h0.25v1.47zM315.43 392.79v-2.21h0.25v2.21zM315.68 392.72v-0.75h0.25v0.75zM315.93 392.72v-1.47h0.25v1.47zM316.18 392.65v-1.16h0.25v1.16zM316.43 392.65v-1.46h0.25v1.46zM316.68 392.58v-1.93h0.25v1.93zM316.93 392.58v-1.56h0.25v1.56zM317.18 392.51v-0.74h0.25v0.74zM317.43 392.51v-1.57h0.25v1.57zM317.68 392.44v-0.69h0.25v0.69zM317.93 392.44v-0.81h0.25v0.81zM318.43 392.36v-1.42h0.25v1.42zM318.69 392.29v-1.41h0.25v1.41zM318.94 392.29v-1.28h0.25v1.28zM319.94 392.15v-0.92h0.25v0.92zM320.19 392.08v-0.95h0.25v0.95zM320.94 392.01v-1.08h0.25v1.08zM321.19 391.94v-1.18h0.25v1.18zM321.44 391.94v-1.38h0.25v1.38zM321.69 391.87v-1.29h0.25v1.29zM321.94 391.87v-0.92h0.25v0.92zM322.69 391.72v-0.63h0.25v0.63zM323.19 391.65v-0.91h0.25v0.91zM323.69 391.58v-1.60h0.25v1.60zM323.94 391.58v-1.25h0.25v1.25zM324.19 391.51v-1.20h0.25v1.20zM324.44 391.51v-1.27h0.25v1.27zM324.70 391.44v-1.14h0.25v1.14zM324.95 391.44v-1.07h0.25v1.07zM325.45 391.17v-0.61h0.25v0.61zM325.70 390.84v-1.52h0.25v1.52zM326.20 390.50v-0.76h0.25v0.76zM326.45 390.50v-1.37h0.25v1.37zM326.95 390.17v-0.54h0.25v0.54z" fill="#5e5e5e" opacity="0.26"/>
<line x1="173.2" y1="386.7" x2="173.2" y2="416.0" stroke="#3a3a3a" stroke-width="0.6"/>
<g stroke="#333" stroke-width="0.35">
<line x1="172.0" y1="414.50" x2="173.2" y2="414.50"/>
<line x1="172.0" y1="408.85" x2="173.2" y2="408.85"/>
<line x1="172.0" y1="403.20" x2="173.2" y2="403.20"/>
<line x1="172.0" y1="397.55" x2="173.2" y2="397.55"/>
<line x1="172.0" y1="391.90" x2="173.2" y2="391.90"/>
</g>
<text class="tk" x="165.4" y="416.20" style="font-size:5px">0</text>
<text class="tk" x="165.4" y="410.55" style="font-size:5px">2.5</text>
<text class="tk" x="165.4" y="404.90" style="font-size:5px">5</text>
<text class="tk" x="165.4" y="399.25" style="font-size:5px">7.5</text>
<text class="tk" x="165.4" y="393.60" style="font-size:5px">10</text>
<rect x="334.6" y="386.3" width="6.2" height="29.6" fill="#c997d7"/>
<text class="st" transform="translate(336.8,402.7) rotate(90)" text-anchor="middle">IPO7</text>
<rect x="173.2" y="418.4" width="158.40000000000003" height="29.3" fill="#fff"/>
<g stroke="#f8f8f8" stroke-width="0.3">
<line x1="173.2" y1="443.38" x2="331.6" y2="443.38"/>
<line x1="173.2" y1="437.72" x2="331.6" y2="437.72"/>
<line x1="173.2" y1="432.07" x2="331.6" y2="432.07"/>
<line x1="173.2" y1="426.43" x2="331.6" y2="426.43"/>
<line x1="173.2" y1="420.77" x2="331.6" y2="420.77"/>
<line x1="201.15" y1="418.4" x2="201.15" y2="447.7"/>
<line x1="241.05" y1="418.4" x2="241.05" y2="447.7"/>
<line x1="280.95" y1="418.4" x2="280.95" y2="447.7"/>
<line x1="320.85" y1="418.4" x2="320.85" y2="447.7"/>
</g>
<g stroke="#f0f0f0" stroke-width="0.45">
<line x1="173.2" y1="446.20" x2="331.6" y2="446.20"/>
<line x1="173.2" y1="440.55" x2="331.6" y2="440.55"/>
<line x1="173.2" y1="434.90" x2="331.6" y2="434.90"/>
<line x1="173.2" y1="429.25" x2="331.6" y2="429.25"/>
<line x1="173.2" y1="423.60" x2="331.6" y2="423.60"/>
<line x1="181.20" y1="418.4" x2="181.20" y2="447.7"/>
<line x1="221.10" y1="418.4" x2="221.10" y2="447.7"/>
<line x1="261.00" y1="418.4" x2="261.00" y2="447.7"/>
<line x1="300.90" y1="418.4" x2="300.90" y2="447.7"/>
</g>
<path d="M208.00 446.20 L208.00 437.39 L208.50 436.96 L209.00 436.53 L209.50 436.10 L210.00 435.68 L210.50 435.29 L211.01 435.05 L211.51 434.81 L212.01 434.56 L212.51 434.32 L213.01 434.07 L213.51 433.83 L214.01 433.58 L214.51 433.34 L215.01 433.18 L215.51 433.02 L216.01 432.87 L216.51 432.71 L217.02 432.56 L217.52 432.40 L218.02 432.24 L218.52 432.09 L219.02 431.93 L219.52 431.78 L220.02 431.62 L220.52 431.47 L221.02 431.31 L221.52 431.24 L222.02 431.18 L222.52 431.13 L223.03 431.07 L223.53 431.01 L224.03 430.96 L224.53 430.90 L225.03 430.85 L225.53 430.79 L226.03 430.74 L226.53 430.68 L227.03 430.62 L227.53 430.57 L228.03 430.51 L228.53 430.46 L229.04 430.40 L229.54 430.34 L230.04 430.29 L230.54 430.23 L231.04 430.18 L231.54 430.12 L232.04 430.07 L232.54 430.01 L233.04 429.95 L233.54 429.90 L234.04 429.84 L234.54 429.79 L235.05 429.73 L235.55 429.67 L236.05 429.62 L236.55 429.56 L237.05 429.51 L237.55 429.45 L238.05 429.39 L238.55 429.34 L239.05 429.28 L239.55 429.23 L240.05 429.17 L240.55 429.12 L241.06 429.06 L241.56 429.01 L242.06 428.97 L242.56 428.93 L243.06 428.88 L243.56 428.84 L244.06 428.80 L244.56 428.76 L245.06 428.72 L245.56 428.67 L246.06 428.63 L246.56 428.59 L247.07 428.55 L247.57 428.51 L248.07 428.47 L248.57 428.42 L249.07 428.38 L249.57 428.34 L250.07 428.30 L250.57 428.26 L251.07 428.22 L251.57 428.17 L252.07 428.13 L252.57 428.09 L253.08 428.05 L253.58 428.01 L254.08 427.96 L254.58 427.92 L255.08 427.88 L255.58 427.84 L256.08 427.80 L256.58 427.76 L257.08 427.71 L257.58 427.67 L258.08 427.63 L258.58 427.59 L259.09 427.55 L259.59 427.50 L260.09 427.46 L260.59 427.42 L261.09 427.38 L261.59 427.34 L262.09 427.30 L262.59 427.25 L263.09 427.21 L263.59 427.17 L264.09 427.13 L264.59 427.09 L265.10 427.05 L265.60 427.00 L266.10 426.96 L266.60 426.92 L267.10 426.88 L267.60 426.84 L268.10 426.79 L268.60 426.75 L269.10 426.71 L269.60 426.67 L270.10 426.63 L270.61 426.59 L271.11 426.54 L271.61 426.50 L272.11 426.46 L272.61 426.41 L273.11 426.37 L273.61 426.33 L274.11 426.29 L274.61 426.24 L275.11 426.20 L275.61 426.16 L276.11 426.11 L276.62 426.07 L277.12 426.03 L277.62 425.98 L278.12 425.94 L278.62 425.90 L279.12 425.85 L279.62 425.81 L280.12 425.77 L280.62 425.72 L281.12 425.68 L281.62 425.64 L282.12 425.59 L282.63 425.55 L283.13 425.51 L283.63 425.46 L284.13 425.42 L284.63 425.39 L285.13 425.35 L285.63 425.32 L286.13 425.29 L286.63 425.26 L287.13 425.23 L287.63 425.20 L288.13 425.16 L288.64 425.13 L289.14 425.10 L289.64 425.07 L290.14 425.04 L290.64 425.01 L291.14 424.97 L291.64 424.94 L292.14 424.91 L292.64 424.88 L293.14 424.85 L293.64 424.82 L294.14 424.79 L294.65 424.75 L295.15 424.72 L295.65 424.69 L296.15 424.66 L296.65 424.63 L297.15 424.60 L297.65 424.56 L298.15 424.53 L298.65 424.50 L299.15 424.47 L299.65 424.44 L300.15 424.41 L300.66 424.37 L301.16 424.34 L301.66 424.31 L302.16 424.28 L302.66 424.25 L303.16 424.22 L303.66 424.18 L304.16 424.15 L304.66 424.12 L305.16 424.09 L305.66 424.06 L306.16 424.03 L306.67 423.99 L307.17 423.96 L307.67 423.93 L308.17 423.90 L308.67 423.87 L309.17 423.84 L309.67 423.79 L310.17 423.75 L310.67 423.70 L311.17 423.65 L311.67 423.60 L312.17 423.56 L312.68 423.51 L313.18 423.46 L313.68 423.41 L314.18 423.37 L314.68 423.32 L315.18 423.27 L315.68 423.22 L316.18 423.18 L316.68 423.13 L317.18 423.08 L317.68 423.03 L318.18 422.99 L318.69 422.94 L319.19 422.89 L319.69 422.84 L320.19 422.80 L320.69 422.75 L321.19 422.70 L321.69 422.65 L322.19 422.61 L322.69 422.56 L323.19 422.51 L323.69 422.44 L324.19 422.25 L324.70 422.06 L325.20 421.87 L325.70 421.68 L326.20 421.28 L326.70 420.52 L327.20 419.76 L327.20 446.20 Z" fill="#5e5e5e"/>
<line x1="173.2" y1="418.4" x2="173.2" y2="447.7" stroke="#3a3a3a" stroke-width="0.6"/>
<g stroke="#333" stroke-width="0.35">
<line x1="172.0" y1="446.20" x2="173.2" y2="446.20"/>
<line x1="172.0" y1="440.55" x2="173.2" y2="440.55"/>
<line x1="172.0" y1="434.90" x2="173.2" y2="434.90"/>
<line x1="172.0" y1="429.25" x2="173.2" y2="429.25"/>
<line x1="172.0" y1="423.60" x2="173.2" y2="423.60"/>
</g>
<text class="tk" x="165.4" y="447.90" style="font-size:5px">0</text>
<text class="tk" x="165.4" y="442.25" style="font-size:5px">2.5</text>
<text class="tk" x="165.4" y="436.60" style="font-size:5px">5</text>
<text class="tk" x="165.4" y="430.95" style="font-size:5px">7.5</text>
<text class="tk" x="165.4" y="425.30" style="font-size:5px">10</text>
<rect x="334.6" y="418.0" width="6.2" height="29.6" fill="#c997d7"/>
<text class="st" transform="translate(336.8,434.3) rotate(90)" text-anchor="middle">KPNB1</text>
<line x1="173.2" y1="447.7" x2="331.6" y2="447.7" stroke="#3a3a3a" stroke-width="0.6"/>
<line x1="181.20" y1="447.7" x2="181.20" y2="449.0" stroke="#333" stroke-width="0.35"/>
<text class="tk" x="181.20" y="455.0" text-anchor="middle" style="font-size:5.2px">0</text>
<line x1="221.10" y1="447.7" x2="221.10" y2="449.0" stroke="#333" stroke-width="0.35"/>
<text class="tk" x="221.10" y="455.0" text-anchor="middle" style="font-size:5.2px">2000</text>
<line x1="261.00" y1="447.7" x2="261.00" y2="449.0" stroke="#333" stroke-width="0.35"/>
<text class="tk" x="261.00" y="455.0" text-anchor="middle" style="font-size:5.2px">4000</text>
<line x1="300.90" y1="447.7" x2="300.90" y2="449.0" stroke="#333" stroke-width="0.35"/>
<text class="tk" x="300.90" y="455.0" text-anchor="middle" style="font-size:5.2px">6000</text>
<text class="tt" x="276.4" y="467.7" text-anchor="middle" style="font-size:6.85px">Samples (n = 7330)</text>
<text class="ax" transform="translate(155.3,413.6) rotate(-90)" text-anchor="middle">Log10 (Intensity)</text>
</g>
</svg></body></html>
